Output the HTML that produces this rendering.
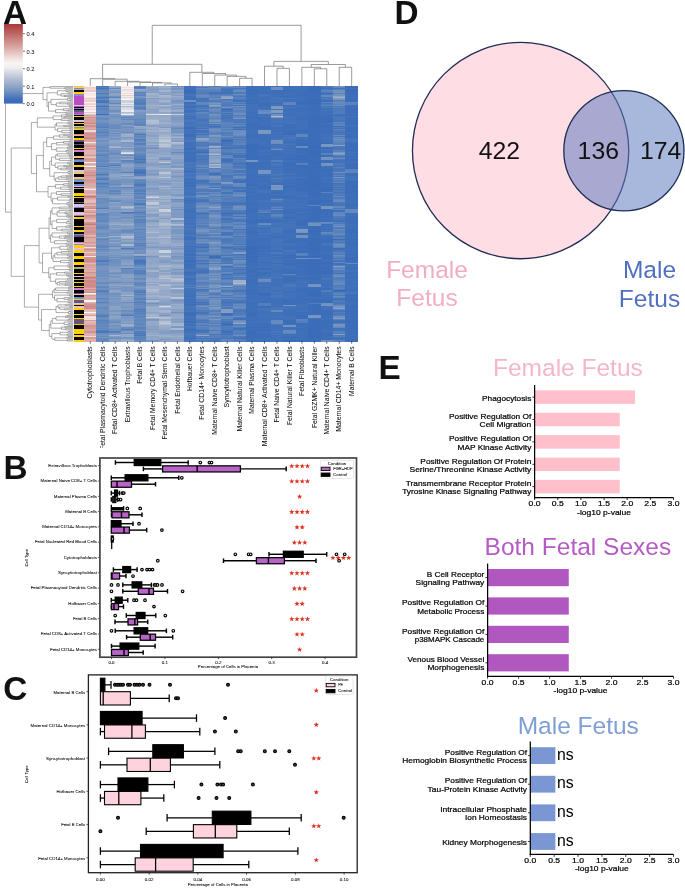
<!DOCTYPE html>
<html><head><meta charset="utf-8"><style>
html,body{margin:0;padding:0;background:#fff;}
body{width:685px;height:891px;overflow:hidden;position:relative;font-family:"Liberation Sans",sans-serif;}
.hc{position:absolute;top:86px;height:255.5px;}
svg{position:absolute;left:0;top:0;will-change:transform;}
svg text{font-family:"Liberation Sans",sans-serif;}
</style></head><body>
<div class="hc" style="left:84.00px;width:12.75px;background:linear-gradient(#faf3f3 0.00px 1.11px,#eacfcd 1.11px 2.22px,#ecd3d2 2.22px 3.33px,#efd8d6 3.33px 4.44px,#e8cac8 4.44px 5.55px,#faf4f3 5.55px 6.67px,#f5e5e4 6.67px 7.78px,#f6e8e7 7.78px 8.89px,#f7ebea 8.89px 10.00px,#faf5f4 10.00px 11.11px,#f5e7e5 11.11px 12.22px,#e9cbc9 12.22px 13.33px,#f0dbda 13.33px 14.44px,#eacfcd 14.44px 15.55px,#faf4f3 15.55px 16.66px,#efd8d6 16.66px 17.77px,#ebd0ce 17.77px 18.88px,#faf2f1 18.88px 20.00px,#e7c8c6 20.00px 21.11px,#f5e7e5 21.11px 22.22px,#f7eae8 22.22px 23.33px,#eed7d5 23.33px 24.44px,#faf2f1 24.44px 25.55px,#e8cac8 25.55px 26.66px,#f5e7e5 26.66px 27.77px,#c8cfdd 27.77px 28.88px,#d7a09d 28.88px 29.99px,#ddafad 29.99px 31.10px,#d08f8d 31.10px 32.22px,#d8a3a0 32.22px 33.33px,#d59d9a 33.33px 34.44px,#d59c99 34.44px 35.55px,#d49a97 35.55px 36.66px,#cc8784 36.66px 37.77px,#dcaeab 37.77px 38.88px,#cf8e8b 38.88px 41.10px,#d7a29f 41.10px 42.21px,#dcacaa 42.21px 43.32px,#d59d9a 43.32px 44.43px,#efd8d6 44.43px 45.55px,#d7a29f 45.55px 46.66px,#d19290 46.66px 47.77px,#d29491 47.77px 48.88px,#d29593 48.88px 49.99px,#d49a97 49.99px 51.10px,#cf8e8b 51.10px 52.21px,#cc8784 52.21px 53.32px,#d69f9c 53.32px 54.43px,#d7a29f 54.43px 55.54px,#f5e5e4 55.54px 56.65px,#e1b9b6 56.65px 57.77px,#dcacaa 57.77px 58.88px,#d49896 58.88px 59.99px,#cf8e8b 59.99px 61.10px,#dfb5b3 61.10px 62.21px,#d49896 62.21px 63.32px,#d9a6a4 63.32px 64.43px,#dfb5b3 64.43px 65.54px,#deb2b0 65.54px 66.65px,#e1b9b6 66.65px 67.76px,#dbaba8 67.76px 68.87px,#d49a97 68.87px 69.98px,#e2bcb9 69.98px 71.10px,#e5c3c1 71.10px 72.21px,#d7a09d 72.21px 73.32px,#d39794 73.32px 74.43px,#d69f9c 74.43px 75.54px,#f9f5f5 75.54px 76.65px,#ddafad 76.65px 77.76px,#daa9a7 77.76px 78.87px,#e1b9b6 78.87px 79.98px,#f9f5f5 79.98px 81.09px,#d7a29f 81.09px 82.20px,#dcacaa 82.20px 83.32px,#e0b7b5 83.32px 84.43px,#d7a29f 84.43px 85.54px,#d19290 85.54px 86.65px,#d59d9a 86.65px 87.76px,#d39794 87.76px 88.87px,#cd8987 88.87px 89.98px,#d69f9c 89.98px 92.20px,#dcacaa 92.20px 93.31px,#d39794 93.31px 94.42px,#d49896 94.42px 95.53px,#d59d9a 95.53px 96.65px,#d9a6a4 96.65px 97.76px,#dcacaa 97.76px 98.87px,#d9a6a4 98.87px 99.98px,#dcacaa 99.98px 101.09px,#deb2b0 101.09px 102.20px,#e4c0be 102.20px 103.31px,#f7eae8 103.31px 104.42px,#dcaeab 104.42px 105.53px,#daa9a7 105.53px 106.64px,#daa8a5 106.64px 107.75px,#e6c5c3 107.75px 108.87px,#d69f9c 108.87px 109.98px,#c87c7a 109.98px 111.09px,#ce8b88 111.09px 112.20px,#d9a6a4 112.20px 113.31px,#deb1ae 113.31px 114.42px,#e3bfbd 114.42px 115.53px,#e2bcb9 115.53px 116.64px,#d49896 116.64px 117.75px,#daa9a7 117.75px 118.86px,#e2bcb9 118.86px 119.97px,#d1918e 119.97px 121.08px,#d49a97 121.08px 122.20px,#cd8987 122.20px 123.31px,#eacdcb 123.31px 124.42px,#daa8a5 124.42px 125.53px,#d29491 125.53px 126.64px,#e1bab8 126.64px 127.75px,#daa8a5 127.75px 128.86px,#cf8e8b 128.86px 129.97px,#d29491 129.97px 131.08px,#d59c99 131.08px 132.19px,#d9a6a4 132.19px 133.30px,#ddafad 133.30px 134.42px,#e3bdbb 134.42px 135.53px,#d29593 135.53px 136.64px,#cf8c8a 136.64px 137.75px,#c87c7a 137.75px 138.86px,#d7a09d 138.86px 139.97px,#d8a3a0 139.97px 141.08px,#d29593 141.08px 143.30px,#d49a97 143.30px 144.41px,#d29491 144.41px 145.52px,#d1918e 145.52px 146.63px,#d59d9a 146.63px 147.75px,#d49a97 147.75px 148.86px,#e1b9b6 148.86px 149.97px,#dbaba8 149.97px 151.08px,#d1918e 151.08px 152.19px,#daa9a7 152.19px 153.30px,#daa8a5 153.30px 154.41px,#dcaeab 154.41px 155.52px,#d39794 155.52px 156.63px,#d9a6a4 156.63px 157.74px,#dfb5b3 157.74px 158.85px,#d59c99 158.85px 159.97px,#d9a5a2 159.97px 161.08px,#f1dddb 161.08px 162.19px,#dcacaa 162.19px 163.30px,#cf8e8b 163.30px 164.41px,#d9a5a2 164.41px 165.52px,#eacdcb 165.52px 166.63px,#daa8a5 166.63px 167.74px,#dcacaa 167.74px 168.85px,#d59d9a 168.85px 169.96px,#f9eeed 169.96px 171.07px,#d08f8d 171.07px 172.18px,#d49a97 172.18px 173.30px,#cf8c8a 173.30px 174.41px,#cf8e8b 174.41px 175.52px,#d59c99 175.52px 176.63px,#e1b9b6 176.63px 177.74px,#daa8a5 177.74px 178.85px,#d49a97 178.85px 179.96px,#daa9a7 179.96px 181.07px,#d69f9c 181.07px 182.18px,#deb1ae 182.18px 183.29px,#d7a29f 183.29px 184.40px,#ddafad 184.40px 185.52px,#d1918e 185.52px 186.63px,#d7a29f 186.63px 187.74px,#d8a3a0 187.74px 188.85px,#dcaeab 188.85px 189.96px,#d39794 189.96px 191.07px,#ca817e 191.07px 192.18px,#cd8987 192.18px 193.29px,#d69f9c 193.29px 194.40px,#cd8987 194.40px 195.51px,#ce8b88 195.51px 196.62px,#d19290 196.62px 197.73px,#ce8b88 197.73px 198.85px,#cd8987 198.85px 199.96px,#cf8c8a 199.96px 201.07px,#d29491 201.07px 202.18px,#dcacaa 202.18px 203.29px,#d1918e 203.29px 204.40px,#d69f9c 204.40px 205.51px,#cd8885 205.51px 206.62px,#faf3f2 206.62px 207.73px,#eacdcb 207.73px 208.84px,#d59d9a 208.84px 209.95px,#dbaba8 209.95px 211.07px,#daa8a5 211.07px 212.18px,#d9a5a2 212.18px 213.29px,#dbaba8 213.29px 214.40px,#faf5f4 214.40px 215.51px,#deb2b0 215.51px 216.62px,#d69f9c 216.62px 217.73px,#d1918e 217.73px 218.84px,#d29593 218.84px 219.95px,#cc8784 219.95px 221.06px,#cf8e8b 221.06px 223.28px,#deb1ae 223.28px 224.40px,#e2bcb9 224.40px 225.51px,#faf3f3 225.51px 226.62px,#e6c5c3 226.62px 227.73px,#e1b9b6 227.73px 228.84px,#d69f9c 228.84px 229.95px,#efd8d6 229.95px 231.06px,#f5e7e5 231.06px 232.17px,#eed7d5 232.17px 233.28px,#f2e0df 233.28px 234.39px,#d59c99 234.39px 235.50px,#e1b9b6 235.50px 236.62px,#dcacaa 236.62px 237.73px,#ddafad 237.73px 238.84px,#d29593 238.84px 239.95px,#d29491 239.95px 241.06px,#d59c99 241.06px 242.17px,#d59d9a 242.17px 243.28px,#daa8a5 243.28px 244.39px,#d8a3a0 244.39px 245.50px,#d29491 245.50px 246.61px,#daa8a5 246.61px 247.72px,#dfb4b2 247.72px 248.83px,#deb2b0 248.83px 249.95px,#f0dbda 249.95px 251.06px,#d49a97 251.06px 252.17px,#d59c99 252.17px 253.28px,#ddafad 253.28px 254.39px,#deb1ae 254.39px 255.50px)"></div>
<div class="hc" style="left:96.45px;width:12.75px;background:linear-gradient(#4a78bb 0.00px 1.11px,#537ebc 1.11px 2.22px,#4574ba 2.22px 3.33px,#5881bc 3.33px 4.44px,#658abe 4.44px 5.55px,#698cbe 5.55px 6.67px,#507cbb 6.67px 7.78px,#6187bd 7.78px 8.89px,#6a8dbf 8.89px 10.00px,#5d85bd 10.00px 11.11px,#4c79bb 11.11px 12.22px,#517cbb 12.22px 13.33px,#6a8dbf 13.33px 14.44px,#4a78bb 14.44px 15.55px,#4272ba 15.55px 16.66px,#698cbe 16.66px 17.77px,#6a8dbf 17.77px 18.88px,#6187bd 18.88px 20.00px,#4373ba 20.00px 21.11px,#678bbe 21.11px 22.22px,#5a83bc 22.22px 23.33px,#5881bc 23.33px 24.44px,#6389be 24.44px 25.55px,#5e85bd 25.55px 26.66px,#698cbe 26.66px 27.77px,#3a6bb9 27.77px 28.88px,#7192c0 28.88px 29.99px,#7695c1 29.99px 31.10px,#6f91bf 31.10px 32.22px,#6187bd 32.22px 33.33px,#698cbe 33.33px 34.44px,#7393c0 34.44px 35.55px,#6c8ebf 35.55px 36.66px,#678bbe 36.66px 37.77px,#5e85bd 37.77px 38.88px,#6389be 38.88px 39.99px,#5b83bd 39.99px 41.10px,#557fbc 41.10px 42.21px,#6e90bf 42.21px 43.32px,#6489be 43.32px 44.43px,#6389be 44.43px 45.55px,#557fbc 45.55px 46.66px,#678bbe 46.66px 47.77px,#698cbe 47.77px 48.88px,#5d85bd 48.88px 49.99px,#6a8dbf 49.99px 52.21px,#809bc3 52.21px 53.32px,#7e9ac2 53.32px 54.43px,#6f91bf 54.43px 55.54px,#7b98c2 55.54px 56.65px,#7695c1 56.65px 57.77px,#7594c0 57.77px 58.88px,#7192c0 58.88px 59.99px,#698cbe 59.99px 61.10px,#6389be 61.10px 62.21px,#6e90bf 62.21px 64.43px,#6389be 64.43px 65.54px,#7896c1 65.54px 66.65px,#698cbe 66.65px 67.76px,#658abe 67.76px 68.87px,#5881bc 68.87px 69.98px,#6a8dbf 69.98px 71.10px,#678bbe 71.10px 72.21px,#698cbe 72.21px 74.43px,#6187bd 74.43px 75.54px,#6c8ebf 75.54px 76.65px,#678bbe 76.65px 77.76px,#658abe 77.76px 78.87px,#698cbe 78.87px 79.98px,#4e7bbb 79.98px 81.09px,#7997c1 81.09px 82.20px,#678bbe 82.20px 83.32px,#6a8dbf 83.32px 84.43px,#7393c0 84.43px 85.54px,#678bbe 85.54px 86.65px,#698cbe 86.65px 87.76px,#4675ba 87.76px 88.87px,#658abe 88.87px 89.98px,#7594c0 89.98px 91.09px,#658abe 91.09px 92.20px,#5b83bd 92.20px 93.31px,#4d79bb 93.31px 94.42px,#6e90bf 94.42px 95.53px,#658abe 95.53px 96.65px,#4f7bbb 96.65px 97.76px,#5b83bd 97.76px 98.87px,#658abe 98.87px 99.98px,#5a83bc 99.98px 101.09px,#698cbe 101.09px 102.20px,#6a8dbf 102.20px 103.31px,#6e90bf 103.31px 104.42px,#6f91bf 104.42px 105.53px,#698cbe 105.53px 106.64px,#6e90bf 106.64px 107.75px,#7896c1 107.75px 108.87px,#859ec4 108.87px 109.98px,#7997c1 109.98px 111.09px,#829cc3 111.09px 112.20px,#6389be 112.20px 113.31px,#698cbe 113.31px 114.42px,#6c8ebf 114.42px 115.53px,#658abe 115.53px 116.64px,#7192c0 116.64px 117.75px,#6f91bf 117.75px 121.08px,#698cbe 121.08px 122.20px,#537ebc 122.20px 123.31px,#829cc3 123.31px 124.42px,#7b98c2 124.42px 125.53px,#859ec4 125.53px 126.64px,#6087bd 126.64px 128.86px,#6187bd 128.86px 129.97px,#678bbe 129.97px 132.19px,#658abe 132.19px 133.30px,#678bbe 133.30px 134.42px,#6087bd 134.42px 135.53px,#6f91bf 135.53px 136.64px,#7695c1 136.64px 137.75px,#6e90bf 137.75px 139.97px,#6489be 139.97px 141.08px,#6087bd 141.08px 142.19px,#658abe 142.19px 143.30px,#6e90bf 143.30px 144.41px,#7997c1 144.41px 145.52px,#7695c1 145.52px 146.63px,#6e90bf 146.63px 147.75px,#6a8dbf 147.75px 148.86px,#7594c0 148.86px 149.97px,#6f91bf 149.97px 151.08px,#8fa5c7 151.08px 152.19px,#6a8dbf 152.19px 153.30px,#6086bd 153.30px 154.41px,#6c8ebf 154.41px 155.52px,#6e90bf 155.52px 156.63px,#7192c0 156.63px 157.74px,#6e90bf 157.74px 158.85px,#6187bd 158.85px 159.97px,#6087bd 159.97px 162.19px,#7192c0 162.19px 163.30px,#5e85bd 163.30px 164.41px,#6f91bf 164.41px 165.52px,#7e9ac2 165.52px 166.63px,#7695c1 166.63px 167.74px,#7997c1 167.74px 169.96px,#658abe 169.96px 172.18px,#6389be 172.18px 173.30px,#678bbe 173.30px 174.41px,#4e7bbb 174.41px 175.52px,#658abe 175.52px 176.63px,#678bbe 176.63px 177.74px,#5b83bd 177.74px 178.85px,#6c8ebf 178.85px 179.96px,#7594c0 179.96px 181.07px,#7695c1 181.07px 182.18px,#7594c0 182.18px 184.40px,#6f91bf 184.40px 185.52px,#7393c0 185.52px 186.63px,#698cbe 186.63px 187.74px,#7695c1 187.74px 188.85px,#6c8ebf 188.85px 189.96px,#6e90bf 189.96px 191.07px,#7b98c2 191.07px 192.18px,#7393c0 192.18px 193.29px,#7896c1 193.29px 194.40px,#7b98c2 194.40px 195.51px,#698cbe 195.51px 196.62px,#678bbe 196.62px 197.73px,#7594c0 197.73px 198.85px,#7997c1 198.85px 199.96px,#678bbe 199.96px 201.07px,#6087bd 201.07px 202.18px,#7192c0 202.18px 203.29px,#6f91bf 203.29px 204.40px,#557fbc 204.40px 205.51px,#6187bd 205.51px 206.62px,#698cbe 206.62px 207.73px,#678bbe 207.73px 208.84px,#6e90bf 208.84px 209.95px,#7192c0 209.95px 212.18px,#6087bd 212.18px 213.29px,#698cbe 213.29px 214.40px,#6f91bf 214.40px 215.51px,#5680bc 215.51px 216.62px,#6c8ebf 216.62px 217.73px,#7393c0 217.73px 219.95px,#7192c0 219.95px 221.06px,#678bbe 221.06px 222.17px,#658abe 222.17px 223.28px,#6f91bf 223.28px 224.40px,#6e90bf 224.40px 225.51px,#7192c0 225.51px 226.62px,#698cbe 226.62px 227.73px,#678bbe 227.73px 228.84px,#517cbb 228.84px 229.95px,#5881bc 229.95px 231.06px,#6489be 231.06px 232.17px,#6f91bf 232.17px 233.28px,#658abe 233.28px 234.39px,#5680bc 234.39px 235.50px,#5e85bd 235.50px 237.73px,#698cbe 237.73px 238.84px,#5e85bd 238.84px 239.95px,#6389be 239.95px 241.06px,#698cbe 241.06px 242.17px,#6087bd 242.17px 243.28px,#6a8dbf 243.28px 244.39px,#537ebc 244.39px 245.50px,#4877ba 245.50px 246.61px,#6a8dbf 246.61px 247.72px,#6f91bf 247.72px 248.83px,#7192c0 248.83px 249.95px,#678bbe 249.95px 251.06px,#7997c1 251.06px 252.17px,#6087bd 252.17px 253.28px,#6187bd 253.28px 254.39px,#698cbe 254.39px 255.50px)"></div>
<div class="hc" style="left:108.90px;width:12.75px;background:linear-gradient(#97abc9 0.00px 1.11px,#8ba3c6 1.11px 2.22px,#658abe 2.22px 3.33px,#97abc9 3.33px 4.44px,#7d99c2 4.44px 5.55px,#7695c1 5.55px 6.67px,#88a1c5 6.67px 7.78px,#8ba3c6 7.78px 8.89px,#87a0c4 8.89px 10.00px,#6e90bf 10.00px 11.11px,#5882bc 11.11px 12.22px,#8da4c6 12.22px 13.33px,#93a8c8 13.33px 14.44px,#7695c1 14.44px 15.55px,#7e9ac2 15.55px 16.66px,#5d85bd 16.66px 17.77px,#859ec4 17.77px 18.88px,#97abc9 18.88px 20.00px,#7393c0 20.00px 21.11px,#88a1c5 21.11px 22.22px,#839dc4 22.22px 23.33px,#809bc3 23.33px 24.44px,#6e90bf 24.44px 25.55px,#7b98c2 25.55px 26.66px,#95a9c8 26.66px 27.77px,#7192c0 27.77px 28.88px,#7896c1 28.88px 29.99px,#6c8ebf 29.99px 31.10px,#7695c1 31.10px 33.33px,#809bc3 33.33px 34.44px,#7e9ac2 34.44px 35.55px,#7695c1 35.55px 36.66px,#7e9ac2 36.66px 37.77px,#6c8ebf 37.77px 38.88px,#678bbe 38.88px 39.99px,#6c8ebf 39.99px 41.10px,#6a8dbf 41.10px 42.21px,#6389be 42.21px 43.32px,#7e9ac2 43.32px 44.43px,#7192c0 44.43px 45.55px,#829cc3 45.55px 46.66px,#6a8dbf 46.66px 47.77px,#7e9ac2 47.77px 48.88px,#7393c0 48.88px 49.99px,#7695c1 49.99px 51.10px,#859ec4 51.10px 52.21px,#7192c0 52.21px 53.32px,#7896c1 53.32px 54.43px,#8ba3c6 54.43px 55.54px,#8aa2c5 55.54px 56.65px,#859ec4 56.65px 57.77px,#829cc3 57.77px 58.88px,#7b98c2 58.88px 59.99px,#a0b1cc 59.99px 61.10px,#a8b7cf 61.10px 62.21px,#7896c1 62.21px 63.32px,#7e9ac2 63.32px 64.43px,#7393c0 64.43px 65.54px,#7192c0 65.54px 66.65px,#658abe 66.65px 67.76px,#6a8dbf 67.76px 68.87px,#7e9ac2 68.87px 69.98px,#829cc3 69.98px 71.10px,#7192c0 71.10px 72.21px,#7b98c2 72.21px 73.32px,#7e9ac2 73.32px 74.43px,#7896c1 74.43px 75.54px,#8da4c6 75.54px 76.65px,#658abe 76.65px 77.76px,#698cbe 77.76px 78.87px,#507cbb 78.87px 79.98px,#7d99c2 79.98px 81.09px,#6a8dbf 81.09px 82.20px,#7d99c2 82.20px 83.32px,#6c8ebf 83.32px 84.43px,#7695c1 84.43px 85.54px,#7997c1 85.54px 86.65px,#7b98c2 86.65px 87.76px,#8fa5c7 87.76px 91.09px,#859ec4 91.09px 93.31px,#7d99c2 93.31px 94.42px,#6e90bf 94.42px 95.53px,#6c8ebf 95.53px 96.65px,#6e90bf 96.65px 97.76px,#678bbe 97.76px 98.87px,#7896c1 98.87px 99.98px,#859ec4 99.98px 101.09px,#658abe 101.09px 102.20px,#6f91bf 102.20px 103.31px,#7594c0 103.31px 104.42px,#5d85bd 104.42px 105.53px,#6f91bf 105.53px 106.64px,#5b83bc 106.64px 107.75px,#7393c0 107.75px 108.87px,#7e9ac2 108.87px 109.98px,#8ba3c6 109.98px 111.09px,#8da4c6 111.09px 112.20px,#7e9ac2 112.20px 113.31px,#7997c1 113.31px 114.42px,#658abe 114.42px 115.53px,#8ba3c6 115.53px 116.64px,#839dc4 116.64px 117.75px,#7997c1 117.75px 118.86px,#809bc3 118.86px 119.97px,#8da4c6 119.97px 121.08px,#7e9ac2 121.08px 123.31px,#7594c0 123.31px 124.42px,#829cc3 124.42px 125.53px,#6f91bf 125.53px 126.64px,#7695c1 126.64px 127.75px,#7393c0 127.75px 129.97px,#809bc3 129.97px 131.08px,#7e9ac2 131.08px 132.19px,#7192c0 132.19px 133.30px,#7896c1 133.30px 134.42px,#7e9ac2 134.42px 135.53px,#8ba3c6 135.53px 136.64px,#92a7c8 136.64px 137.75px,#9aadca 137.75px 138.86px,#7b98c2 138.86px 139.97px,#859ec4 139.97px 141.08px,#7b98c2 141.08px 142.19px,#90a6c7 142.19px 143.30px,#7e9ac2 143.30px 144.41px,#7594c0 144.41px 145.52px,#6e90bf 145.52px 146.63px,#7b98c2 146.63px 147.75px,#809bc3 147.75px 148.86px,#6f91bf 148.86px 149.97px,#a3b4cd 149.97px 151.08px,#7b98c2 151.08px 152.19px,#7695c1 152.19px 153.30px,#8ba3c6 153.30px 154.41px,#7695c1 154.41px 155.52px,#8fa5c7 155.52px 156.63px,#809bc3 156.63px 157.74px,#7997c1 157.74px 158.85px,#7695c1 158.85px 159.97px,#678bbe 159.97px 161.08px,#88a1c5 161.08px 162.19px,#8ba3c6 162.19px 163.30px,#7192c0 163.30px 164.41px,#7b98c2 164.41px 165.52px,#839dc4 165.52px 166.63px,#809bc3 166.63px 168.85px,#7594c0 168.85px 169.96px,#7e9ac2 169.96px 171.07px,#678bbe 171.07px 172.18px,#809bc3 172.18px 173.30px,#698cbe 173.30px 174.41px,#6c8ebf 174.41px 175.52px,#6e90bf 175.52px 176.63px,#7192c0 176.63px 177.74px,#7393c0 177.74px 178.85px,#7594c0 178.85px 179.96px,#7b98c2 179.96px 181.07px,#839dc4 181.07px 182.18px,#829cc3 182.18px 183.29px,#859ec4 183.29px 184.40px,#8ba3c6 184.40px 185.52px,#7896c1 185.52px 186.63px,#6f91bf 186.63px 187.74px,#7b98c2 187.74px 188.85px,#859ec4 188.85px 189.96px,#7594c0 189.96px 191.07px,#7896c1 191.07px 192.18px,#8aa2c5 192.18px 193.29px,#829cc3 193.29px 194.40px,#7d99c2 194.40px 195.51px,#658abe 195.51px 196.62px,#7d99c2 196.62px 197.73px,#88a1c5 197.73px 199.96px,#7d99c2 199.96px 201.07px,#859ec4 201.07px 202.18px,#7695c1 202.18px 203.29px,#7896c1 203.29px 204.40px,#92a7c8 204.40px 205.51px,#859ec4 205.51px 206.62px,#7192c0 206.62px 207.73px,#6e90bf 207.73px 208.84px,#7b98c2 208.84px 209.95px,#7594c0 209.95px 211.07px,#839dc4 211.07px 212.18px,#7695c1 212.18px 213.29px,#7997c1 213.29px 214.40px,#809bc3 214.40px 215.51px,#7d99c2 215.51px 216.62px,#7695c1 216.62px 217.73px,#7b98c2 217.73px 218.84px,#7d99c2 218.84px 219.95px,#8aa2c5 219.95px 222.17px,#88a1c5 222.17px 223.28px,#8ba3c6 223.28px 224.40px,#7997c1 224.40px 225.51px,#87a0c4 225.51px 227.73px,#7997c1 227.73px 228.84px,#7e9ac2 228.84px 229.95px,#8fa5c7 229.95px 231.06px,#88a1c5 231.06px 232.17px,#87a0c4 232.17px 233.28px,#7e9ac2 233.28px 234.39px,#7594c0 234.39px 235.50px,#6a8dbf 235.50px 236.62px,#7e9ac2 236.62px 237.73px,#829cc3 237.73px 238.84px,#6f91bf 238.84px 239.95px,#7695c1 239.95px 241.06px,#7997c1 241.06px 242.17px,#7393c0 242.17px 243.28px,#6a8dbf 243.28px 244.39px,#6f91bf 244.39px 245.50px,#5680bc 245.50px 246.61px,#7594c0 246.61px 247.72px,#7695c1 247.72px 248.83px,#a8b7cf 248.83px 249.95px,#829cc3 249.95px 251.06px,#6f91bf 251.06px 253.28px,#88a1c5 253.28px 254.39px,#87a0c4 254.39px 255.50px)"></div>
<div class="hc" style="left:121.35px;width:12.75px;background:linear-gradient(#faf5f5 0.00px 1.11px,#f3e2e0 1.11px 2.22px,#f3f1f3 2.22px 3.33px,#edd5d3 3.33px 4.44px,#e7e7ec 4.44px 5.55px,#faf5f5 5.55px 6.67px,#eed7d5 6.67px 7.78px,#faf3f3 7.78px 8.89px,#eacdcb 8.89px 10.00px,#eeedf0 10.00px 11.11px,#ecd3d2 11.11px 12.22px,#efeef1 12.22px 13.33px,#faf5f4 13.33px 14.44px,#cad0dd 14.44px 15.55px,#c8cfdd 15.55px 16.66px,#ebeaee 16.66px 17.77px,#c7cedc 17.77px 18.88px,#e6e6ec 18.88px 20.00px,#abb9d0 20.00px 21.11px,#d0d5e0 21.11px 22.22px,#d7dae4 22.22px 23.33px,#dcdee6 23.33px 24.44px,#ebeaee 24.44px 25.55px,#b2bed3 25.55px 26.66px,#c2cada 26.66px 27.77px,#eeedf0 27.77px 28.88px,#9aadca 28.88px 29.99px,#7695c1 29.99px 31.10px,#5d85bd 31.10px 32.22px,#7896c1 32.22px 33.33px,#5e85bd 33.33px 34.44px,#7b98c2 34.44px 36.66px,#678bbe 36.66px 37.77px,#698cbe 37.77px 38.88px,#859ec4 38.88px 39.99px,#7997c1 39.99px 41.10px,#6a8dbf 41.10px 42.21px,#7896c1 42.21px 43.32px,#7695c1 43.32px 44.43px,#7896c1 44.43px 45.55px,#658abe 45.55px 46.66px,#8aa2c5 46.66px 47.77px,#a0b1cc 47.77px 48.88px,#9aadca 48.88px 49.99px,#9baecb 49.99px 51.10px,#7997c1 51.10px 52.21px,#87a0c4 52.21px 53.32px,#8aa2c5 53.32px 54.43px,#a8b7cf 54.43px 55.54px,#7896c1 55.54px 56.65px,#809bc3 56.65px 57.77px,#839dc4 57.77px 59.99px,#7997c1 59.99px 61.10px,#98acc9 61.10px 62.21px,#7695c1 62.21px 63.32px,#829cc3 63.32px 64.43px,#97abc9 64.43px 65.54px,#cfd4e0 65.54px 66.65px,#dde0e7 66.65px 67.76px,#7d99c2 67.76px 68.87px,#658abe 68.87px 69.98px,#92a7c8 69.98px 71.10px,#6f91bf 71.10px 72.21px,#859ec4 72.21px 73.32px,#92a7c8 73.32px 74.43px,#5d85bd 74.43px 75.54px,#7192c0 75.54px 76.65px,#7896c1 76.65px 77.76px,#8ba3c6 77.76px 78.87px,#90a6c7 78.87px 79.98px,#8ba3c6 79.98px 81.09px,#839dc4 81.09px 82.20px,#7e9ac2 82.20px 83.32px,#809bc3 83.32px 84.43px,#7e9ac2 84.43px 85.54px,#557fbc 85.54px 86.65px,#8da4c6 86.65px 87.76px,#8ba3c6 87.76px 88.87px,#9baecb 88.87px 89.98px,#7896c1 89.98px 91.09px,#8aa2c5 91.09px 92.20px,#87a0c4 92.20px 93.31px,#6f91bf 93.31px 94.42px,#7594c0 94.42px 95.53px,#6f91bf 95.53px 96.65px,#809bc3 96.65px 97.76px,#7d99c2 97.76px 98.87px,#92a7c8 98.87px 101.09px,#5d85bd 101.09px 102.20px,#7192c0 102.20px 103.31px,#7695c1 103.31px 104.42px,#809bc3 104.42px 105.53px,#8ba3c6 105.53px 106.64px,#7997c1 106.64px 107.75px,#8ba3c6 107.75px 108.87px,#7e9ac2 108.87px 109.98px,#92a7c8 109.98px 111.09px,#88a1c5 111.09px 112.20px,#859ec4 112.20px 113.31px,#7d99c2 113.31px 114.42px,#7997c1 114.42px 115.53px,#6e90bf 115.53px 116.64px,#7997c1 116.64px 117.75px,#7b98c2 117.75px 118.86px,#7997c1 118.86px 119.97px,#a8b7cf 119.97px 121.08px,#b3bfd3 121.08px 122.20px,#9aadca 122.20px 123.31px,#7b98c2 123.31px 124.42px,#88a1c5 124.42px 125.53px,#4b78bb 125.53px 126.64px,#5b83bd 126.64px 127.75px,#7d99c2 127.75px 128.86px,#7695c1 128.86px 129.97px,#7e9ac2 129.97px 131.08px,#658abe 131.08px 132.19px,#7896c1 132.19px 133.30px,#839dc4 133.30px 134.42px,#7d99c2 134.42px 135.53px,#87a0c4 135.53px 136.64px,#8ba3c6 136.64px 137.75px,#9dafcb 137.75px 138.86px,#8aa2c5 138.86px 139.97px,#829cc3 139.97px 141.08px,#809bc3 141.08px 142.19px,#87a0c4 142.19px 143.30px,#6e90bf 143.30px 144.41px,#678bbe 144.41px 145.52px,#6a8dbf 145.52px 146.63px,#809bc3 146.63px 147.75px,#90a6c7 147.75px 148.86px,#8fa5c7 148.86px 149.97px,#b3bfd3 149.97px 151.08px,#adbbd1 151.08px 152.19px,#9fb0cc 152.19px 153.30px,#7e9ac2 153.30px 154.41px,#90a6c7 154.41px 155.52px,#7997c1 155.52px 156.63px,#7b98c2 156.63px 157.74px,#a5b5ce 157.74px 158.85px,#b0bdd2 158.85px 159.97px,#7192c0 159.97px 161.08px,#7997c1 161.08px 162.19px,#4c79bb 162.19px 163.30px,#6489be 163.30px 164.41px,#809bc3 164.41px 165.52px,#8da4c6 165.52px 166.63px,#7192c0 166.63px 167.74px,#8da4c6 167.74px 168.85px,#7e9ac2 168.85px 169.96px,#7695c1 169.96px 171.07px,#678bbe 171.07px 172.18px,#6f91bf 172.18px 173.30px,#7695c1 173.30px 174.41px,#839dc4 174.41px 175.52px,#859ec4 175.52px 176.63px,#8aa2c5 176.63px 177.74px,#8ba3c6 177.74px 178.85px,#7594c0 178.85px 179.96px,#839dc4 179.96px 181.07px,#90a6c7 181.07px 182.18px,#537ebc 182.18px 183.29px,#6f91bf 183.29px 184.40px,#6a8dbf 184.40px 185.52px,#678bbe 185.52px 186.63px,#6f91bf 186.63px 187.74px,#87a0c4 187.74px 189.96px,#8aa2c5 189.96px 191.07px,#8da4c6 191.07px 192.18px,#7b98c2 192.18px 193.29px,#88a1c5 193.29px 194.40px,#839dc4 194.40px 195.51px,#6f91bf 195.51px 196.62px,#829cc3 196.62px 197.73px,#7695c1 197.73px 198.85px,#9baecb 198.85px 199.96px,#7997c1 199.96px 201.07px,#7695c1 201.07px 202.18px,#7896c1 202.18px 203.29px,#7695c1 203.29px 205.51px,#90a6c7 205.51px 206.62px,#87a0c4 206.62px 207.73px,#8ba3c6 207.73px 208.84px,#a3b4cd 208.84px 209.95px,#7997c1 209.95px 211.07px,#93a8c8 211.07px 212.18px,#92a7c8 212.18px 213.29px,#8ba3c6 213.29px 214.40px,#87a0c4 214.40px 215.51px,#6a8dbf 215.51px 216.62px,#809bc3 216.62px 217.73px,#829cc3 217.73px 218.84px,#7e9ac2 218.84px 219.95px,#809bc3 219.95px 221.06px,#7393c0 221.06px 222.17px,#87a0c4 222.17px 223.28px,#809bc3 223.28px 224.40px,#6c8ebf 224.40px 225.51px,#7997c1 225.51px 226.62px,#6f91bf 226.62px 227.73px,#658abe 227.73px 228.84px,#4d79bb 228.84px 229.95px,#829cc3 229.95px 231.06px,#7997c1 231.06px 232.17px,#7896c1 232.17px 233.28px,#839dc4 233.28px 234.39px,#809bc3 234.39px 235.50px,#87a0c4 235.50px 236.62px,#7997c1 236.62px 237.73px,#9baecb 237.73px 238.84px,#a0b1cc 238.84px 239.95px,#8fa5c7 239.95px 241.06px,#698cbe 241.06px 242.17px,#678bbe 242.17px 243.28px,#4e7bbb 243.28px 244.39px,#678bbe 244.39px 245.50px,#809bc3 245.50px 246.61px,#698cbe 246.61px 247.72px,#98acc9 247.72px 248.83px,#92a7c8 248.83px 249.95px,#95a9c8 249.95px 251.06px,#7393c0 251.06px 252.17px,#7997c1 252.17px 253.28px,#8ba3c6 253.28px 254.39px,#98acc9 254.39px 255.50px)"></div>
<div class="hc" style="left:133.80px;width:12.75px;background:linear-gradient(#5b83bd 0.00px 1.11px,#4e7abb 1.11px 2.22px,#557fbc 2.22px 3.33px,#95a9c8 3.33px 4.44px,#839dc4 4.44px 5.55px,#5881bc 5.55px 6.67px,#678bbe 6.67px 7.78px,#6187bd 7.78px 8.89px,#5b84bd 8.89px 10.00px,#7997c1 10.00px 11.11px,#7393c0 11.11px 12.22px,#6a8dbf 12.22px 13.33px,#5882bc 13.33px 14.44px,#5a83bc 14.44px 15.55px,#537ebc 15.55px 16.66px,#4e7abb 16.66px 17.77px,#557fbc 17.77px 18.88px,#6a8dbf 18.88px 20.00px,#658abe 20.00px 21.11px,#537ebc 21.11px 22.22px,#5881bc 22.22px 23.33px,#6087bd 23.33px 24.44px,#839dc4 24.44px 25.55px,#7896c1 25.55px 26.66px,#7594c0 26.66px 27.77px,#7393c0 27.77px 28.88px,#6f91bf 28.88px 29.99px,#6e90bf 29.99px 31.10px,#7192c0 31.10px 32.22px,#6c8ebf 32.22px 33.33px,#6087bd 33.33px 34.44px,#698cbe 34.44px 35.55px,#5d85bd 35.55px 36.66px,#698cbe 36.66px 37.77px,#5881bc 37.77px 38.88px,#6087bd 38.88px 39.99px,#98acc9 39.99px 41.10px,#8da4c6 41.10px 43.32px,#7695c1 43.32px 44.43px,#87a0c4 44.43px 45.55px,#7b98c2 45.55px 46.66px,#6c8ebf 46.66px 47.77px,#4d7abb 47.77px 48.88px,#678bbe 48.88px 49.99px,#6087bd 49.99px 51.10px,#698cbe 51.10px 52.21px,#6e90bf 52.21px 53.32px,#517cbb 53.32px 54.43px,#5b83bd 54.43px 55.54px,#7192c0 55.54px 56.65px,#557fbc 56.65px 57.77px,#5881bc 57.77px 58.88px,#698cbe 58.88px 59.99px,#7594c0 59.99px 61.10px,#6389be 61.10px 62.21px,#678bbe 62.21px 63.32px,#5e85bd 63.32px 64.43px,#658abe 64.43px 65.54px,#6f91bf 65.54px 66.65px,#698cbe 66.65px 67.76px,#5d85bd 67.76px 68.87px,#5a83bc 68.87px 69.98px,#537ebc 69.98px 71.10px,#5680bc 71.10px 72.21px,#537ebc 72.21px 73.32px,#4574ba 73.32px 74.43px,#5881bc 74.43px 75.54px,#4977bb 75.54px 76.65px,#658abe 76.65px 77.76px,#6f91bf 77.76px 79.98px,#7997c1 79.98px 81.09px,#6389be 81.09px 82.20px,#6c8ebf 82.20px 83.32px,#4f7bbb 83.32px 84.43px,#4b78bb 84.43px 85.54px,#4272ba 85.54px 86.65px,#4977bb 86.65px 87.76px,#5881bc 87.76px 88.87px,#537ebc 88.87px 89.98px,#809bc3 89.98px 91.09px,#8da4c6 91.09px 92.20px,#90a6c7 92.20px 93.31px,#658abe 93.31px 94.42px,#6087bd 94.42px 95.53px,#5b83bd 95.53px 96.65px,#5a83bc 96.65px 97.76px,#4b78bb 97.76px 98.87px,#517cbb 98.87px 99.98px,#5881bc 99.98px 101.09px,#6c8ebf 101.09px 102.20px,#6389be 102.20px 103.31px,#5e85bd 103.31px 104.42px,#557fbc 104.42px 105.53px,#698cbe 105.53px 106.64px,#4e7bbb 106.64px 107.75px,#658abe 107.75px 108.87px,#6489be 108.87px 109.98px,#5e85bd 109.98px 111.09px,#6087bd 111.09px 112.20px,#5e85bd 112.20px 113.31px,#7594c0 113.31px 114.42px,#6389be 114.42px 115.53px,#658abe 115.53px 116.64px,#537ebc 116.64px 117.75px,#4876ba 117.75px 118.86px,#6e90bf 118.86px 119.97px,#7695c1 119.97px 121.08px,#698cbe 121.08px 122.20px,#6c8ebf 122.20px 123.31px,#7997c1 123.31px 124.42px,#6a8dbf 124.42px 125.53px,#4b78bb 125.53px 126.64px,#698cbe 126.64px 127.75px,#6087bd 127.75px 128.86px,#6e90bf 128.86px 129.97px,#5881bc 129.97px 131.08px,#6a8dbf 131.08px 132.19px,#6e90bf 132.19px 133.30px,#557fbc 133.30px 134.42px,#5d85bd 134.42px 135.53px,#5882bc 135.53px 136.64px,#678bbe 136.64px 137.75px,#658abe 137.75px 138.86px,#6a8dbf 138.86px 139.97px,#698cbe 139.97px 141.08px,#7695c1 141.08px 142.19px,#6a8dbf 142.19px 143.30px,#5d85bd 143.30px 144.41px,#6a8dbf 144.41px 145.52px,#6389be 145.52px 146.63px,#698cbe 146.63px 147.75px,#6489be 147.75px 148.86px,#6c8ebf 148.86px 149.97px,#658abe 149.97px 151.08px,#6087bd 151.08px 152.19px,#678bbe 152.19px 153.30px,#6087bd 153.30px 154.41px,#6c8ebf 154.41px 155.52px,#7192c0 155.52px 156.63px,#5881bc 156.63px 157.74px,#6087bd 157.74px 158.85px,#5882bc 158.85px 159.97px,#6389be 159.97px 161.08px,#698cbe 161.08px 162.19px,#658abe 162.19px 163.30px,#6389be 163.30px 164.41px,#7393c0 164.41px 165.52px,#6f91bf 165.52px 167.74px,#9baecb 167.74px 168.85px,#92a7c8 168.85px 169.96px,#5680bc 169.96px 171.07px,#6389be 171.07px 172.18px,#6388be 172.18px 173.30px,#5680bc 173.30px 174.41px,#4574ba 174.41px 175.52px,#4c79bb 175.52px 177.74px,#537ebc 177.74px 178.85px,#6389be 178.85px 179.96px,#698cbe 179.96px 181.07px,#7594c0 181.07px 182.18px,#658abe 182.18px 183.29px,#6a8dbf 183.29px 184.40px,#5680bc 184.40px 185.52px,#5a83bc 185.52px 186.63px,#537ebc 186.63px 187.74px,#6087bd 187.74px 188.85px,#6f91bf 188.85px 189.96px,#7393c0 189.96px 191.07px,#7594c0 191.07px 192.18px,#6389be 192.18px 193.29px,#678bbe 193.29px 194.40px,#7594c0 194.40px 195.51px,#678bbe 195.51px 196.62px,#5b83bd 196.62px 197.73px,#6087bd 197.73px 198.85px,#678bbe 198.85px 199.96px,#7192c0 199.96px 201.07px,#809bc3 201.07px 202.18px,#7594c0 202.18px 203.29px,#6a8dbf 203.29px 204.40px,#5a83bc 204.40px 205.51px,#4d79bb 205.51px 206.62px,#6c8ebf 206.62px 207.73px,#537ebc 207.73px 208.84px,#6a8dbf 208.84px 211.07px,#6c8ebf 211.07px 212.18px,#5881bc 212.18px 213.29px,#5a83bc 213.29px 214.40px,#658abe 214.40px 215.51px,#4f7bbb 215.51px 216.62px,#6389be 216.62px 217.73px,#5e85bd 217.73px 218.84px,#6c8ebf 218.84px 219.95px,#658abe 219.95px 221.06px,#6a8dbf 221.06px 222.17px,#5a83bc 222.17px 223.28px,#557fbc 223.28px 224.40px,#5680bc 224.40px 225.51px,#5e85bd 225.51px 226.62px,#557fbc 226.62px 227.73px,#6187bd 227.73px 228.84px,#698cbe 228.84px 229.95px,#5580bc 229.95px 231.06px,#6389be 231.06px 232.17px,#658abe 232.17px 233.28px,#6389be 233.28px 234.39px,#6087bd 234.39px 235.50px,#658abe 235.50px 236.62px,#6187bd 236.62px 237.73px,#6087bd 237.73px 238.84px,#678bbe 238.84px 241.06px,#5881bc 241.06px 242.17px,#5882bc 242.17px 243.28px,#6187bd 243.28px 244.39px,#6e90bf 244.39px 245.50px,#537ebc 245.50px 246.61px,#517cbb 246.61px 247.72px,#537ebc 247.72px 248.83px,#4b78bb 248.83px 249.95px,#6087bd 249.95px 251.06px,#5b83bd 251.06px 252.17px,#5d85bd 252.17px 253.28px,#5e85bd 253.28px 254.39px,#658abe 254.39px 255.50px)"></div>
<div class="hc" style="left:146.25px;width:12.75px;background:linear-gradient(#9fb0cc 0.00px 1.11px,#87a0c4 1.11px 2.22px,#88a1c5 2.22px 3.33px,#809bc3 3.33px 4.44px,#87a0c4 4.44px 5.55px,#839dc4 5.55px 6.67px,#a3b4cd 6.67px 7.78px,#a2b2cd 7.78px 8.89px,#9aadca 8.89px 10.00px,#95a9c8 10.00px 11.11px,#a3b4cd 11.11px 12.22px,#809bc3 12.22px 13.33px,#92a7c8 13.33px 14.44px,#8fa5c7 14.44px 15.55px,#8aa2c5 15.55px 16.66px,#92a7c8 16.66px 17.77px,#95a9c8 17.77px 18.88px,#9dafcb 18.88px 20.00px,#97abc9 20.00px 21.11px,#98acc9 21.11px 22.22px,#93a8c8 22.22px 23.33px,#8aa2c5 23.33px 24.44px,#8da4c6 24.44px 25.55px,#8ba3c6 25.55px 26.66px,#9baecb 26.66px 27.77px,#d9dce5 27.77px 28.88px,#93a8c8 28.88px 29.99px,#9baecb 29.99px 31.10px,#95a9c8 31.10px 32.22px,#9aadca 32.22px 33.33px,#a0b1cc 33.33px 34.44px,#b3bfd3 34.44px 35.55px,#adbbd1 35.55px 36.66px,#afbcd1 36.66px 37.77px,#9dafcb 37.77px 38.88px,#8aa2c5 38.88px 39.99px,#859ec4 39.99px 41.10px,#9baecb 41.10px 43.32px,#90a6c7 43.32px 44.43px,#9dafcb 44.43px 45.55px,#90a6c7 45.55px 46.66px,#8fa5c7 46.66px 47.77px,#93a8c8 47.77px 48.88px,#859ec4 48.88px 49.99px,#8aa2c5 49.99px 51.10px,#98acc9 51.10px 52.21px,#93a8c8 52.21px 53.32px,#9dafcb 53.32px 54.43px,#9baecb 54.43px 55.54px,#88a1c5 55.54px 56.65px,#92a7c8 56.65px 57.77px,#9dafcb 57.77px 58.88px,#7d99c2 58.88px 59.99px,#92a7c8 59.99px 61.10px,#7b98c2 61.10px 62.21px,#6f91bf 62.21px 63.32px,#8fa5c7 63.32px 64.43px,#8ba3c6 64.43px 65.54px,#859ec4 65.54px 66.65px,#87a0c4 66.65px 67.76px,#9baecb 67.76px 68.87px,#8fa5c7 68.87px 69.98px,#92a7c8 69.98px 71.10px,#9aadca 71.10px 72.21px,#9baecb 72.21px 73.32px,#90a6c7 73.32px 74.43px,#97abc9 74.43px 75.54px,#8da4c6 75.54px 76.65px,#87a0c4 76.65px 77.76px,#829cc3 77.76px 78.87px,#859ec4 78.87px 79.98px,#8ba3c6 79.98px 81.09px,#97abc9 81.09px 82.20px,#9baecb 82.20px 83.32px,#92a7c8 83.32px 84.43px,#859ec4 84.43px 85.54px,#8da4c6 85.54px 86.65px,#839dc4 86.65px 87.76px,#7997c1 87.76px 88.87px,#87a0c4 88.87px 89.98px,#9aadca 89.98px 91.09px,#9fb0cc 91.09px 92.20px,#97abc9 92.20px 93.31px,#90a6c7 93.31px 94.42px,#87a0c4 94.42px 95.53px,#7e9ac2 95.53px 96.65px,#88a1c5 96.65px 97.76px,#87a0c4 97.76px 98.87px,#8ba3c6 98.87px 99.98px,#97abc9 99.98px 101.09px,#8aa2c5 101.09px 102.20px,#7997c1 102.20px 103.31px,#829cc3 103.31px 104.42px,#87a0c4 104.42px 105.53px,#8da4c6 105.53px 107.75px,#839dc4 107.75px 108.87px,#9aadca 108.87px 109.98px,#b3bfd3 109.98px 111.09px,#cdd3df 111.09px 112.20px,#97abc9 112.20px 113.31px,#8fa5c7 113.31px 114.42px,#a2b2cd 114.42px 115.53px,#c2cada 115.53px 116.64px,#bfc8d8 116.64px 117.75px,#b8c3d5 117.75px 118.86px,#92a7c8 118.86px 119.97px,#a0b1cc 119.97px 121.08px,#adbbd1 121.08px 122.20px,#a0b1cc 122.20px 123.31px,#98acc9 123.31px 124.42px,#95a9c8 124.42px 125.53px,#a5b5ce 125.53px 126.64px,#98acc9 126.64px 127.75px,#809bc3 127.75px 128.86px,#859ec4 128.86px 129.97px,#839dc4 129.97px 131.08px,#98acc9 131.08px 132.19px,#95a9c8 132.19px 133.30px,#93a8c8 133.30px 134.42px,#7d99c2 134.42px 135.53px,#90a6c7 135.53px 136.64px,#97abc9 136.64px 137.75px,#9aadca 137.75px 138.86px,#9fb0cc 138.86px 139.97px,#8fa5c7 139.97px 141.08px,#8da4c6 141.08px 142.19px,#9dafcb 142.19px 143.30px,#95a9c8 143.30px 144.41px,#9fb0cc 144.41px 145.52px,#b0bdd2 145.52px 146.63px,#93a8c8 146.63px 147.75px,#97abc9 147.75px 148.86px,#90a6c7 148.86px 149.97px,#97abc9 149.97px 151.08px,#a7b6ce 151.08px 152.19px,#98acc9 152.19px 153.30px,#92a7c8 153.30px 154.41px,#98acc9 154.41px 155.52px,#90a6c7 155.52px 156.63px,#839dc4 156.63px 157.74px,#98acc9 157.74px 158.85px,#92a7c8 158.85px 159.97px,#87a0c4 159.97px 161.08px,#7b98c2 161.08px 162.19px,#8fa5c7 162.19px 163.30px,#95a9c8 163.30px 164.41px,#a0b1cc 164.41px 165.52px,#9baecb 165.52px 166.63px,#9aadca 166.63px 167.74px,#9baecb 167.74px 168.85px,#93a8c8 168.85px 169.96px,#7594c0 169.96px 171.07px,#8ba3c6 171.07px 172.18px,#8aa2c5 172.18px 173.30px,#93a8c8 173.30px 174.41px,#8fa5c7 174.41px 177.74px,#95a9c8 177.74px 178.85px,#92a7c8 178.85px 179.96px,#9fb0cc 179.96px 181.07px,#8da4c6 181.07px 182.18px,#839dc4 182.18px 183.29px,#92a7c8 183.29px 184.40px,#a3b4cd 184.40px 185.52px,#88a1c5 185.52px 186.63px,#8ba3c6 186.63px 188.85px,#87a0c4 188.85px 189.96px,#8da4c6 189.96px 191.07px,#8fa5c7 191.07px 192.18px,#9dafcb 192.18px 193.29px,#9aadca 193.29px 194.40px,#9fb0cc 194.40px 195.51px,#8fa5c7 195.51px 196.62px,#a2b2cd 196.62px 197.73px,#8fa5c7 197.73px 198.85px,#97abc9 198.85px 199.96px,#a2b2cd 199.96px 202.18px,#9fb0cc 202.18px 203.29px,#b5c0d4 203.29px 204.40px,#abb9d0 204.40px 205.51px,#a0b1cc 205.51px 206.62px,#98acc9 206.62px 207.73px,#95a9c8 207.73px 208.84px,#a0b1cc 208.84px 209.95px,#9fb0cc 209.95px 211.07px,#97abc9 211.07px 212.18px,#95a9c8 212.18px 213.29px,#809bc3 213.29px 214.40px,#aab8d0 214.40px 215.51px,#8da4c6 215.51px 216.62px,#7192c0 216.62px 217.73px,#839dc4 217.73px 218.84px,#8aa2c5 218.84px 219.95px,#8fa5c7 219.95px 221.06px,#a3b4cd 221.06px 222.17px,#98acc9 222.17px 223.28px,#9baecb 223.28px 225.51px,#8da4c6 225.51px 226.62px,#92a7c8 226.62px 227.73px,#a0b1cc 227.73px 228.84px,#a5b5ce 228.84px 229.95px,#a2b2cd 229.95px 231.06px,#bfc8d8 231.06px 232.17px,#97abc9 232.17px 233.28px,#7695c1 233.28px 234.39px,#7b98c2 234.39px 235.50px,#95a9c8 235.50px 236.62px,#90a6c7 236.62px 237.73px,#95a9c8 237.73px 238.84px,#8fa5c7 238.84px 239.95px,#8aa2c5 239.95px 241.06px,#88a1c5 241.06px 243.28px,#859ec4 243.28px 244.39px,#88a1c5 244.39px 245.50px,#8aa2c5 245.50px 246.61px,#97abc9 246.61px 247.72px,#92a7c8 247.72px 248.83px,#a0b1cc 248.83px 249.95px,#8ba3c6 249.95px 251.06px,#90a6c7 251.06px 252.17px,#93a8c8 252.17px 253.28px,#8fa5c7 253.28px 254.39px,#7695c1 254.39px 255.50px)"></div>
<div class="hc" style="left:158.70px;width:12.75px;background:linear-gradient(#98acc9 0.00px 1.11px,#9fb0cc 1.11px 2.22px,#92a7c8 2.22px 3.33px,#8fa5c7 3.33px 4.44px,#a3b4cd 4.44px 5.55px,#88a1c5 5.55px 6.67px,#90a6c7 6.67px 7.78px,#829cc3 7.78px 8.89px,#adbbd1 8.89px 10.00px,#a5b5ce 10.00px 11.11px,#a0b1cc 11.11px 12.22px,#8fa5c7 12.22px 14.44px,#a3b4cd 14.44px 15.55px,#97abc9 15.55px 16.66px,#87a0c4 16.66px 17.77px,#839dc4 17.77px 18.88px,#afbcd1 18.88px 20.00px,#95a9c8 20.00px 21.11px,#87a0c4 21.11px 22.22px,#9aadca 22.22px 23.33px,#9baecb 23.33px 24.44px,#a8b7cf 24.44px 25.55px,#93a8c8 25.55px 26.66px,#8aa2c5 26.66px 27.77px,#faf5f4 27.77px 28.88px,#8ba3c6 28.88px 29.99px,#97abc9 29.99px 31.10px,#92a7c8 31.10px 32.22px,#9baecb 32.22px 33.33px,#95a9c8 33.33px 34.44px,#92a7c8 34.44px 35.55px,#9aadca 35.55px 36.66px,#a2b2cd 36.66px 37.77px,#8fa5c7 37.77px 38.88px,#8ba3c6 38.88px 39.99px,#90a6c7 39.99px 41.10px,#7e9ac2 41.10px 42.21px,#a5b5ce 42.21px 43.32px,#9aadca 43.32px 44.43px,#a5b5ce 44.43px 45.55px,#92a7c8 45.55px 46.66px,#97abc9 46.66px 47.77px,#9aadca 47.77px 48.88px,#a3b4cd 48.88px 51.10px,#b7c2d5 51.10px 52.21px,#a3b4cd 52.21px 53.32px,#b5c0d4 53.32px 54.43px,#c0c9d9 54.43px 55.54px,#a5b5ce 55.54px 56.65px,#aab8d0 56.65px 57.77px,#bdc6d7 57.77px 58.88px,#b5c0d4 58.88px 59.99px,#bbc5d7 59.99px 61.10px,#a2b2cd 61.10px 62.21px,#8ba3c6 62.21px 63.32px,#90a6c7 63.32px 64.43px,#87a0c4 64.43px 65.54px,#92a7c8 65.54px 67.76px,#8ba3c6 67.76px 68.87px,#9baecb 68.87px 69.98px,#98acc9 69.98px 71.10px,#839dc4 71.10px 72.21px,#809bc3 72.21px 73.32px,#7192c0 73.32px 74.43px,#98acc9 74.43px 75.54px,#c3cbda 75.54px 76.65px,#809bc3 76.65px 77.76px,#7b98c2 77.76px 78.87px,#8da4c6 78.87px 79.98px,#8aa2c5 79.98px 82.20px,#a2b2cd 82.20px 83.32px,#90a6c7 83.32px 84.43px,#97abc9 84.43px 85.54px,#bdc6d7 85.54px 86.65px,#bbc5d7 86.65px 87.76px,#9aadca 87.76px 88.87px,#9dafcb 88.87px 89.98px,#9aadca 89.98px 91.09px,#bbc5d7 91.09px 92.20px,#90a6c7 92.20px 93.31px,#98acc9 93.31px 94.42px,#859ec4 94.42px 95.53px,#90a6c7 95.53px 96.65px,#7d99c2 96.65px 97.76px,#859ec4 97.76px 98.87px,#8ba3c6 98.87px 99.98px,#aab8d0 99.98px 101.09px,#88a1c5 101.09px 102.20px,#a2b2cd 102.20px 103.31px,#8ba3c6 103.31px 104.42px,#8da4c6 104.42px 105.53px,#87a0c4 105.53px 106.64px,#88a1c5 106.64px 107.75px,#859ec4 107.75px 108.87px,#8fa5c7 108.87px 109.98px,#abb9d0 109.98px 111.09px,#97abc9 111.09px 112.20px,#a7b6ce 112.20px 113.31px,#8da4c6 113.31px 114.42px,#9fb0cc 114.42px 115.53px,#8aa2c5 115.53px 116.64px,#93a8c8 116.64px 118.86px,#a2b2cd 118.86px 119.97px,#9baecb 119.97px 121.08px,#9aadca 121.08px 122.20px,#92a7c8 122.20px 123.31px,#cbd1de 123.31px 124.42px,#c7cedc 124.42px 125.53px,#9aadca 125.53px 126.64px,#97abc9 126.64px 127.75px,#a5b5ce 127.75px 128.86px,#9dafcb 128.86px 129.97px,#95a9c8 129.97px 131.08px,#97abc9 131.08px 132.19px,#829cc3 132.19px 133.30px,#9dafcb 133.30px 136.64px,#b2bed3 136.64px 137.75px,#b5c0d4 137.75px 138.86px,#a5b5ce 138.86px 139.97px,#9aadca 139.97px 141.08px,#a0b1cc 141.08px 143.30px,#8fa5c7 143.30px 144.41px,#98acc9 144.41px 145.52px,#9aadca 145.52px 146.63px,#98acc9 146.63px 147.75px,#92a7c8 147.75px 148.86px,#a5b5ce 148.86px 149.97px,#9dafcb 149.97px 151.08px,#b3bfd3 151.08px 152.19px,#93a8c8 152.19px 153.30px,#9baecb 153.30px 155.52px,#a2b2cd 155.52px 156.63px,#9aadca 156.63px 157.74px,#97abc9 157.74px 158.85px,#90a6c7 158.85px 159.97px,#8fa5c7 159.97px 161.08px,#7d99c2 161.08px 162.19px,#87a0c4 162.19px 163.30px,#88a1c5 163.30px 164.41px,#c8cfdd 164.41px 165.52px,#cdd3df 165.52px 166.63px,#93a8c8 166.63px 167.74px,#97abc9 167.74px 168.85px,#a0b1cc 168.85px 169.96px,#b8c3d5 169.96px 171.07px,#98acc9 171.07px 172.18px,#8da4c6 172.18px 174.41px,#829cc3 174.41px 176.63px,#90a6c7 176.63px 177.74px,#92a7c8 177.74px 178.85px,#a8b7cf 178.85px 181.07px,#9baecb 181.07px 182.18px,#98acc9 182.18px 183.29px,#a0b1cc 183.29px 184.40px,#87a0c4 184.40px 185.52px,#9baecb 185.52px 186.63px,#8da4c6 186.63px 187.74px,#93a8c8 187.74px 188.85px,#a5b5ce 188.85px 189.96px,#adbbd1 189.96px 191.07px,#a7b6ce 191.07px 192.18px,#bbc5d7 192.18px 193.29px,#9baecb 193.29px 194.40px,#9fb0cc 194.40px 195.51px,#90a6c7 195.51px 196.62px,#8aa2c5 196.62px 197.73px,#a8b7cf 197.73px 198.85px,#b7c2d5 198.85px 199.96px,#98acc9 199.96px 201.07px,#9dafcb 201.07px 202.18px,#a0b1cc 202.18px 203.29px,#9baecb 203.29px 204.40px,#93a8c8 204.40px 205.51px,#97abc9 205.51px 206.62px,#95a9c8 206.62px 207.73px,#93a8c8 207.73px 208.84px,#98acc9 208.84px 209.95px,#a7b6ce 209.95px 211.07px,#a2b2cd 211.07px 212.18px,#93a8c8 212.18px 213.29px,#92a7c8 213.29px 214.40px,#8da4c6 214.40px 215.51px,#859ec4 215.51px 217.73px,#829cc3 217.73px 218.84px,#9baecb 218.84px 219.95px,#d0d5e0 219.95px 221.06px,#abb9d0 221.06px 222.17px,#95a9c8 222.17px 223.28px,#92a7c8 223.28px 224.40px,#a5b5ce 224.40px 225.51px,#a0b1cc 225.51px 226.62px,#87a0c4 226.62px 227.73px,#8aa2c5 227.73px 228.84px,#7695c1 228.84px 229.95px,#98acc9 229.95px 231.06px,#b3bfd3 231.06px 232.17px,#adbbd1 232.17px 233.28px,#95a9c8 233.28px 234.39px,#9baecb 234.39px 235.50px,#b5c0d4 235.50px 236.62px,#bfc8d8 236.62px 237.73px,#afbcd1 237.73px 238.84px,#97abc9 238.84px 239.95px,#9dafcb 239.95px 241.06px,#98acc9 241.06px 242.17px,#95a9c8 242.17px 243.28px,#90a6c7 243.28px 244.39px,#8da4c6 244.39px 245.50px,#829cc3 245.50px 246.61px,#859ec4 246.61px 247.72px,#8ba3c6 247.72px 248.83px,#9aadca 248.83px 249.95px,#9dafcb 249.95px 251.06px,#93a8c8 251.06px 252.17px,#8aa2c5 252.17px 253.28px,#7997c1 253.28px 254.39px,#8aa2c5 254.39px 255.50px)"></div>
<div class="hc" style="left:171.15px;width:12.75px;background:linear-gradient(#6c8ebf 0.00px 1.11px,#859ec4 1.11px 2.22px,#7594c0 2.22px 3.33px,#7997c1 3.33px 4.44px,#88a1c5 4.44px 5.55px,#7695c1 5.55px 6.67px,#8da4c6 6.67px 7.78px,#8fa5c7 7.78px 8.89px,#859ec4 8.89px 10.00px,#98acc9 10.00px 11.11px,#92a7c8 11.11px 12.22px,#87a0c4 12.22px 13.33px,#88a1c5 13.33px 14.44px,#7695c1 14.44px 15.55px,#7b98c2 15.55px 16.66px,#859ec4 16.66px 17.77px,#9aadca 17.77px 18.88px,#87a0c4 18.88px 20.00px,#7d99c2 20.00px 21.11px,#8da4c6 21.11px 22.22px,#7b98c2 22.22px 23.33px,#8da4c6 23.33px 24.44px,#98acc9 24.44px 25.55px,#7b98c2 25.55px 26.66px,#829cc3 26.66px 27.77px,#c3cbda 27.77px 28.88px,#859ec4 28.88px 29.99px,#88a1c5 29.99px 31.10px,#7997c1 31.10px 32.22px,#809bc3 32.22px 33.33px,#7b98c2 33.33px 34.44px,#829cc3 34.44px 35.55px,#87a0c4 35.55px 36.66px,#8ba3c6 36.66px 37.77px,#90a6c7 37.77px 38.88px,#859ec4 38.88px 39.99px,#829cc3 39.99px 41.10px,#6f91bf 41.10px 42.21px,#6389be 42.21px 43.32px,#7695c1 43.32px 44.43px,#7594c0 44.43px 46.66px,#829cc3 46.66px 47.77px,#95a9c8 47.77px 48.88px,#7b98c2 48.88px 49.99px,#92a7c8 49.99px 51.10px,#a3b4cd 51.10px 52.21px,#829cc3 52.21px 53.32px,#93a8c8 53.32px 54.43px,#829cc3 54.43px 55.54px,#b3bfd3 55.54px 56.65px,#aab8d0 56.65px 57.77px,#98acc9 57.77px 58.88px,#839dc4 58.88px 59.99px,#8fa5c7 59.99px 61.10px,#8da4c6 61.10px 62.21px,#90a6c7 62.21px 63.32px,#7d99c2 63.32px 64.43px,#829cc3 64.43px 65.54px,#658abe 65.54px 66.65px,#7d99c2 66.65px 67.76px,#829cc3 67.76px 68.87px,#8ba3c6 68.87px 69.98px,#92a7c8 69.98px 71.10px,#90a6c7 71.10px 72.21px,#92a7c8 72.21px 73.32px,#87a0c4 73.32px 74.43px,#859ec4 74.43px 75.54px,#7d99c2 75.54px 76.65px,#809bc3 76.65px 77.76px,#8da4c6 77.76px 78.87px,#88a1c5 78.87px 79.98px,#7695c1 79.98px 81.09px,#7e9ac2 81.09px 82.20px,#a8b7cf 82.20px 83.32px,#9dafcb 83.32px 84.43px,#88a1c5 84.43px 85.54px,#809bc3 85.54px 86.65px,#90a6c7 86.65px 87.76px,#8ba3c6 87.76px 88.87px,#87a0c4 88.87px 89.98px,#7695c1 89.98px 91.09px,#859ec4 91.09px 92.20px,#90a6c7 92.20px 93.31px,#8da4c6 93.31px 94.42px,#859ec4 94.42px 95.53px,#97abc9 95.53px 96.65px,#8ba3c6 96.65px 97.76px,#8fa5c7 97.76px 98.87px,#8ba3c6 98.87px 99.98px,#8fa5c7 99.98px 101.09px,#7e9ac2 101.09px 102.20px,#9baecb 102.20px 103.31px,#7e9ac2 103.31px 104.42px,#8fa5c7 104.42px 105.53px,#8aa2c5 105.53px 106.64px,#95a9c8 106.64px 107.75px,#7896c1 107.75px 108.87px,#829cc3 108.87px 109.98px,#8ba3c6 109.98px 111.09px,#9dafcb 111.09px 112.20px,#9aadca 112.20px 113.31px,#678bbe 113.31px 114.42px,#7695c1 114.42px 115.53px,#829cc3 115.53px 116.64px,#90a6c7 116.64px 117.75px,#8fa5c7 117.75px 118.86px,#88a1c5 118.86px 119.97px,#8ba3c6 119.97px 121.08px,#7896c1 121.08px 122.20px,#8aa2c5 122.20px 123.31px,#6c8ebf 123.31px 124.42px,#839dc4 124.42px 125.53px,#809bc3 125.53px 126.64px,#829cc3 126.64px 127.75px,#7896c1 127.75px 128.86px,#859ec4 128.86px 129.97px,#809bc3 129.97px 132.19px,#b2bed3 132.19px 134.42px,#7896c1 134.42px 135.53px,#90a6c7 135.53px 136.64px,#8ba3c6 136.64px 137.75px,#b0bdd2 137.75px 138.86px,#a5b5ce 138.86px 139.97px,#7997c1 139.97px 141.08px,#829cc3 141.08px 142.19px,#88a1c5 142.19px 143.30px,#7b98c2 143.30px 144.41px,#7997c1 144.41px 145.52px,#7b98c2 145.52px 146.63px,#7997c1 146.63px 147.75px,#87a0c4 147.75px 148.86px,#8aa2c5 148.86px 149.97px,#7e9ac2 149.97px 151.08px,#87a0c4 151.08px 152.19px,#7997c1 152.19px 153.30px,#7b98c2 153.30px 154.41px,#8ba3c6 154.41px 156.63px,#97abc9 156.63px 157.74px,#93a8c8 157.74px 158.85px,#9dafcb 158.85px 159.97px,#829cc3 159.97px 161.08px,#8aa2c5 161.08px 162.19px,#7b98c2 162.19px 163.30px,#859ec4 163.30px 164.41px,#93a8c8 164.41px 165.52px,#90a6c7 165.52px 166.63px,#7b98c2 166.63px 167.74px,#839dc4 167.74px 168.85px,#88a1c5 168.85px 169.96px,#7393c0 169.96px 171.07px,#7d99c2 171.07px 172.18px,#7997c1 172.18px 173.30px,#839dc4 173.30px 174.41px,#90a6c7 174.41px 175.52px,#7d99c2 175.52px 176.63px,#829cc3 176.63px 177.74px,#95a9c8 177.74px 178.85px,#9aadca 178.85px 179.96px,#a2b2cd 179.96px 181.07px,#97abc9 181.07px 183.29px,#7594c0 183.29px 184.40px,#8ba3c6 184.40px 185.52px,#7d99c2 185.52px 186.63px,#7e9ac2 186.63px 187.74px,#839dc4 187.74px 188.85px,#9dafcb 188.85px 189.96px,#a0b1cc 189.96px 191.07px,#92a7c8 191.07px 192.18px,#adbbd1 192.18px 193.29px,#bac4d6 193.29px 194.40px,#abb9d0 194.40px 195.51px,#8ba3c6 195.51px 196.62px,#8da4c6 196.62px 197.73px,#98acc9 197.73px 198.85px,#95a9c8 198.85px 199.96px,#839dc4 199.96px 201.07px,#93a8c8 201.07px 202.18px,#c3cbda 202.18px 203.29px,#8da4c6 203.29px 204.40px,#859ec4 204.40px 205.51px,#87a0c4 205.51px 206.62px,#8fa5c7 206.62px 207.73px,#98acc9 207.73px 208.84px,#8fa5c7 208.84px 209.95px,#90a6c7 209.95px 211.07px,#bdc6d7 211.07px 212.18px,#b5c0d4 212.18px 213.29px,#829cc3 213.29px 214.40px,#7896c1 214.40px 215.51px,#829cc3 215.51px 216.62px,#87a0c4 216.62px 217.73px,#9aadca 217.73px 218.84px,#93a8c8 218.84px 219.95px,#95a9c8 219.95px 221.06px,#98acc9 221.06px 222.17px,#9aadca 222.17px 223.28px,#87a0c4 223.28px 224.40px,#88a1c5 224.40px 225.51px,#7192c0 225.51px 226.62px,#839dc4 226.62px 227.73px,#95a9c8 227.73px 228.84px,#92a7c8 228.84px 229.95px,#93a8c8 229.95px 231.06px,#98acc9 231.06px 232.17px,#93a8c8 232.17px 233.28px,#839dc4 233.28px 234.39px,#8aa2c5 234.39px 235.50px,#859ec4 235.50px 236.62px,#a5b5ce 236.62px 237.73px,#9fb0cc 237.73px 238.84px,#abb9d0 238.84px 239.95px,#7d99c2 239.95px 242.17px,#aab8d0 242.17px 244.39px,#7896c1 244.39px 245.50px,#7e9ac2 245.50px 246.61px,#87a0c4 246.61px 247.72px,#8ba3c6 247.72px 248.83px,#93a8c8 248.83px 249.95px,#9baecb 249.95px 251.06px,#90a6c7 251.06px 252.17px,#93a8c8 252.17px 253.28px,#88a1c5 253.28px 254.39px,#8da4c6 254.39px 255.50px)"></div>
<div class="hc" style="left:183.60px;width:12.75px;background:linear-gradient(#4272ba 0.00px 1.11px,#4071ba 1.11px 2.22px,#3e6fb9 2.22px 4.44px,#3b6cb9 4.44px 5.55px,#3a6bb9 5.55px 6.67px,#3e6fba 6.67px 7.78px,#4272ba 7.78px 8.89px,#4574ba 8.89px 10.00px,#3e6fb9 10.00px 11.11px,#4171ba 11.11px 12.22px,#3f70ba 12.22px 13.33px,#3c6eb9 13.33px 14.44px,#6f91bf 14.44px 15.55px,#3d6eb9 15.55px 16.66px,#3f70ba 16.66px 17.77px,#4775ba 17.77px 18.88px,#4876ba 18.88px 20.00px,#3d6eb9 20.00px 21.11px,#3e6fba 21.11px 22.22px,#4a78bb 22.22px 23.33px,#4574ba 23.33px 24.44px,#3f70ba 24.44px 25.55px,#4171ba 25.55px 26.66px,#517dbb 26.66px 27.77px,#4373ba 27.77px 28.88px,#4977bb 28.88px 29.99px,#3e6fb9 29.99px 31.10px,#4272ba 31.10px 32.22px,#3f70ba 32.22px 33.33px,#4574ba 33.33px 34.44px,#4a78bb 34.44px 35.55px,#4373ba 35.55px 36.66px,#4574ba 36.66px 38.88px,#4977bb 38.88px 39.99px,#4574ba 39.99px 41.10px,#3d6eb9 41.10px 43.32px,#4574ba 43.32px 44.43px,#4071ba 44.43px 45.55px,#4373ba 45.55px 46.66px,#3f70ba 46.66px 47.77px,#3e6fb9 47.77px 48.88px,#3c6db9 48.88px 49.99px,#3d6eb9 49.99px 51.10px,#4373ba 51.10px 54.43px,#4a78bb 54.43px 55.54px,#4171ba 55.54px 56.65px,#4071ba 56.65px 57.77px,#3f70ba 57.77px 58.88px,#4171ba 58.88px 59.99px,#4272ba 59.99px 62.21px,#3c6db9 62.21px 64.43px,#4272ba 64.43px 65.54px,#3d6eb9 65.54px 66.65px,#3f70ba 66.65px 67.76px,#3b6cb9 67.76px 68.87px,#4574ba 68.87px 69.98px,#3e6fb9 69.98px 72.21px,#3f70ba 72.21px 73.32px,#3c6db9 73.32px 74.43px,#3c6eb9 74.43px 75.54px,#4977bb 75.54px 76.65px,#4b78bb 76.65px 77.76px,#4574ba 77.76px 79.98px,#4876ba 79.98px 81.09px,#4775ba 81.09px 82.20px,#4373ba 82.20px 83.32px,#4876ba 83.32px 84.43px,#3e6fb9 84.43px 85.54px,#3d6eb9 85.54px 86.65px,#4e7bbb 86.65px 87.76px,#4473ba 87.76px 88.87px,#4373ba 88.87px 89.98px,#4675ba 89.98px 91.09px,#4f7bbb 91.09px 92.20px,#4373ba 92.20px 93.31px,#3d6eb9 93.31px 94.42px,#4171ba 94.42px 95.53px,#3f70ba 95.53px 96.65px,#3e6fb9 96.65px 97.76px,#4272ba 97.76px 98.87px,#3c6db9 98.87px 99.98px,#4272ba 99.98px 101.09px,#4373ba 101.09px 103.31px,#4171ba 103.31px 104.42px,#4574ba 104.42px 105.53px,#4473ba 105.53px 107.75px,#3e6fba 107.75px 108.87px,#4775ba 108.87px 109.98px,#4e7bbb 109.98px 112.20px,#3f70ba 112.20px 113.31px,#4272ba 113.31px 114.42px,#3e6fb9 114.42px 115.53px,#4272ba 115.53px 116.64px,#4171ba 116.64px 117.75px,#4977bb 117.75px 118.86px,#4675ba 118.86px 119.97px,#4272ba 119.97px 121.08px,#4675ba 121.08px 122.20px,#4272ba 122.20px 123.31px,#4373ba 123.31px 124.42px,#3e6fb9 124.42px 125.53px,#3f70ba 125.53px 126.64px,#4574ba 126.64px 127.75px,#4071ba 127.75px 128.86px,#4272ba 128.86px 131.08px,#3c6db9 131.08px 132.19px,#4272ba 132.19px 133.30px,#4373ba 133.30px 135.53px,#4574ba 135.53px 136.64px,#3f70ba 136.64px 137.75px,#4272ba 137.75px 138.86px,#4775ba 138.86px 139.97px,#4675ba 139.97px 141.08px,#4171ba 141.08px 142.19px,#4675ba 142.19px 143.30px,#4a77bb 143.30px 144.41px,#4272ba 144.41px 145.52px,#4373ba 145.52px 146.63px,#3f70ba 146.63px 147.75px,#4373ba 147.75px 148.86px,#4c79bb 148.86px 149.97px,#4272ba 149.97px 151.08px,#3d6eb9 151.08px 152.19px,#3f70ba 152.19px 153.30px,#3c6db9 153.30px 154.41px,#4675ba 154.41px 155.52px,#4876ba 155.52px 156.63px,#4574ba 156.63px 157.74px,#4977bb 157.74px 158.85px,#4775ba 158.85px 159.97px,#3f70ba 159.97px 161.08px,#4272ba 161.08px 162.19px,#4171ba 162.19px 163.30px,#4473ba 163.30px 164.41px,#4171ba 164.41px 165.52px,#4574ba 165.52px 166.63px,#4373ba 166.63px 167.74px,#3c6db9 167.74px 168.85px,#4071ba 168.85px 169.96px,#4775ba 169.96px 171.07px,#4171ba 171.07px 172.18px,#3f70ba 172.18px 173.30px,#4272ba 173.30px 174.41px,#3c6db9 174.41px 175.52px,#3f70ba 175.52px 176.63px,#4272ba 176.63px 177.74px,#3d6eb9 177.74px 179.96px,#3f70ba 179.96px 181.07px,#4071ba 181.07px 182.18px,#3e6fb9 182.18px 183.29px,#4a78bb 183.29px 184.40px,#4574ba 184.40px 185.52px,#3c6db9 185.52px 186.63px,#4171ba 186.63px 187.74px,#3d6eb9 187.74px 188.85px,#4373ba 188.85px 189.96px,#4876ba 189.96px 191.07px,#4a78bb 191.07px 192.18px,#4171ba 192.18px 193.29px,#3d6eb9 193.29px 194.40px,#4272ba 194.40px 195.51px,#4574ba 195.51px 196.62px,#4171ba 196.62px 197.73px,#4775ba 197.73px 198.85px,#517cbb 198.85px 199.96px,#4373ba 199.96px 201.07px,#5680bc 201.07px 202.18px,#4574ba 202.18px 203.29px,#4272ba 203.29px 205.51px,#3f70ba 205.51px 206.62px,#4574ba 206.62px 207.73px,#3e6fba 207.73px 208.84px,#4272ba 208.84px 209.95px,#3e6fb9 209.95px 211.07px,#4373ba 211.07px 212.18px,#4775ba 212.18px 213.29px,#3e6fb9 213.29px 214.40px,#4272ba 214.40px 215.51px,#3e6fb9 215.51px 216.62px,#4272ba 216.62px 217.73px,#3d6eb9 217.73px 218.84px,#4171ba 218.84px 219.95px,#4876ba 219.95px 221.06px,#4574ba 221.06px 222.17px,#4775ba 222.17px 223.28px,#4373ba 223.28px 224.40px,#4775ba 224.40px 225.51px,#3d6eb9 225.51px 226.62px,#3b6cb9 226.62px 228.84px,#3e6fb9 228.84px 231.06px,#4574ba 231.06px 232.17px,#3f70ba 232.17px 233.28px,#3e6fba 233.28px 234.39px,#4373ba 234.39px 235.50px,#3c6db9 235.50px 236.62px,#4876ba 236.62px 237.73px,#3f70ba 237.73px 239.95px,#4a78bb 239.95px 241.06px,#4876ba 241.06px 242.17px,#4373ba 242.17px 243.28px,#3e6fb9 243.28px 244.39px,#3c6eb9 244.39px 245.50px,#4272ba 245.50px 246.61px,#4876ba 246.61px 247.72px,#4877bb 247.72px 248.83px,#4574ba 248.83px 249.95px,#4373ba 249.95px 251.06px,#4473ba 251.06px 252.17px,#3d6eb9 252.17px 253.28px,#4473ba 253.28px 254.39px,#4977bb 254.39px 255.50px)"></div>
<div class="hc" style="left:196.05px;width:12.75px;background:linear-gradient(#678bbe 0.00px 1.11px,#4d79bb 1.11px 2.22px,#6389be 2.22px 3.33px,#5a83bc 3.33px 4.44px,#5580bc 4.44px 5.55px,#507cbb 5.55px 6.67px,#537ebc 6.67px 7.78px,#5881bc 7.78px 8.89px,#6a8dbf 8.89px 10.00px,#678bbe 10.00px 11.11px,#5a83bc 11.11px 12.22px,#4876ba 12.22px 13.33px,#4373ba 13.33px 14.44px,#4775ba 14.44px 15.55px,#6087bd 15.55px 16.66px,#6489be 16.66px 17.77px,#5e85bd 17.77px 18.88px,#4977bb 18.88px 20.00px,#3f70ba 20.00px 21.11px,#517dbb 21.11px 22.22px,#4c79bb 22.22px 23.33px,#5d85bd 23.33px 24.44px,#4876ba 24.44px 25.55px,#678bbe 25.55px 26.66px,#5680bc 26.66px 27.77px,#5882bc 27.77px 28.88px,#4d7abb 28.88px 29.99px,#537ebc 29.99px 31.10px,#507cbb 31.10px 32.22px,#4c79bb 32.22px 33.33px,#4775ba 33.33px 34.44px,#4675ba 34.44px 35.55px,#517cbb 35.55px 36.66px,#4876ba 36.66px 38.88px,#4775ba 38.88px 39.99px,#4876ba 39.99px 41.10px,#517cbb 41.10px 42.21px,#4171ba 42.21px 43.32px,#5d85bd 43.32px 44.43px,#4071ba 44.43px 45.55px,#4272ba 45.55px 46.66px,#5680bc 46.66px 47.77px,#4171ba 47.77px 48.88px,#5b84bd 48.88px 49.99px,#6087bd 49.99px 51.10px,#5881bc 51.10px 52.21px,#8ba3c6 52.21px 53.32px,#8da4c6 53.32px 54.43px,#7594c0 54.43px 55.54px,#4977bb 55.54px 56.65px,#537dbc 56.65px 57.77px,#507cbb 57.77px 58.88px,#4a78bb 58.88px 59.99px,#5680bc 59.99px 61.10px,#6a8dbf 61.10px 62.21px,#5881bc 62.21px 63.32px,#507cbb 63.32px 64.43px,#4373ba 64.43px 65.54px,#3d6eb9 65.54px 66.65px,#537ebc 66.65px 67.76px,#5d85bd 67.76px 68.87px,#4c79bb 68.87px 69.98px,#4977bb 69.98px 71.10px,#4d7abb 71.10px 72.21px,#4c79bb 72.21px 73.32px,#4775ba 73.32px 74.43px,#4d79bb 74.43px 75.54px,#4f7bbb 75.54px 76.65px,#557fbc 76.65px 77.76px,#4e7bbb 77.76px 78.87px,#678bbe 78.87px 79.98px,#6489be 79.98px 81.09px,#4f7bbb 81.09px 82.20px,#678bbe 82.20px 83.32px,#517cbb 83.32px 84.43px,#507cbb 84.43px 85.54px,#4e7bbb 85.54px 86.65px,#5e85bd 86.65px 87.76px,#517dbb 87.76px 88.87px,#658abe 88.87px 89.98px,#6a8dbf 89.98px 91.09px,#6e90bf 91.09px 92.20px,#6c8ebf 92.20px 93.31px,#5e85bd 93.31px 94.42px,#4574ba 94.42px 95.53px,#4977bb 95.53px 96.65px,#4a78bb 96.65px 97.76px,#5881bc 97.76px 98.87px,#5b83bd 98.87px 99.98px,#6e90bf 99.98px 101.09px,#6c8ebf 101.09px 102.20px,#658abe 102.20px 103.31px,#4c79bb 103.31px 104.42px,#517cbb 104.42px 105.53px,#658abe 105.53px 106.64px,#517cbb 106.64px 107.75px,#557fbc 107.75px 108.87px,#6e90bf 108.87px 109.98px,#7594c0 109.98px 111.09px,#537ebc 111.09px 112.20px,#5e85bd 112.20px 113.31px,#4876ba 113.31px 114.42px,#4574ba 114.42px 115.53px,#5680bc 115.53px 116.64px,#6389be 116.64px 118.86px,#678bbe 118.86px 119.97px,#7997c1 119.97px 121.08px,#678bbe 121.08px 122.20px,#6087bd 122.20px 123.31px,#6c8ebf 123.31px 124.42px,#698cbe 124.42px 125.53px,#557fbc 125.53px 126.64px,#4272ba 126.64px 127.75px,#4e7bbb 127.75px 128.86px,#5680bc 128.86px 131.08px,#4e7abb 131.08px 132.19px,#5680bc 132.19px 133.30px,#5781bc 133.30px 134.42px,#5d85bd 134.42px 135.53px,#6087bd 135.53px 136.64px,#557fbc 136.64px 137.75px,#6489be 137.75px 138.86px,#517cbb 138.86px 139.97px,#507cbb 139.97px 141.08px,#5b83bd 141.08px 142.19px,#5e85bd 142.19px 143.30px,#7393c0 143.30px 144.41px,#7594c0 144.41px 145.52px,#6a8dbf 145.52px 146.63px,#6187bd 146.63px 147.75px,#5882bc 147.75px 148.86px,#4977bb 148.86px 149.97px,#6489be 149.97px 151.08px,#5d85bd 151.08px 152.19px,#4a78bb 152.19px 153.30px,#678bbe 153.30px 155.52px,#6f91bf 155.52px 156.63px,#6187bd 156.63px 157.74px,#4373ba 157.74px 158.85px,#557fbc 158.85px 159.97px,#4574ba 159.97px 161.08px,#3e6fb9 161.08px 162.19px,#537ebc 162.19px 163.30px,#557fbc 163.30px 164.41px,#4f7bbb 164.41px 165.52px,#5d85bd 165.52px 166.63px,#678bbe 166.63px 167.74px,#5781bc 167.74px 168.85px,#4a78bb 168.85px 169.96px,#6087bd 169.96px 171.07px,#537ebc 171.07px 172.18px,#6389be 172.18px 173.30px,#5d85bd 173.30px 174.41px,#4a78bb 174.41px 175.52px,#5d85bd 175.52px 176.63px,#4272ba 176.63px 177.74px,#5680bc 177.74px 178.85px,#5881bc 178.85px 179.96px,#6389be 179.96px 181.07px,#5781bc 181.07px 182.18px,#4f7bbb 182.18px 183.29px,#4877ba 183.29px 184.40px,#4373ba 184.40px 185.52px,#4272ba 185.52px 186.63px,#517cbb 186.63px 187.74px,#6489be 187.74px 188.85px,#6a8dbf 188.85px 189.96px,#698cbe 189.96px 191.07px,#6087bd 191.07px 192.18px,#5b83bd 192.18px 193.29px,#5d85bd 193.29px 194.40px,#6a8dbf 194.40px 195.51px,#537ebc 195.51px 196.62px,#557fbc 196.62px 197.73px,#5e85bd 197.73px 198.85px,#5d85bd 198.85px 199.96px,#7192c0 199.96px 201.07px,#5881bc 201.07px 202.18px,#6f91bf 202.18px 203.29px,#4373ba 203.29px 204.40px,#507cbb 204.40px 205.51px,#6489be 205.51px 206.62px,#6389be 206.62px 207.73px,#6f91bf 207.73px 208.84px,#5881bc 208.84px 209.95px,#7594c0 209.95px 211.07px,#678bbe 211.07px 212.18px,#698cbe 212.18px 213.29px,#5881bc 213.29px 214.40px,#557fbc 214.40px 215.51px,#4272ba 215.51px 216.62px,#4a78bb 216.62px 217.73px,#4574ba 217.73px 218.84px,#6087bd 218.84px 219.95px,#7393c0 219.95px 221.06px,#5a83bc 221.06px 222.17px,#6087bd 222.17px 223.28px,#5b83bd 223.28px 224.40px,#517dbb 224.40px 225.51px,#4574ba 225.51px 226.62px,#4876ba 226.62px 227.73px,#557fbc 227.73px 228.84px,#6187bd 228.84px 229.95px,#6e90bf 229.95px 231.06px,#658abe 231.06px 232.17px,#6a8dbf 232.17px 233.28px,#5881bc 233.28px 234.39px,#4977bb 234.39px 235.50px,#4c79bb 235.50px 236.62px,#5e85bd 236.62px 237.73px,#6388be 237.73px 238.84px,#4977bb 238.84px 239.95px,#6389be 239.95px 241.06px,#557fbc 241.06px 242.17px,#5881bc 242.17px 243.28px,#4c79bb 243.28px 244.39px,#4272ba 244.39px 245.50px,#4574ba 245.50px 246.61px,#5d85bd 246.61px 247.72px,#5e85bd 247.72px 248.83px,#90a6c7 248.83px 249.95px,#4e7bbb 249.95px 251.06px,#6087bd 251.06px 252.17px,#3f70ba 252.17px 253.28px,#5d85bd 253.28px 254.39px,#4c79bb 254.39px 255.50px)"></div>
<div class="hc" style="left:208.50px;width:12.75px;background:linear-gradient(#5881bc 0.00px 1.11px,#678bbe 1.11px 2.22px,#698cbe 2.22px 3.33px,#5d85bd 3.33px 4.44px,#5680bc 4.44px 5.55px,#4675ba 5.55px 6.67px,#3e6fb9 6.67px 7.78px,#537ebc 7.78px 8.89px,#5882bc 8.89px 10.00px,#5e85bd 10.00px 11.11px,#537ebc 11.11px 12.22px,#698cbe 12.22px 14.44px,#507cbb 14.44px 15.55px,#6489be 15.55px 16.66px,#7997c1 16.66px 17.77px,#698cbe 17.77px 18.88px,#90a6c7 18.88px 20.00px,#7695c1 20.00px 21.11px,#557fbc 21.11px 22.22px,#6087bd 22.22px 23.33px,#6c8ebf 23.33px 24.44px,#6389be 24.44px 25.55px,#537ebc 25.55px 26.66px,#6087bd 26.66px 27.77px,#6e90bf 27.77px 28.88px,#7192c0 28.88px 29.99px,#6087bd 29.99px 31.10px,#678bbe 31.10px 32.22px,#557fbc 32.22px 33.33px,#698cbe 33.33px 34.44px,#7594c0 34.44px 35.55px,#5881bc 35.55px 36.66px,#7d99c2 36.66px 37.77px,#4272ba 37.77px 38.88px,#537ebc 38.88px 39.99px,#3f70ba 39.99px 41.10px,#4977bb 41.10px 42.21px,#6389be 42.21px 43.32px,#6e90bf 43.32px 44.43px,#6c8ebf 44.43px 45.55px,#5d85bd 45.55px 46.66px,#5680bc 46.66px 47.77px,#5b84bd 47.77px 48.88px,#829cc3 48.88px 49.99px,#7896c1 49.99px 51.10px,#658abe 51.10px 52.21px,#6e90bf 52.21px 53.32px,#698cbe 53.32px 54.43px,#6c8ebf 54.43px 55.54px,#678bbe 55.54px 56.65px,#517dbb 56.65px 57.77px,#517cbb 57.77px 58.88px,#6086bd 58.88px 59.99px,#9dafcb 59.99px 61.10px,#90a6c7 61.10px 62.21px,#6187bd 62.21px 63.32px,#8fa5c7 63.32px 64.43px,#87a0c4 64.43px 65.54px,#7997c1 65.54px 66.65px,#90a6c7 66.65px 67.76px,#abb9d0 67.76px 68.87px,#7594c0 68.87px 69.98px,#8ba3c6 69.98px 71.10px,#859ec4 71.10px 73.32px,#90a6c7 73.32px 74.43px,#93a8c8 74.43px 75.54px,#8fa5c7 75.54px 76.65px,#6f91bf 76.65px 77.76px,#adbbd1 77.76px 78.87px,#8da4c6 78.87px 81.09px,#a7b6ce 81.09px 82.20px,#557fbc 82.20px 83.32px,#658abe 83.32px 84.43px,#6389be 84.43px 85.54px,#557fbc 85.54px 86.65px,#3c6eb9 86.65px 87.76px,#4574ba 87.76px 88.87px,#537ebc 88.87px 89.98px,#7997c1 89.98px 91.09px,#7d99c2 91.09px 92.20px,#7192c0 92.20px 93.31px,#6c8ebf 93.31px 94.42px,#6087bd 94.42px 95.53px,#678bbe 95.53px 96.65px,#4775ba 96.65px 97.76px,#4c79bb 97.76px 98.87px,#537ebc 98.87px 99.98px,#698cbe 99.98px 101.09px,#4373ba 101.09px 102.20px,#7e9ac2 102.20px 103.31px,#537ebc 103.31px 104.42px,#4c79bb 104.42px 105.53px,#678bbe 105.53px 106.64px,#5a83bc 106.64px 107.75px,#6a8dbf 107.75px 108.87px,#6e90bf 108.87px 109.98px,#537ebc 109.98px 111.09px,#658abe 111.09px 112.20px,#5b83bd 112.20px 113.31px,#698cbe 113.31px 114.42px,#5e85bd 114.42px 115.53px,#4e7bbb 115.53px 116.64px,#4f7bbb 116.64px 117.75px,#658abe 117.75px 118.86px,#678bbe 118.86px 119.97px,#7896c1 119.97px 121.08px,#8ba3c6 121.08px 122.20px,#6c8ebf 122.20px 123.31px,#7896c1 123.31px 124.42px,#537ebc 124.42px 125.53px,#6187bd 125.53px 126.64px,#5e85bd 126.64px 127.75px,#6389be 127.75px 128.86px,#7997c1 128.86px 129.97px,#7896c1 129.97px 131.08px,#6f91bf 131.08px 132.19px,#698cbe 132.19px 133.30px,#658abe 133.30px 134.42px,#6389be 134.42px 135.53px,#6e90bf 135.53px 136.64px,#6389be 136.64px 137.75px,#7d99c2 137.75px 139.97px,#6a8dbf 139.97px 141.08px,#5d85bd 141.08px 142.19px,#557fbc 142.19px 143.30px,#6f91bf 143.30px 144.41px,#6187bd 144.41px 145.52px,#5b83bd 145.52px 146.63px,#7d99c2 146.63px 147.75px,#5881bc 147.75px 148.86px,#557fbc 148.86px 149.97px,#7896c1 149.97px 151.08px,#557fbc 151.08px 152.19px,#5680bc 152.19px 153.30px,#5881bc 153.30px 154.41px,#658abe 154.41px 155.52px,#87a0c4 155.52px 156.63px,#7997c1 156.63px 157.74px,#6e90bf 157.74px 158.85px,#6a8dbf 158.85px 159.97px,#6087bd 159.97px 161.08px,#678bbe 161.08px 162.19px,#7695c1 162.19px 163.30px,#6087bd 163.30px 164.41px,#6e90bf 164.41px 165.52px,#6f91bf 165.52px 166.63px,#6389be 166.63px 167.74px,#6489be 167.74px 168.85px,#4877ba 168.85px 169.96px,#3d6eb9 169.96px 171.07px,#3b6cb9 171.07px 172.18px,#4c79bb 172.18px 173.30px,#6389be 173.30px 174.41px,#6086bd 174.41px 175.52px,#7594c0 175.52px 176.63px,#4f7bbb 176.63px 177.74px,#7393c0 177.74px 178.85px,#6c8ebf 178.85px 179.96px,#6f91bf 179.96px 181.07px,#7e9ac2 181.07px 182.18px,#8ba3c6 182.18px 183.29px,#8aa2c5 183.29px 184.40px,#5d85bd 184.40px 185.52px,#6187bd 185.52px 186.63px,#6c8ebf 186.63px 187.74px,#7997c1 187.74px 188.85px,#6087bd 188.85px 189.96px,#7695c1 189.96px 191.07px,#658abe 191.07px 192.18px,#7393c0 192.18px 193.29px,#7d99c2 193.29px 194.40px,#6c8ebf 194.40px 195.51px,#678bbe 195.51px 196.62px,#5881bc 196.62px 197.73px,#6f91bf 197.73px 198.85px,#7b98c2 198.85px 202.18px,#6187bd 202.18px 203.29px,#678bbe 203.29px 204.40px,#7d99c2 204.40px 205.51px,#6489be 205.51px 206.62px,#517dbb 206.62px 207.73px,#4e7abb 207.73px 208.84px,#6389be 208.84px 209.95px,#6e90bf 209.95px 211.07px,#517cbb 211.07px 212.18px,#6c8ebf 212.18px 213.29px,#6a8dbf 213.29px 214.40px,#7393c0 214.40px 215.51px,#6f91bf 215.51px 216.62px,#6c8ebf 216.62px 217.73px,#678bbe 217.73px 218.84px,#7594c0 218.84px 219.95px,#6187bd 219.95px 221.06px,#809bc3 221.06px 222.17px,#7b98c2 222.17px 223.28px,#6e90bf 223.28px 224.40px,#557fbc 224.40px 225.51px,#658abe 225.51px 226.62px,#6389be 226.62px 227.73px,#5881bc 227.73px 228.84px,#678bbe 228.84px 229.95px,#7896c1 229.95px 231.06px,#5d85bd 231.06px 232.17px,#6087bd 232.17px 233.28px,#7e9ac2 233.28px 234.39px,#6087bd 234.39px 235.50px,#5e85bd 235.50px 236.62px,#517cbb 236.62px 237.73px,#6e90bf 237.73px 238.84px,#5680bc 238.84px 239.95px,#5881bc 239.95px 241.06px,#678bbe 241.06px 242.17px,#6c8ebf 242.17px 243.28px,#6389be 243.28px 244.39px,#507cbb 244.39px 245.50px,#678bbe 245.50px 246.61px,#658abe 246.61px 247.72px,#4675ba 247.72px 248.83px,#5b84bd 248.83px 249.95px,#557fbc 249.95px 251.06px,#5881bc 251.06px 252.17px,#4775ba 252.17px 253.28px,#4c79bb 253.28px 254.39px,#4574ba 254.39px 255.50px)"></div>
<div class="hc" style="left:220.95px;width:12.75px;background:linear-gradient(#7d99c2 0.00px 1.11px,#5881bc 1.11px 2.22px,#4c79bb 2.22px 3.33px,#3f70ba 3.33px 4.44px,#4373ba 4.44px 5.55px,#4473ba 5.55px 6.67px,#3f70ba 6.67px 7.78px,#517dbb 7.78px 8.89px,#5882bc 8.89px 10.00px,#839dc4 10.00px 11.11px,#8aa2c5 11.11px 12.22px,#97abc9 12.22px 13.33px,#4373ba 13.33px 14.44px,#5b83bd 14.44px 15.55px,#537ebc 15.55px 17.77px,#507cbb 17.77px 18.88px,#4c79bb 18.88px 20.00px,#5882bc 20.00px 21.11px,#7393c0 21.11px 22.22px,#4c79bb 22.22px 23.33px,#3a6bb9 23.33px 24.44px,#4775ba 24.44px 25.55px,#5580bc 25.55px 26.66px,#4272ba 26.66px 27.77px,#507cbb 27.77px 28.88px,#4775ba 28.88px 29.99px,#4876ba 29.99px 31.10px,#4171ba 31.10px 32.22px,#4675ba 32.22px 33.33px,#4977bb 33.33px 34.44px,#4e7abb 34.44px 35.55px,#5882bc 35.55px 36.66px,#5e85bd 36.66px 37.77px,#5882bc 37.77px 38.88px,#5d85bd 38.88px 39.99px,#5680bc 39.99px 42.21px,#6389be 42.21px 43.32px,#4e7bbb 43.32px 44.43px,#6389be 44.43px 45.55px,#537ebc 45.55px 46.66px,#4c79bb 46.66px 47.77px,#5a83bc 47.77px 48.88px,#537ebc 48.88px 49.99px,#6c8ebf 49.99px 51.10px,#537ebc 51.10px 52.21px,#557fbc 52.21px 53.32px,#4272ba 53.32px 54.43px,#3b6cb9 54.43px 55.54px,#4a78bb 55.54px 56.65px,#4775ba 56.65px 57.77px,#4977bb 57.77px 58.88px,#4574ba 58.88px 59.99px,#537ebc 59.99px 61.10px,#4574ba 61.10px 62.21px,#4272ba 62.21px 63.32px,#5881bc 63.32px 65.54px,#517cbb 65.54px 66.65px,#4876ba 66.65px 67.76px,#4675ba 67.76px 68.87px,#5e85bd 68.87px 71.10px,#678bbe 71.10px 72.21px,#4c79bb 72.21px 73.32px,#4071ba 73.32px 74.43px,#4171ba 74.43px 75.54px,#4a78bb 75.54px 76.65px,#5882bc 76.65px 77.76px,#6187bd 77.76px 78.87px,#6a8dbf 78.87px 79.98px,#5b83bd 79.98px 81.09px,#5d85bd 81.09px 82.20px,#658abe 82.20px 83.32px,#537ebc 83.32px 84.43px,#5881bc 84.43px 85.54px,#507cbb 85.54px 86.65px,#6087bd 86.65px 87.76px,#5a83bc 87.76px 88.87px,#4876ba 88.87px 91.09px,#4a78bb 91.09px 92.20px,#537ebc 92.20px 93.31px,#517dbb 93.31px 94.42px,#537ebc 94.42px 95.53px,#859ec4 95.53px 96.65px,#7896c1 96.65px 97.76px,#5881bc 97.76px 98.87px,#557fbc 98.87px 99.98px,#4876ba 99.98px 101.09px,#4775ba 101.09px 102.20px,#4977bb 102.20px 103.31px,#537dbc 103.31px 104.42px,#5d85bd 104.42px 105.53px,#4775ba 105.53px 106.64px,#4473ba 106.64px 107.75px,#5d85bd 107.75px 109.98px,#4e7abb 109.98px 111.09px,#5e85bd 111.09px 112.20px,#4d79bb 112.20px 113.31px,#537ebc 113.31px 114.42px,#5680bc 114.42px 115.53px,#4473ba 115.53px 116.64px,#4574ba 116.64px 117.75px,#4876ba 117.75px 118.86px,#4775ba 118.86px 119.97px,#557fbc 119.97px 121.08px,#4877ba 121.08px 122.20px,#537ebc 122.20px 123.31px,#557fbc 123.31px 124.42px,#4a78bb 124.42px 125.53px,#4876ba 125.53px 126.64px,#3a6bb9 126.64px 127.75px,#4574ba 127.75px 128.86px,#4775ba 128.86px 129.97px,#537ebc 129.97px 131.08px,#5881bc 131.08px 132.19px,#4574ba 132.19px 133.30px,#3e6fb9 133.30px 134.42px,#4f7bbb 134.42px 135.53px,#4877ba 135.53px 136.64px,#6489be 136.64px 137.75px,#6187bd 137.75px 138.86px,#678bbe 138.86px 139.97px,#517dbb 139.97px 141.08px,#4574ba 141.08px 142.19px,#507cbb 142.19px 143.30px,#5881bc 143.30px 144.41px,#658abe 144.41px 145.52px,#4373ba 145.52px 146.63px,#4a78bb 146.63px 147.75px,#3d6eb9 147.75px 148.86px,#537ebc 148.86px 149.97px,#678bbe 149.97px 151.08px,#658abe 151.08px 152.19px,#517cbb 152.19px 153.30px,#4675ba 153.30px 154.41px,#4a78bb 154.41px 155.52px,#537ebc 155.52px 156.63px,#507cbb 156.63px 157.74px,#6389be 157.74px 158.85px,#658abe 158.85px 159.97px,#5881bc 159.97px 161.08px,#3c6eb9 161.08px 162.19px,#4b78bb 162.19px 163.30px,#5881bc 163.30px 164.41px,#5a83bc 164.41px 165.52px,#5882bc 165.52px 166.63px,#6389be 166.63px 167.74px,#5680bc 167.74px 168.85px,#4a78bb 168.85px 169.96px,#698cbe 169.96px 171.07px,#4e7bbb 171.07px 172.18px,#4a78bb 172.18px 173.30px,#4373ba 173.30px 174.41px,#4e7abb 174.41px 175.52px,#537ebc 175.52px 176.63px,#4876ba 176.63px 177.74px,#7d99c2 177.74px 178.85px,#658abe 178.85px 179.96px,#4272ba 179.96px 181.07px,#4d79bb 181.07px 182.18px,#5881bc 182.18px 183.29px,#517cbb 183.29px 185.52px,#678bbe 185.52px 186.63px,#5b84bd 186.63px 187.74px,#4574ba 187.74px 188.85px,#4a78bb 188.85px 189.96px,#4e7bbb 189.96px 191.07px,#537ebc 191.07px 192.18px,#4171ba 192.18px 193.29px,#557fbc 193.29px 194.40px,#6389be 194.40px 195.51px,#5d85bd 195.51px 196.62px,#537ebc 196.62px 197.73px,#5680bc 197.73px 198.85px,#698cbe 198.85px 199.96px,#92a7c8 199.96px 201.07px,#4977bb 201.07px 202.18px,#678bbe 202.18px 203.29px,#6187bd 203.29px 204.40px,#4c79bb 204.40px 205.51px,#5e85bd 205.51px 206.62px,#6a8dbf 206.62px 207.73px,#7192c0 207.73px 208.84px,#4a78bb 208.84px 209.95px,#6187bd 209.95px 211.07px,#507cbb 211.07px 212.18px,#698cbe 212.18px 213.29px,#4977bb 213.29px 214.40px,#4a78bb 214.40px 215.51px,#4272ba 215.51px 216.62px,#4977bb 216.62px 217.73px,#4f7bbb 217.73px 218.84px,#4977bb 218.84px 219.95px,#5b83bd 219.95px 221.06px,#4f7bbb 221.06px 222.17px,#4a78bb 222.17px 223.28px,#839dc4 223.28px 224.40px,#829cc3 224.40px 225.51px,#859ec4 225.51px 226.62px,#4171ba 226.62px 227.73px,#3e6fb9 227.73px 228.84px,#4272ba 228.84px 229.95px,#698cbe 229.95px 231.06px,#5881bc 231.06px 232.17px,#6f91bf 232.17px 233.28px,#4c79bb 233.28px 234.39px,#557fbc 234.39px 235.50px,#4775ba 235.50px 236.62px,#3e6fb9 236.62px 237.73px,#3b6cb9 237.73px 238.84px,#3d6eb9 238.84px 239.95px,#5882bc 239.95px 241.06px,#4c79bb 241.06px 242.17px,#517cbb 242.17px 243.28px,#4c79bb 243.28px 244.39px,#4775ba 244.39px 245.50px,#3d6eb9 245.50px 246.61px,#4a78bb 246.61px 247.72px,#4272ba 247.72px 248.83px,#537ebc 248.83px 249.95px,#517dbb 249.95px 251.06px,#4a78bb 251.06px 252.17px,#4e7abb 252.17px 253.28px,#5e85bd 253.28px 255.50px)"></div>
<div class="hc" style="left:233.40px;width:12.75px;background:linear-gradient(#5d85bd 0.00px 1.11px,#6489be 1.11px 2.22px,#4775ba 2.22px 3.33px,#5b83bd 3.33px 4.44px,#698cbe 4.44px 5.55px,#4c79bb 5.55px 6.67px,#517cbb 6.67px 7.78px,#6a8dbf 7.78px 8.89px,#5680bc 8.89px 10.00px,#4977bb 10.00px 11.11px,#5d85bd 11.11px 12.22px,#4e7bbb 12.22px 13.33px,#517cbb 13.33px 14.44px,#3e6fb9 14.44px 15.55px,#6087bd 15.55px 16.66px,#4977bb 16.66px 17.77px,#658abe 17.77px 18.88px,#4272ba 18.88px 20.00px,#6f91bf 20.00px 21.11px,#5882bc 21.11px 22.22px,#6187bd 22.22px 23.33px,#658abe 23.33px 24.44px,#5580bc 24.44px 25.55px,#6087bd 25.55px 26.66px,#6f91bf 26.66px 27.77px,#678bbe 27.77px 28.88px,#537ebc 28.88px 29.99px,#6087bd 29.99px 31.10px,#6187bd 31.10px 32.22px,#7896c1 32.22px 33.33px,#4a78bb 33.33px 34.44px,#4e7abb 34.44px 35.55px,#4a78bb 35.55px 36.66px,#5d85bd 36.66px 37.77px,#517cbb 37.77px 38.88px,#6388be 38.88px 39.99px,#5680bc 39.99px 41.10px,#3f70ba 41.10px 42.21px,#537ebc 42.21px 43.32px,#3c6db9 43.32px 44.43px,#6c8ebf 44.43px 46.66px,#6f91bf 46.66px 48.88px,#698cbe 48.88px 49.99px,#5881bc 49.99px 51.10px,#4e7bbb 51.10px 52.21px,#5b83bd 52.21px 53.32px,#4a78bb 53.32px 54.43px,#5881bc 54.43px 56.65px,#5b84bd 56.65px 57.77px,#5e85bd 57.77px 58.88px,#4675ba 58.88px 59.99px,#4d79bb 59.99px 61.10px,#4373ba 61.10px 62.21px,#4876ba 62.21px 63.32px,#5a83bc 63.32px 64.43px,#5680bc 64.43px 65.54px,#6087bd 65.54px 66.65px,#4775ba 66.65px 67.76px,#537ebc 67.76px 68.87px,#3c6db9 68.87px 69.98px,#4473ba 69.98px 71.10px,#4775ba 71.10px 72.21px,#5d85bd 72.21px 73.32px,#4e7abb 73.32px 74.43px,#557fbc 74.43px 75.54px,#4d7abb 75.54px 76.65px,#4574ba 76.65px 78.87px,#557fbc 78.87px 79.98px,#4876ba 79.98px 81.09px,#4c79bb 81.09px 82.20px,#537ebc 82.20px 83.32px,#698cbe 83.32px 84.43px,#4775ba 84.43px 85.54px,#4a78bb 85.54px 86.65px,#5d85bd 86.65px 87.76px,#4e7bbb 87.76px 88.87px,#507cbb 88.87px 89.98px,#6a8dbf 89.98px 91.09px,#6c8ebf 91.09px 92.20px,#5e85bd 92.20px 93.31px,#4876ba 93.31px 94.42px,#4171ba 94.42px 95.53px,#3e6fb9 95.53px 96.65px,#6a8dbf 96.65px 97.76px,#6389be 97.76px 98.87px,#6a8dbf 98.87px 99.98px,#5b83bd 99.98px 101.09px,#4775ba 101.09px 102.20px,#4171ba 102.20px 103.31px,#5580bc 103.31px 104.42px,#3f70ba 104.42px 105.53px,#6087bd 105.53px 107.75px,#658abe 107.75px 108.87px,#6c8ebf 108.87px 109.98px,#658abe 109.98px 111.09px,#4877ba 111.09px 112.20px,#5680bc 112.20px 113.31px,#537ebc 113.31px 114.42px,#517cbb 114.42px 115.53px,#4b78bb 115.53px 116.64px,#4272ba 116.64px 117.75px,#4373ba 117.75px 118.86px,#5a83bc 118.86px 119.97px,#6f91bf 119.97px 121.08px,#7192c0 121.08px 122.20px,#698cbe 122.20px 123.31px,#6e90bf 123.31px 124.42px,#4e7bbb 124.42px 125.53px,#4775ba 125.53px 126.64px,#4171ba 126.64px 127.75px,#5881bc 127.75px 128.86px,#6187bd 128.86px 129.97px,#4574ba 129.97px 131.08px,#678bbe 131.08px 132.19px,#5d85bd 132.19px 133.30px,#4a78bb 133.30px 134.42px,#4876ba 134.42px 135.53px,#6489be 135.53px 136.64px,#6087bd 136.64px 137.75px,#537ebc 137.75px 138.86px,#658abe 138.86px 139.97px,#698cbe 139.97px 141.08px,#6086bd 141.08px 142.19px,#678bbe 142.19px 143.30px,#4574ba 143.30px 144.41px,#557fbc 144.41px 145.52px,#4c79bb 145.52px 146.63px,#5e85bd 146.63px 147.75px,#537ebc 147.75px 148.86px,#698cbe 148.86px 149.97px,#4675ba 149.97px 151.08px,#5a83bc 151.08px 152.19px,#537dbc 152.19px 153.30px,#537ebc 153.30px 155.52px,#557fbc 155.52px 156.63px,#537ebc 156.63px 157.74px,#4b78bb 157.74px 158.85px,#6489be 158.85px 159.97px,#4977bb 159.97px 161.08px,#517cbb 161.08px 162.19px,#4373ba 162.19px 163.30px,#4574ba 163.30px 164.41px,#5881bc 164.41px 165.52px,#809bc3 165.52px 166.63px,#87a0c4 166.63px 167.74px,#4272ba 167.74px 168.85px,#557fbc 168.85px 169.96px,#5680bc 169.96px 171.07px,#517cbb 171.07px 172.18px,#5d85bd 172.18px 173.30px,#4a78bb 173.30px 174.41px,#6e90bf 174.41px 175.52px,#6389be 175.52px 176.63px,#658abe 176.63px 177.74px,#537ebc 177.74px 178.85px,#5e85bd 178.85px 179.96px,#6c8ebf 179.96px 181.07px,#4f7bbb 181.07px 182.18px,#557fbc 182.18px 183.29px,#4775ba 183.29px 184.40px,#517cbb 184.40px 185.52px,#4f7bbb 185.52px 186.63px,#3e6fb9 186.63px 187.74px,#5680bc 187.74px 188.85px,#517cbb 188.85px 189.96px,#698cbe 189.96px 191.07px,#4c79bb 191.07px 192.18px,#557fbc 192.18px 193.29px,#5680bc 193.29px 194.40px,#9fb0cc 194.40px 195.51px,#97abc9 195.51px 196.62px,#b3bfd3 196.62px 197.73px,#7e9ac2 197.73px 198.85px,#7695c1 198.85px 199.96px,#4e7abb 199.96px 201.07px,#6087bd 201.07px 202.18px,#5982bc 202.18px 203.29px,#557fbc 203.29px 204.40px,#4775ba 204.40px 205.51px,#5b83bd 205.51px 206.62px,#537ebc 206.62px 207.73px,#5982bc 207.73px 208.84px,#658abe 208.84px 209.95px,#678bbe 209.95px 211.07px,#4c79bb 211.07px 212.18px,#5b83bd 212.18px 213.29px,#5a83bc 213.29px 214.40px,#4776ba 214.40px 215.51px,#4071ba 215.51px 216.62px,#5881bc 216.62px 217.73px,#698cbe 217.73px 218.84px,#5d85bd 218.84px 219.95px,#6a8dbf 219.95px 221.06px,#658abe 221.06px 222.17px,#6389be 222.17px 223.28px,#4c79bb 223.28px 224.40px,#4876ba 224.40px 225.51px,#517cbb 225.51px 226.62px,#4a78bb 226.62px 227.73px,#517cbb 227.73px 228.84px,#5580bc 228.84px 229.95px,#6a8dbf 229.95px 231.06px,#4c79bb 231.06px 232.17px,#4272ba 232.17px 233.28px,#3e6fb9 233.28px 234.39px,#658abe 234.39px 235.50px,#7393c0 235.50px 236.62px,#97abc9 236.62px 237.73px,#4a78bb 237.73px 238.84px,#5d85bd 238.84px 239.95px,#6187bd 239.95px 241.06px,#4e7bbb 241.06px 242.17px,#4171ba 242.17px 244.39px,#507cbb 244.39px 245.50px,#5882bc 245.50px 246.61px,#4c79bb 246.61px 247.72px,#5e85bd 247.72px 248.83px,#6c8ebf 248.83px 249.95px,#4a78bb 249.95px 252.17px,#3c6db9 252.17px 253.28px,#537ebc 253.28px 254.39px,#517dbb 254.39px 255.50px)"></div>
<div class="hc" style="left:245.85px;width:12.75px;background:linear-gradient(#3c6db9 0.00px 1.11px,#3d6eb9 1.11px 2.22px,#3f70ba 2.22px 3.33px,#3c6db9 3.33px 5.55px,#3c6eb9 5.55px 6.67px,#3d6eb9 6.67px 7.78px,#3c6db9 7.78px 8.89px,#3e6fb9 8.89px 10.00px,#3d6eb9 10.00px 11.11px,#3f70ba 11.11px 13.33px,#3b6cb9 13.33px 14.44px,#3c6db9 14.44px 15.55px,#3b6cb9 15.55px 16.66px,#3c6db9 16.66px 17.77px,#4171ba 17.77px 18.88px,#4071ba 18.88px 20.00px,#4272ba 20.00px 21.11px,#3e6fb9 21.11px 22.22px,#4272ba 22.22px 23.33px,#3f70ba 23.33px 24.44px,#4071ba 24.44px 25.55px,#3d6eb9 25.55px 26.66px,#3f70ba 26.66px 28.88px,#3e6fb9 28.88px 29.99px,#3f70ba 29.99px 31.10px,#3c6db9 31.10px 32.22px,#3e6fb9 32.22px 33.33px,#3e6fba 33.33px 34.44px,#3f70ba 34.44px 35.55px,#3c6db9 35.55px 36.66px,#3e6fb9 36.66px 37.77px,#3b6cb9 37.77px 38.88px,#3c6db9 38.88px 39.99px,#3c6eb9 39.99px 41.10px,#3c6db9 41.10px 42.21px,#3d6eb9 42.21px 43.32px,#3e6fb9 43.32px 45.55px,#3f70ba 45.55px 47.77px,#3e6fb9 47.77px 48.88px,#3c6db9 48.88px 52.21px,#3e6fb9 52.21px 53.32px,#4272ba 53.32px 54.43px,#4171ba 54.43px 55.54px,#4071ba 55.54px 56.65px,#3e6fb9 56.65px 57.77px,#3c6db9 57.77px 58.88px,#3b6cb9 58.88px 62.21px,#3c6db9 62.21px 64.43px,#3b6cb9 64.43px 65.54px,#3c6db9 65.54px 66.65px,#3b6cb9 66.65px 67.76px,#3c6db9 67.76px 68.87px,#3b6cb9 68.87px 69.98px,#3d6eb9 69.98px 71.10px,#3b6cb9 71.10px 72.21px,#3c6db9 72.21px 74.43px,#7695c1 74.43px 75.54px,#3c6db9 75.54px 78.87px,#3d6eb9 78.87px 79.98px,#3c6db9 79.98px 81.09px,#3c6eb9 81.09px 83.32px,#3d6eb9 83.32px 84.43px,#3f70ba 84.43px 85.54px,#3e6fb9 85.54px 87.76px,#3f70ba 87.76px 88.87px,#3c6db9 88.87px 89.98px,#3c6eb9 89.98px 91.09px,#4171ba 91.09px 92.20px,#3b6cb9 92.20px 93.31px,#3f70ba 93.31px 94.42px,#3d6eb9 94.42px 95.53px,#4171ba 95.53px 96.65px,#3c6db9 96.65px 99.98px,#3e6fb9 99.98px 101.09px,#4272ba 101.09px 102.20px,#3d6eb9 102.20px 104.42px,#3f70ba 104.42px 105.53px,#3d6eb9 105.53px 106.64px,#3f70ba 106.64px 108.87px,#3e6fb9 108.87px 109.98px,#3b6cb9 109.98px 111.09px,#3c6eb9 111.09px 112.20px,#3f70ba 112.20px 113.31px,#3d6eb9 113.31px 114.42px,#3f70ba 114.42px 115.53px,#3c6eb9 115.53px 116.64px,#3c6db9 116.64px 117.75px,#3f70ba 117.75px 118.86px,#3c6eb9 118.86px 119.97px,#3f70ba 119.97px 122.20px,#3d6eb9 122.20px 124.42px,#3c6db9 124.42px 125.53px,#3e6fba 125.53px 126.64px,#3c6db9 126.64px 127.75px,#4171ba 127.75px 128.86px,#3e6fba 128.86px 129.97px,#3c6eb9 129.97px 131.08px,#3f70ba 131.08px 133.30px,#3e6fb9 133.30px 134.42px,#3b6cb9 134.42px 135.53px,#3c6db9 135.53px 136.64px,#3c6eb9 136.64px 137.75px,#4171ba 137.75px 138.86px,#4373ba 138.86px 141.08px,#3e6fb9 141.08px 142.19px,#3f70ba 142.19px 144.41px,#3e6fb9 144.41px 145.52px,#3c6db9 145.52px 146.63px,#3d6eb9 146.63px 147.75px,#3e6fb9 147.75px 148.86px,#3f70ba 148.86px 149.97px,#3d6eb9 149.97px 151.08px,#4071ba 151.08px 152.19px,#3f70ba 152.19px 153.30px,#3e6fb9 153.30px 154.41px,#3d6eb9 154.41px 157.74px,#3e6fb9 157.74px 158.85px,#3c6eb9 158.85px 159.97px,#3b6cb9 159.97px 161.08px,#3a6bb9 161.08px 163.30px,#3b6cb9 163.30px 167.74px,#3a6bb9 167.74px 168.85px,#3d6eb9 168.85px 169.96px,#3a6bb9 169.96px 171.07px,#3b6cb9 171.07px 172.18px,#3c6db9 172.18px 174.41px,#3b6cb9 174.41px 175.52px,#3d6eb9 175.52px 177.74px,#3c6db9 177.74px 178.85px,#3f70ba 178.85px 179.96px,#3e6fb9 179.96px 181.07px,#3f70ba 181.07px 182.18px,#3d6eb9 182.18px 183.29px,#3e6fb9 183.29px 184.40px,#3c6db9 184.40px 185.52px,#3d6eb9 185.52px 186.63px,#3e6fb9 186.63px 188.85px,#3d6eb9 188.85px 192.18px,#4171ba 192.18px 193.29px,#3d6eb9 193.29px 194.40px,#3c6db9 194.40px 195.51px,#3c6eb9 195.51px 196.62px,#3e6fb9 196.62px 197.73px,#3d6eb9 197.73px 198.85px,#3f70ba 198.85px 199.96px,#3e6fb9 199.96px 201.07px,#3f70ba 201.07px 202.18px,#4171ba 202.18px 203.29px,#3d6eb9 203.29px 206.62px,#3c6db9 206.62px 207.73px,#3e6fb9 207.73px 208.84px,#4071ba 208.84px 209.95px,#3f70ba 209.95px 211.07px,#3c6eb9 211.07px 212.18px,#3e6fb9 212.18px 214.40px,#3f70ba 214.40px 215.51px,#3c6db9 215.51px 216.62px,#3d6eb9 216.62px 217.73px,#3e6fb9 217.73px 219.95px,#3d6eb9 219.95px 221.06px,#3e6fb9 221.06px 224.40px,#3d6eb9 224.40px 226.62px,#3c6db9 226.62px 231.06px,#4272ba 231.06px 232.17px,#3e6fb9 232.17px 233.28px,#3f70ba 233.28px 234.39px,#3d6eb9 234.39px 235.50px,#3f70ba 235.50px 236.62px,#3e6fba 236.62px 237.73px,#3e6fb9 237.73px 238.84px,#3f70ba 238.84px 239.95px,#3d6eb9 239.95px 241.06px,#3b6cb9 241.06px 242.17px,#3e6fb9 242.17px 243.28px,#3d6eb9 243.28px 245.50px,#3c6db9 245.50px 246.61px,#3b6cb9 246.61px 247.72px,#3d6eb9 247.72px 248.83px,#3c6db9 248.83px 249.95px,#3d6eb9 249.95px 251.06px,#3c6db9 251.06px 252.17px,#3c6eb9 252.17px 253.28px,#3c6db9 253.28px 254.39px,#3d6eb9 254.39px 255.50px)"></div>
<div class="hc" style="left:258.30px;width:12.75px;background:linear-gradient(#4272ba 0.00px 1.11px,#3f70ba 1.11px 2.22px,#3e6fb9 2.22px 5.55px,#3c6db9 5.55px 6.67px,#3e6fb9 6.67px 7.78px,#4171ba 7.78px 8.89px,#4877ba 8.89px 10.00px,#4272ba 10.00px 11.11px,#3f70ba 11.11px 12.22px,#3d6eb9 12.22px 13.33px,#3e6fb9 13.33px 14.44px,#4171ba 14.44px 15.55px,#3c6db9 15.55px 16.66px,#3b6cb9 16.66px 17.77px,#3c6db9 17.77px 18.88px,#3b6cb9 18.88px 20.00px,#3e6fb9 20.00px 21.11px,#3f70ba 21.11px 23.33px,#4574ba 23.33px 24.44px,#6389be 24.44px 25.55px,#6c8ebf 25.55px 26.66px,#6a8dbf 26.66px 27.77px,#4171ba 27.77px 28.88px,#3f70ba 28.88px 29.99px,#4574ba 29.99px 31.10px,#3f70ba 31.10px 32.22px,#3a6bb9 32.22px 33.33px,#3f70ba 33.33px 34.44px,#3e6fb9 34.44px 36.66px,#4171ba 36.66px 37.77px,#3d6eb9 37.77px 38.88px,#3e6fb9 38.88px 39.99px,#3c6db9 39.99px 41.10px,#3b6cb9 41.10px 42.21px,#3c6db9 42.21px 43.32px,#4171ba 43.32px 44.43px,#7d99c2 44.43px 45.55px,#7997c1 45.55px 46.66px,#7b98c2 46.66px 47.77px,#3e6fb9 47.77px 48.88px,#4272ba 48.88px 49.99px,#3d6eb9 49.99px 51.10px,#3f70ba 51.10px 52.21px,#3d6eb9 52.21px 53.32px,#3e6fb9 53.32px 54.43px,#3f70ba 54.43px 55.54px,#4171ba 55.54px 56.65px,#4071ba 56.65px 57.77px,#3f70ba 57.77px 58.88px,#3d6eb9 58.88px 59.99px,#3e6fb9 59.99px 61.10px,#3b6cb9 61.10px 63.32px,#3d6eb9 63.32px 64.43px,#4272ba 64.43px 65.54px,#3c6db9 65.54px 66.65px,#4272ba 66.65px 67.76px,#3e6fb9 67.76px 69.98px,#3c6db9 69.98px 72.21px,#3d6eb9 72.21px 73.32px,#3c6eb9 73.32px 74.43px,#3f70ba 74.43px 75.54px,#3c6eb9 75.54px 76.65px,#3d6eb9 76.65px 78.87px,#4071ba 78.87px 79.98px,#3c6eb9 79.98px 81.09px,#3d6eb9 81.09px 82.20px,#3e6fb9 82.20px 83.32px,#4272ba 83.32px 84.43px,#7695c1 84.43px 85.54px,#7393c0 85.54px 86.65px,#7896c1 86.65px 87.76px,#4071ba 87.76px 88.87px,#4574ba 88.87px 89.98px,#3e6fb9 89.98px 91.09px,#3c6db9 91.09px 92.20px,#3f70ba 92.20px 93.31px,#4171ba 93.31px 94.42px,#3c6eb9 94.42px 95.53px,#3e6fb9 95.53px 96.65px,#4272ba 96.65px 97.76px,#3f70ba 97.76px 98.87px,#4071ba 98.87px 99.98px,#3c6db9 99.98px 102.20px,#3c6eb9 102.20px 103.31px,#3d6eb9 103.31px 104.42px,#4574ba 104.42px 105.53px,#4675ba 105.53px 106.64px,#3d6eb9 106.64px 107.75px,#3f70ba 107.75px 108.87px,#3c6db9 108.87px 109.98px,#4171ba 109.98px 111.09px,#3b6cb9 111.09px 112.20px,#4171ba 112.20px 113.31px,#3d6eb9 113.31px 114.42px,#4574ba 114.42px 115.53px,#4473ba 115.53px 116.64px,#3f70ba 116.64px 117.75px,#4272ba 117.75px 118.86px,#4171ba 118.86px 121.08px,#4373ba 121.08px 122.20px,#4171ba 122.20px 123.31px,#4574ba 123.31px 124.42px,#537dbc 124.42px 125.53px,#5b83bc 125.53px 126.64px,#3c6db9 126.64px 127.75px,#3f70ba 127.75px 128.86px,#4373ba 128.86px 131.08px,#3f70ba 131.08px 132.19px,#4272ba 132.19px 133.30px,#3b6cb9 133.30px 134.42px,#3c6db9 134.42px 135.53px,#3c6eb9 135.53px 136.64px,#658abe 136.64px 137.75px,#6a8dbf 137.75px 138.86px,#4373ba 138.86px 139.97px,#4a78bb 139.97px 141.08px,#4272ba 141.08px 142.19px,#3e6fb9 142.19px 143.30px,#4171ba 143.30px 144.41px,#4272ba 144.41px 145.52px,#4071ba 145.52px 146.63px,#4373ba 146.63px 147.75px,#4574ba 147.75px 148.86px,#3c6db9 148.86px 149.97px,#4373ba 149.97px 151.08px,#4171ba 151.08px 152.19px,#3d6eb9 152.19px 153.30px,#3c6db9 153.30px 154.41px,#3d6eb9 154.41px 155.52px,#3e6fba 155.52px 156.63px,#4272ba 156.63px 157.74px,#3c6db9 157.74px 158.85px,#3e6fb9 158.85px 159.97px,#3c6db9 159.97px 161.08px,#3b6cb9 161.08px 162.19px,#3c6db9 162.19px 163.30px,#3f70ba 163.30px 164.41px,#3d6eb9 164.41px 165.52px,#4272ba 165.52px 166.63px,#3f70ba 166.63px 167.74px,#3c6db9 167.74px 168.85px,#4071ba 168.85px 169.96px,#3d6eb9 169.96px 171.07px,#4876ba 171.07px 172.18px,#3f70ba 172.18px 173.30px,#4373ba 173.30px 174.41px,#4272ba 174.41px 175.52px,#3d6eb9 175.52px 176.63px,#4171ba 176.63px 177.74px,#3f70ba 177.74px 178.85px,#4071ba 178.85px 179.96px,#4272ba 179.96px 181.07px,#4373ba 181.07px 182.18px,#3c6db9 182.18px 183.29px,#3d6eb9 183.29px 184.40px,#4574ba 184.40px 185.52px,#3d6eb9 185.52px 186.63px,#3b6cb9 186.63px 187.74px,#3e6fb9 187.74px 189.96px,#4272ba 189.96px 191.07px,#4675ba 191.07px 192.18px,#4c79bb 192.18px 193.29px,#6c8ebf 193.29px 194.40px,#6a8dbf 194.40px 195.51px,#4574ba 195.51px 196.62px,#4171ba 196.62px 198.85px,#4574ba 198.85px 199.96px,#4171ba 199.96px 201.07px,#3f70ba 201.07px 202.18px,#4171ba 202.18px 203.29px,#4272ba 203.29px 204.40px,#4373ba 204.40px 205.51px,#3f70ba 205.51px 206.62px,#3a6bb9 206.62px 207.73px,#3b6cb9 207.73px 208.84px,#3c6db9 208.84px 209.95px,#4171ba 209.95px 211.07px,#3f70ba 211.07px 212.18px,#3d6eb9 212.18px 213.29px,#3f70ba 213.29px 214.40px,#3e6fb9 214.40px 215.51px,#3c6db9 215.51px 216.62px,#557fbc 216.62px 218.84px,#537ebc 218.84px 219.95px,#3c6db9 219.95px 221.06px,#3c6eb9 221.06px 222.17px,#4574ba 222.17px 223.28px,#4373ba 223.28px 224.40px,#4272ba 224.40px 225.51px,#3e6fb9 225.51px 226.62px,#4171ba 226.62px 227.73px,#4574ba 227.73px 228.84px,#3e6fb9 228.84px 229.95px,#4675ba 229.95px 231.06px,#3e6fb9 231.06px 232.17px,#4272ba 232.17px 233.28px,#3f70ba 233.28px 235.50px,#4272ba 235.50px 236.62px,#3b6cb9 236.62px 237.73px,#3e6fb9 237.73px 238.84px,#3c6db9 238.84px 239.95px,#3f70ba 239.95px 241.06px,#3b6cb9 241.06px 242.17px,#3e6fba 242.17px 243.28px,#3c6db9 243.28px 244.39px,#3a6bb9 244.39px 245.50px,#4171ba 245.50px 246.61px,#3c6eb9 246.61px 247.72px,#3d6eb9 247.72px 248.83px,#3c6db9 248.83px 251.06px,#3d6eb9 251.06px 252.17px,#3e6fb9 252.17px 253.28px,#4071ba 253.28px 254.39px,#3d6eb9 254.39px 255.50px)"></div>
<div class="hc" style="left:270.75px;width:12.75px;background:linear-gradient(#3d6eb9 0.00px 1.11px,#6e90bf 1.11px 2.22px,#6a8dbf 2.22px 3.33px,#7192c0 3.33px 4.44px,#3c6db9 4.44px 5.55px,#3d6eb9 5.55px 6.67px,#3e6fb9 6.67px 7.78px,#3d6eb9 7.78px 8.89px,#3f70ba 8.89px 11.11px,#4071ba 11.11px 12.22px,#4c79bb 12.22px 13.33px,#3e6fb9 13.33px 14.44px,#4574ba 14.44px 15.55px,#4071ba 15.55px 16.66px,#3d6eb9 16.66px 17.77px,#4373ba 17.77px 20.00px,#7695c1 20.00px 21.11px,#829cc3 21.11px 22.22px,#7d99c2 22.22px 23.33px,#4373ba 23.33px 24.44px,#839dc4 24.44px 25.55px,#7e9ac2 25.55px 26.66px,#4876ba 26.66px 27.77px,#7192c0 27.77px 29.99px,#aab8d0 29.99px 31.10px,#7e9ac2 31.10px 32.22px,#4473ba 32.22px 33.33px,#4574ba 33.33px 35.55px,#4775ba 35.55px 36.66px,#3f70ba 36.66px 37.77px,#4171ba 37.77px 38.88px,#4775ba 38.88px 41.10px,#3d6eb9 41.10px 42.21px,#3e6fb9 42.21px 43.32px,#4272ba 43.32px 44.43px,#3d6eb9 44.43px 45.55px,#4373ba 45.55px 46.66px,#4071ba 46.66px 47.77px,#3e6fb9 47.77px 48.88px,#4373ba 48.88px 49.99px,#4171ba 49.99px 51.10px,#3f70ba 51.10px 52.21px,#4473ba 52.21px 53.32px,#4775ba 53.32px 54.43px,#7192c0 54.43px 55.54px,#6e90bf 55.54px 57.77px,#4171ba 57.77px 58.88px,#4675ba 58.88px 59.99px,#4272ba 59.99px 61.10px,#4574ba 61.10px 62.21px,#4a78bb 62.21px 63.32px,#7192c0 63.32px 64.43px,#3f70ba 64.43px 65.54px,#3d6eb9 65.54px 66.65px,#3f70ba 66.65px 67.76px,#3c6db9 67.76px 69.98px,#4171ba 69.98px 73.32px,#3e6fb9 73.32px 74.43px,#5680bc 74.43px 75.54px,#3e6fb9 75.54px 76.65px,#4171ba 76.65px 77.76px,#4c79bb 77.76px 78.87px,#4272ba 78.87px 81.09px,#3f70ba 81.09px 82.20px,#4574ba 82.20px 83.32px,#4171ba 83.32px 84.43px,#4574ba 84.43px 85.54px,#4373ba 85.54px 86.65px,#4574ba 86.65px 87.76px,#4f7bbb 87.76px 88.87px,#4775ba 88.87px 89.98px,#4071ba 89.98px 91.09px,#4675ba 91.09px 92.20px,#537ebc 92.20px 93.31px,#4373ba 93.31px 94.42px,#4876ba 94.42px 95.53px,#4171ba 95.53px 96.65px,#3e6fb9 96.65px 98.87px,#7997c1 98.87px 99.98px,#7594c0 99.98px 101.09px,#7695c1 101.09px 102.20px,#7393c0 102.20px 103.31px,#7b98c2 103.31px 104.42px,#3f70ba 104.42px 105.53px,#3c6db9 105.53px 106.64px,#3c6eb9 106.64px 107.75px,#4272ba 107.75px 108.87px,#3f70ba 108.87px 109.98px,#3c6db9 109.98px 111.09px,#3f70ba 111.09px 112.20px,#4675ba 112.20px 113.31px,#658abe 113.31px 114.42px,#4f7bbb 114.42px 115.53px,#4574ba 115.53px 116.64px,#4272ba 116.64px 117.75px,#3c6db9 117.75px 118.86px,#4675ba 118.86px 119.97px,#4574ba 119.97px 121.08px,#6187bd 121.08px 122.20px,#4a78bb 122.20px 123.31px,#6e90bf 123.31px 124.42px,#4272ba 124.42px 125.53px,#4a78bb 125.53px 126.64px,#3c6eb9 126.64px 127.75px,#6087bd 127.75px 128.86px,#6187bd 128.86px 129.97px,#5680bc 129.97px 131.08px,#517cbb 131.08px 132.19px,#4071ba 132.19px 133.30px,#4574ba 133.30px 134.42px,#3c6eb9 134.42px 135.53px,#4171ba 135.53px 136.64px,#4775ba 136.64px 137.75px,#4675ba 137.75px 138.86px,#4272ba 138.86px 141.08px,#4574ba 141.08px 142.19px,#4c79bb 142.19px 143.30px,#4775ba 143.30px 144.41px,#4876ba 144.41px 145.52px,#4775ba 145.52px 146.63px,#4373ba 146.63px 147.75px,#4071ba 147.75px 148.86px,#4272ba 148.86px 149.97px,#3c6db9 149.97px 152.19px,#4272ba 152.19px 153.30px,#4574ba 153.30px 155.52px,#4473ba 155.52px 156.63px,#4272ba 156.63px 158.85px,#4373ba 158.85px 159.97px,#4171ba 159.97px 161.08px,#4272ba 161.08px 162.19px,#4574ba 162.19px 163.30px,#4272ba 163.30px 164.41px,#3e6fb9 164.41px 165.52px,#4c79bb 165.52px 166.63px,#4e7bbb 166.63px 167.74px,#3e6fba 167.74px 169.96px,#4574ba 169.96px 171.07px,#3e6fb9 171.07px 172.18px,#3c6eb9 172.18px 173.30px,#4373ba 173.30px 174.41px,#4775ba 174.41px 175.52px,#4373ba 175.52px 176.63px,#3c6db9 176.63px 177.74px,#4775ba 177.74px 178.85px,#4272ba 178.85px 179.96px,#4574ba 179.96px 181.07px,#3f70ba 181.07px 182.18px,#4171ba 182.18px 183.29px,#4574ba 183.29px 184.40px,#3f70ba 184.40px 186.63px,#4373ba 186.63px 187.74px,#4574ba 187.74px 188.85px,#4071ba 188.85px 189.96px,#4675ba 189.96px 191.07px,#4a78bb 191.07px 192.18px,#4373ba 192.18px 193.29px,#3e6fb9 193.29px 194.40px,#4171ba 194.40px 196.62px,#4071ba 196.62px 197.73px,#3d6eb9 197.73px 198.85px,#3f70ba 198.85px 199.96px,#4071ba 199.96px 201.07px,#4775ba 201.07px 203.29px,#4574ba 203.29px 204.40px,#4171ba 204.40px 205.51px,#4b78bb 205.51px 206.62px,#4373ba 206.62px 207.73px,#4574ba 207.73px 208.84px,#4a78bb 208.84px 209.95px,#4c79bb 209.95px 211.07px,#4272ba 211.07px 212.18px,#4071ba 212.18px 213.29px,#3d6eb9 213.29px 214.40px,#3e6fba 214.40px 215.51px,#3f70ba 215.51px 216.62px,#3c6eb9 216.62px 217.73px,#3f70ba 217.73px 218.84px,#4272ba 218.84px 219.95px,#4171ba 219.95px 221.06px,#4574ba 221.06px 222.17px,#4b78bb 222.17px 223.28px,#4373ba 223.28px 224.40px,#678bbe 224.40px 225.51px,#3f70ba 225.51px 226.62px,#4171ba 226.62px 227.73px,#4574ba 227.73px 228.84px,#3f70ba 228.84px 229.95px,#4775ba 229.95px 231.06px,#4373ba 231.06px 232.17px,#3f70ba 232.17px 234.39px,#658abe 234.39px 236.62px,#678bbe 236.62px 237.73px,#4a78bb 237.73px 238.84px,#3f70ba 238.84px 239.95px,#3e6fb9 239.95px 241.06px,#4071ba 241.06px 243.28px,#4272ba 243.28px 245.50px,#4876ba 245.50px 246.61px,#3f70ba 246.61px 247.72px,#4876ba 247.72px 248.83px,#3e6fb9 248.83px 249.95px,#4071ba 249.95px 251.06px,#3f70ba 251.06px 252.17px,#4473ba 252.17px 253.28px,#3d6eb9 253.28px 254.39px,#4272ba 254.39px 255.50px)"></div>
<div class="hc" style="left:283.20px;width:12.75px;background:linear-gradient(#3f70ba 0.00px 1.11px,#3e6fb9 1.11px 2.22px,#3f70ba 2.22px 3.33px,#4071ba 3.33px 4.44px,#3c6db9 4.44px 5.55px,#3e6fb9 5.55px 6.67px,#3f70ba 6.67px 10.00px,#3b6cb9 10.00px 11.11px,#3e6fb9 11.11px 12.22px,#4675ba 12.22px 13.33px,#3d6eb9 13.33px 14.44px,#3f70ba 14.44px 15.55px,#5b83bd 15.55px 16.66px,#5d85bd 16.66px 17.77px,#5e85bd 17.77px 18.88px,#4171ba 18.88px 21.11px,#4775ba 21.11px 22.22px,#4171ba 22.22px 23.33px,#3e6fb9 23.33px 25.55px,#4171ba 25.55px 26.66px,#3f70ba 26.66px 27.77px,#3d6eb9 27.77px 28.88px,#3f70ba 28.88px 29.99px,#4171ba 29.99px 31.10px,#4272ba 31.10px 32.22px,#4071ba 32.22px 33.33px,#3f70ba 33.33px 34.44px,#4171ba 34.44px 35.55px,#4574ba 35.55px 36.66px,#4373ba 36.66px 37.77px,#3c6eb9 37.77px 38.88px,#3d6eb9 38.88px 41.10px,#3c6db9 41.10px 42.21px,#3d6eb9 42.21px 43.32px,#3f70ba 43.32px 44.43px,#3d6eb9 44.43px 45.55px,#3b6cb9 45.55px 46.66px,#3a6bb9 46.66px 47.77px,#3b6cb9 47.77px 48.88px,#4775ba 48.88px 49.99px,#4272ba 49.99px 51.10px,#4a78bb 51.10px 52.21px,#4775ba 52.21px 53.32px,#4574ba 53.32px 54.43px,#4171ba 54.43px 55.54px,#3c6eb9 55.54px 56.65px,#4272ba 56.65px 57.77px,#4876ba 57.77px 58.88px,#4071ba 58.88px 59.99px,#4171ba 59.99px 61.10px,#4272ba 61.10px 62.21px,#3e6fb9 62.21px 63.32px,#4473ba 63.32px 64.43px,#3f70ba 64.43px 65.54px,#4171ba 65.54px 66.65px,#3f70ba 66.65px 67.76px,#3e6fba 67.76px 68.87px,#3d6eb9 68.87px 69.98px,#3f70ba 69.98px 71.10px,#3d6eb9 71.10px 72.21px,#3b6cb9 72.21px 74.43px,#3f70ba 74.43px 75.54px,#3c6db9 75.54px 76.65px,#3a6bb9 76.65px 77.76px,#3c6db9 77.76px 78.87px,#3a6bb9 78.87px 79.98px,#3f70ba 79.98px 81.09px,#3c6eb9 81.09px 83.32px,#3b6cb9 83.32px 84.43px,#3d6eb9 84.43px 85.54px,#3c6eb9 85.54px 86.65px,#4272ba 86.65px 88.87px,#3e6fb9 88.87px 89.98px,#4071ba 89.98px 91.09px,#4373ba 91.09px 92.20px,#4272ba 92.20px 93.31px,#4171ba 93.31px 94.42px,#3e6fb9 94.42px 95.53px,#3f70ba 95.53px 96.65px,#3d6eb9 96.65px 97.76px,#4171ba 97.76px 98.87px,#3b6cb9 98.87px 99.98px,#3c6eb9 99.98px 101.09px,#3d6eb9 101.09px 102.20px,#3e6fba 102.20px 103.31px,#3e6fb9 103.31px 104.42px,#3f70ba 104.42px 105.53px,#4071ba 105.53px 106.64px,#4272ba 106.64px 107.75px,#3e6fb9 107.75px 108.87px,#4171ba 108.87px 109.98px,#3c6db9 109.98px 111.09px,#3c6eb9 111.09px 112.20px,#3e6fba 112.20px 113.31px,#4272ba 113.31px 114.42px,#4373ba 114.42px 115.53px,#3f70ba 115.53px 116.64px,#4272ba 116.64px 117.75px,#4071ba 117.75px 119.97px,#4373ba 119.97px 121.08px,#4574ba 121.08px 122.20px,#4272ba 122.20px 123.31px,#3f70ba 123.31px 124.42px,#3d6eb9 124.42px 126.64px,#3c6db9 126.64px 127.75px,#4373ba 127.75px 128.86px,#3f70ba 128.86px 129.97px,#3e6fb9 129.97px 131.08px,#3b6cb9 131.08px 132.19px,#3d6eb9 132.19px 133.30px,#3f70ba 133.30px 135.53px,#4574ba 135.53px 136.64px,#3f70ba 136.64px 137.75px,#4272ba 137.75px 138.86px,#4574ba 138.86px 139.97px,#4373ba 139.97px 142.19px,#4272ba 142.19px 144.41px,#3c6db9 144.41px 145.52px,#3c6eb9 145.52px 146.63px,#3d6eb9 146.63px 147.75px,#3f70ba 147.75px 149.97px,#3e6fb9 149.97px 151.08px,#3f70ba 151.08px 152.19px,#3e6fb9 152.19px 154.41px,#3c6eb9 154.41px 155.52px,#3c6db9 155.52px 156.63px,#4171ba 156.63px 157.74px,#4775ba 157.74px 158.85px,#3d6eb9 158.85px 159.97px,#4171ba 159.97px 161.08px,#3c6eb9 161.08px 162.19px,#3c6db9 162.19px 163.30px,#3f70ba 163.30px 164.41px,#4775ba 164.41px 165.52px,#4071ba 165.52px 166.63px,#4272ba 166.63px 167.74px,#4171ba 167.74px 168.85px,#3b6cb9 168.85px 169.96px,#3c6db9 169.96px 172.18px,#3b6cb9 172.18px 173.30px,#4171ba 173.30px 174.41px,#3d6eb9 174.41px 175.52px,#3f70ba 175.52px 176.63px,#3b6cb9 176.63px 178.85px,#3d6eb9 178.85px 179.96px,#4574ba 179.96px 181.07px,#4071ba 181.07px 183.29px,#3e6fba 183.29px 184.40px,#3d6eb9 184.40px 185.52px,#3c6db9 185.52px 186.63px,#3c6eb9 186.63px 187.74px,#5d85bd 187.74px 188.85px,#4775ba 188.85px 189.96px,#3d6eb9 189.96px 191.07px,#3c6db9 191.07px 192.18px,#3d6eb9 192.18px 194.40px,#3c6eb9 194.40px 196.62px,#4574ba 196.62px 197.73px,#4272ba 197.73px 198.85px,#537dbc 198.85px 199.96px,#4775ba 199.96px 201.07px,#4373ba 201.07px 202.18px,#4171ba 202.18px 203.29px,#4574ba 203.29px 204.40px,#3e6fb9 204.40px 205.51px,#3f70ba 205.51px 206.62px,#3e6fb9 206.62px 207.73px,#4373ba 207.73px 208.84px,#3f70ba 208.84px 209.95px,#4574ba 209.95px 211.07px,#3d6eb9 211.07px 212.18px,#4373ba 212.18px 213.29px,#3b6cb9 213.29px 214.40px,#3c6db9 214.40px 216.62px,#3d6eb9 216.62px 217.73px,#3b6cb9 217.73px 218.84px,#7896c1 218.84px 219.95px,#3f70ba 219.95px 221.06px,#4373ba 221.06px 222.17px,#4473ba 222.17px 223.28px,#4171ba 223.28px 224.40px,#3d6eb9 224.40px 225.51px,#3e6fb9 225.51px 226.62px,#3c6db9 226.62px 227.73px,#3e6fb9 227.73px 229.95px,#3f70ba 229.95px 231.06px,#4775ba 231.06px 232.17px,#3f70ba 232.17px 233.28px,#4373ba 233.28px 234.39px,#3c6db9 234.39px 236.62px,#3d6eb9 236.62px 237.73px,#3f70ba 237.73px 238.84px,#7594c0 238.84px 241.06px,#3f70ba 241.06px 242.17px,#3e6fb9 242.17px 243.28px,#4373ba 243.28px 244.39px,#6389be 244.39px 245.50px,#678bbe 245.50px 246.61px,#5e85bd 246.61px 247.72px,#3b6cb9 247.72px 248.83px,#4272ba 248.83px 249.95px,#3d6eb9 249.95px 251.06px,#3c6db9 251.06px 252.17px,#3f70ba 252.17px 253.28px,#3c6db9 253.28px 254.39px,#3b6cb9 254.39px 255.50px)"></div>
<div class="hc" style="left:295.65px;width:12.75px;background:linear-gradient(#3b6cb9 0.00px 1.11px,#4272ba 1.11px 2.22px,#3d6eb9 2.22px 3.33px,#3f70ba 3.33px 4.44px,#3d6eb9 4.44px 7.78px,#3c6db9 7.78px 8.89px,#3d6eb9 8.89px 10.00px,#3f70ba 10.00px 11.11px,#3e6fb9 11.11px 12.22px,#3f70ba 12.22px 14.44px,#3d6eb9 14.44px 15.55px,#3c6db9 15.55px 16.66px,#3b6cb9 16.66px 17.77px,#3d6eb9 17.77px 18.88px,#3e6fb9 18.88px 20.00px,#4272ba 20.00px 21.11px,#3d6eb9 21.11px 22.22px,#3c6eb9 22.22px 23.33px,#3d6eb9 23.33px 24.44px,#3c6eb9 24.44px 25.55px,#4171ba 25.55px 26.66px,#4071ba 26.66px 27.77px,#3e6fb9 27.77px 29.99px,#3e6fba 29.99px 31.10px,#3c6db9 31.10px 32.22px,#3f70ba 32.22px 33.33px,#3b6cb9 33.33px 34.44px,#3f70ba 34.44px 35.55px,#3e6fb9 35.55px 36.66px,#4272ba 36.66px 37.77px,#3c6db9 37.77px 38.88px,#4373ba 38.88px 39.99px,#3f70ba 39.99px 42.21px,#3e6fb9 42.21px 43.32px,#3c6db9 43.32px 45.55px,#3d6eb9 45.55px 46.66px,#3e6fb9 46.66px 47.77px,#5d85bd 47.77px 48.88px,#5e85bd 48.88px 51.10px,#3e6fb9 51.10px 52.21px,#4171ba 52.21px 53.32px,#3f70ba 53.32px 54.43px,#3c6db9 54.43px 57.77px,#3b6cb9 57.77px 59.99px,#698cbe 59.99px 61.10px,#678bbe 61.10px 62.21px,#3c6db9 62.21px 63.32px,#3b6cb9 63.32px 64.43px,#3c6db9 64.43px 67.76px,#3f70ba 67.76px 68.87px,#3c6db9 68.87px 69.98px,#3b6cb9 69.98px 72.21px,#3d6eb9 72.21px 73.32px,#3b6cb9 73.32px 74.43px,#3c6eb9 74.43px 75.54px,#3e6fba 75.54px 76.65px,#5881bc 76.65px 77.76px,#537ebc 77.76px 78.87px,#3b6cb9 78.87px 81.09px,#3c6db9 81.09px 82.20px,#3e6fb9 82.20px 83.32px,#3c6db9 83.32px 84.43px,#3d6eb9 84.43px 87.76px,#3c6eb9 87.76px 88.87px,#3d6eb9 88.87px 89.98px,#3e6fb9 89.98px 91.09px,#4272ba 91.09px 92.20px,#3e6fb9 92.20px 93.31px,#3b6cb9 93.31px 94.42px,#3c6eb9 94.42px 95.53px,#3c6db9 95.53px 97.76px,#3b6cb9 97.76px 98.87px,#3e6fb9 98.87px 99.98px,#3d6eb9 99.98px 101.09px,#3c6db9 101.09px 104.42px,#3c6eb9 104.42px 105.53px,#4171ba 105.53px 106.64px,#3e6fba 106.64px 107.75px,#4272ba 107.75px 108.87px,#4373ba 108.87px 109.98px,#4473ba 109.98px 111.09px,#3f70ba 111.09px 112.20px,#3b6cb9 112.20px 113.31px,#3f70ba 113.31px 117.75px,#4373ba 117.75px 118.86px,#3f70ba 118.86px 121.08px,#4272ba 121.08px 122.20px,#3e6fb9 122.20px 124.42px,#3c6eb9 124.42px 125.53px,#4272ba 125.53px 126.64px,#3c6eb9 126.64px 127.75px,#3c6db9 127.75px 128.86px,#3d6eb9 128.86px 129.97px,#3e6fb9 129.97px 131.08px,#3d6eb9 131.08px 132.19px,#4171ba 132.19px 133.30px,#3d6eb9 133.30px 134.42px,#3c6db9 134.42px 135.53px,#3b6cb9 135.53px 137.75px,#3c6db9 137.75px 138.86px,#3d6eb9 138.86px 139.97px,#4272ba 139.97px 141.08px,#3d6eb9 141.08px 142.19px,#4675ba 142.19px 143.30px,#7b98c2 143.30px 145.52px,#7695c1 145.52px 146.63px,#3b6cb9 146.63px 147.75px,#3c6db9 147.75px 148.86px,#7192c0 148.86px 149.97px,#6f91bf 149.97px 151.08px,#6e90bf 151.08px 152.19px,#3f70ba 152.19px 153.30px,#3d6eb9 153.30px 155.52px,#3f70ba 155.52px 156.63px,#3d6eb9 156.63px 157.74px,#3f70ba 157.74px 158.85px,#3d6eb9 158.85px 159.97px,#3e6fb9 159.97px 161.08px,#3b6cb9 161.08px 162.19px,#3c6eb9 162.19px 164.41px,#3c6db9 164.41px 166.63px,#5882bc 166.63px 167.74px,#5a83bc 167.74px 168.85px,#537ebc 168.85px 169.96px,#3a6bb9 169.96px 171.07px,#3b6cb9 171.07px 172.18px,#7594c0 172.18px 173.30px,#3b6cb9 173.30px 174.41px,#3d6eb9 174.41px 175.52px,#3b6cb9 175.52px 177.74px,#3d6eb9 177.74px 183.29px,#3f70ba 183.29px 184.40px,#3c6db9 184.40px 185.52px,#3c6eb9 185.52px 186.63px,#3f70ba 186.63px 187.74px,#3c6db9 187.74px 188.85px,#3f70ba 188.85px 189.96px,#4574ba 189.96px 191.07px,#3c6db9 191.07px 193.29px,#3e6fb9 193.29px 194.40px,#4071ba 194.40px 195.51px,#4775ba 195.51px 196.62px,#3e6fb9 196.62px 197.73px,#3d6eb9 197.73px 198.85px,#4574ba 198.85px 199.96px,#4171ba 199.96px 201.07px,#3f70ba 201.07px 202.18px,#3d6eb9 202.18px 203.29px,#3b6cb9 203.29px 204.40px,#3c6db9 204.40px 205.51px,#3e6fb9 205.51px 206.62px,#3f70ba 206.62px 207.73px,#3d6eb9 207.73px 208.84px,#3f70ba 208.84px 209.95px,#3c6eb9 209.95px 211.07px,#3f70ba 211.07px 212.18px,#3c6db9 212.18px 213.29px,#3c6eb9 213.29px 214.40px,#3c6db9 214.40px 215.51px,#3f70ba 215.51px 216.62px,#3c6db9 216.62px 217.73px,#4272ba 217.73px 218.84px,#3e6fb9 218.84px 219.95px,#4272ba 219.95px 221.06px,#3f70ba 221.06px 223.28px,#3d6eb9 223.28px 224.40px,#4272ba 224.40px 225.51px,#3c6db9 225.51px 226.62px,#3c6eb9 226.62px 227.73px,#3c6db9 227.73px 231.06px,#3d6eb9 231.06px 232.17px,#3b6cb9 232.17px 233.28px,#5b83bd 233.28px 234.39px,#5a83bc 234.39px 235.50px,#537ebc 235.50px 236.62px,#3d6eb9 236.62px 237.73px,#3b6cb9 237.73px 238.84px,#3e6fb9 238.84px 241.06px,#4071ba 241.06px 242.17px,#3c6db9 242.17px 243.28px,#3f70ba 243.28px 244.39px,#3d6eb9 244.39px 245.50px,#3f70ba 245.50px 248.83px,#3d6eb9 248.83px 249.95px,#4171ba 249.95px 251.06px,#3c6db9 251.06px 252.17px,#3f70ba 252.17px 253.28px,#3c6db9 253.28px 255.50px)"></div>
<div class="hc" style="left:308.10px;width:12.75px;background:linear-gradient(#3c6db9 0.00px 1.11px,#3a6bb9 1.11px 4.44px,#3b6cb9 4.44px 5.55px,#3c6db9 5.55px 6.67px,#3b6cb9 6.67px 7.78px,#3c6db9 7.78px 8.89px,#3b6cb9 8.89px 10.00px,#3c6db9 10.00px 11.11px,#3c6eb9 11.11px 13.33px,#3a6bb9 13.33px 14.44px,#3b6cb9 14.44px 15.55px,#3c6db9 15.55px 16.66px,#3a6bb9 16.66px 17.77px,#3c6db9 17.77px 18.88px,#3b6cb9 18.88px 20.00px,#3d6eb9 20.00px 21.11px,#3b6cb9 21.11px 22.22px,#3a6bb9 22.22px 23.33px,#3c6db9 23.33px 26.66px,#3d6eb9 26.66px 27.77px,#3c6eb9 27.77px 28.88px,#3c6db9 28.88px 29.99px,#3e6fb9 29.99px 31.10px,#3b6cb9 31.10px 32.22px,#3c6db9 32.22px 33.33px,#3b6cb9 33.33px 36.66px,#3c6db9 36.66px 37.77px,#3b6cb9 37.77px 38.88px,#3c6db9 38.88px 39.99px,#3b6cb9 39.99px 43.32px,#3c6db9 43.32px 47.77px,#3b6cb9 47.77px 48.88px,#3d6eb9 48.88px 49.99px,#3c6db9 49.99px 53.32px,#3b6cb9 53.32px 54.43px,#3c6db9 54.43px 55.54px,#3b6cb9 55.54px 56.65px,#3c6db9 56.65px 57.77px,#3b6cb9 57.77px 59.99px,#3a6bb9 59.99px 62.21px,#3b6cb9 62.21px 63.32px,#3c6db9 63.32px 64.43px,#3a6bb9 64.43px 66.65px,#3b6cb9 66.65px 67.76px,#3a6bb9 67.76px 68.87px,#3b6cb9 68.87px 69.98px,#3c6db9 69.98px 71.10px,#3d6eb9 71.10px 72.21px,#3c6eb9 72.21px 73.32px,#3c6db9 73.32px 74.43px,#3b6cb9 74.43px 76.65px,#3a6bb9 76.65px 77.76px,#3d6eb9 77.76px 78.87px,#3c6db9 78.87px 79.98px,#3b6cb9 79.98px 82.20px,#3c6db9 82.20px 85.54px,#3b6cb9 85.54px 86.65px,#3d6eb9 86.65px 87.76px,#3b6cb9 87.76px 88.87px,#3d6eb9 88.87px 89.98px,#3b6cb9 89.98px 91.09px,#3d6eb9 91.09px 92.20px,#3b6cb9 92.20px 97.76px,#3a6bb9 97.76px 98.87px,#3b6cb9 98.87px 102.20px,#3c6db9 102.20px 103.31px,#3b6cb9 103.31px 104.42px,#3c6db9 104.42px 105.53px,#3b6cb9 105.53px 107.75px,#3c6db9 107.75px 111.09px,#3b6cb9 111.09px 112.20px,#3c6eb9 112.20px 113.31px,#3c6db9 113.31px 114.42px,#3b6cb9 114.42px 115.53px,#3a6bb9 115.53px 117.75px,#3c6db9 117.75px 118.86px,#5d85bd 118.86px 119.97px,#3d6eb9 119.97px 121.08px,#3c6db9 121.08px 122.20px,#3c6eb9 122.20px 123.31px,#3b6cb9 123.31px 125.53px,#3c6db9 125.53px 126.64px,#3b6cb9 126.64px 128.86px,#3c6db9 128.86px 132.19px,#3b6cb9 132.19px 135.53px,#5b83bd 135.53px 136.64px,#7192c0 136.64px 137.75px,#6f91bf 137.75px 138.86px,#7393c0 138.86px 139.97px,#3d6eb9 139.97px 141.08px,#3c6db9 141.08px 142.19px,#3b6cb9 142.19px 143.30px,#3c6db9 143.30px 144.41px,#3a6bb9 144.41px 145.52px,#3c6db9 145.52px 146.63px,#3b6cb9 146.63px 147.75px,#3c6eb9 147.75px 148.86px,#3c6db9 148.86px 149.97px,#3e6fba 149.97px 151.08px,#3e6fb9 151.08px 152.19px,#3b6cb9 152.19px 154.41px,#3c6db9 154.41px 155.52px,#3b6cb9 155.52px 156.63px,#3a6bb9 156.63px 157.74px,#3c6db9 157.74px 158.85px,#3b6cb9 158.85px 162.19px,#3a6bb9 162.19px 163.30px,#3c6db9 163.30px 164.41px,#3b6cb9 164.41px 166.63px,#3d6eb9 166.63px 167.74px,#3c6db9 167.74px 169.96px,#3a6bb9 169.96px 171.07px,#3c6eb9 171.07px 172.18px,#678bbe 172.18px 173.30px,#3c6db9 173.30px 174.41px,#3b6cb9 174.41px 175.52px,#3c6db9 175.52px 176.63px,#3a6bb9 176.63px 177.74px,#3b6cb9 177.74px 178.85px,#3c6db9 178.85px 179.96px,#3b6cb9 179.96px 182.18px,#3c6db9 182.18px 184.40px,#3b6cb9 184.40px 187.74px,#3c6db9 187.74px 188.85px,#3c6eb9 188.85px 191.07px,#3c6db9 191.07px 192.18px,#3b6cb9 192.18px 193.29px,#3c6db9 193.29px 194.40px,#3d6eb9 194.40px 195.51px,#3f70ba 195.51px 196.62px,#3b6cb9 196.62px 197.73px,#7393c0 197.73px 198.85px,#7695c1 198.85px 199.96px,#7896c1 199.96px 201.07px,#3c6eb9 201.07px 202.18px,#3d6eb9 202.18px 203.29px,#3b6cb9 203.29px 204.40px,#3c6db9 204.40px 205.51px,#3a6bb9 205.51px 206.62px,#3b6cb9 206.62px 208.84px,#3a6bb9 208.84px 209.95px,#3c6db9 209.95px 211.07px,#3f70ba 211.07px 212.18px,#3d6eb9 212.18px 213.29px,#3c6db9 213.29px 215.51px,#3c6eb9 215.51px 216.62px,#517cbb 216.62px 217.73px,#3c6db9 217.73px 218.84px,#3b6cb9 218.84px 219.95px,#3c6db9 219.95px 221.06px,#3b6cb9 221.06px 224.40px,#3c6db9 224.40px 226.62px,#3b6cb9 226.62px 228.84px,#7393c0 228.84px 229.95px,#7997c1 229.95px 232.17px,#3f70ba 232.17px 233.28px,#3c6eb9 233.28px 234.39px,#3c6db9 234.39px 235.50px,#3b6cb9 235.50px 237.73px,#3c6db9 237.73px 238.84px,#3b6cb9 238.84px 242.17px,#3a6bb9 242.17px 244.39px,#3b6cb9 244.39px 246.61px,#3a6bb9 246.61px 247.72px,#3b6cb9 247.72px 249.95px,#3a6bb9 249.95px 251.06px,#3b6cb9 251.06px 254.39px,#3c6db9 254.39px 255.50px)"></div>
<div class="hc" style="left:320.55px;width:12.75px;background:linear-gradient(#557fbc 0.00px 1.11px,#4272ba 1.11px 2.22px,#3e6fb9 2.22px 3.33px,#4c79bb 3.33px 4.44px,#5b83bc 4.44px 5.55px,#507cbb 5.55px 6.67px,#3c6eb9 6.67px 7.78px,#4977bb 7.78px 8.89px,#6389be 8.89px 11.11px,#4473ba 11.11px 12.22px,#4f7bbb 12.22px 13.33px,#4a78bb 13.33px 14.44px,#3c6db9 14.44px 15.55px,#5b83bc 15.55px 16.66px,#4574ba 16.66px 17.77px,#517cbb 17.77px 18.88px,#5a83bc 18.88px 20.00px,#4675ba 20.00px 21.11px,#4a78bb 21.11px 22.22px,#3e6fb9 22.22px 23.33px,#4071ba 23.33px 24.44px,#4171ba 24.44px 25.55px,#3c6eb9 25.55px 26.66px,#4373ba 26.66px 27.77px,#3e6fb9 27.77px 28.88px,#3c6eb9 28.88px 29.99px,#3d6eb9 29.99px 31.10px,#3b6cb9 31.10px 32.22px,#3c6db9 32.22px 33.33px,#3b6cb9 33.33px 34.44px,#3c6db9 34.44px 36.66px,#4272ba 36.66px 37.77px,#3e6fb9 37.77px 38.88px,#3c6db9 38.88px 39.99px,#3d6eb9 39.99px 42.21px,#3c6eb9 42.21px 43.32px,#3e6fba 43.32px 44.43px,#3d6eb9 44.43px 46.66px,#3e6fb9 46.66px 48.88px,#4071ba 48.88px 49.99px,#3e6fb9 49.99px 51.10px,#4171ba 51.10px 52.21px,#4373ba 52.21px 53.32px,#3f70ba 53.32px 55.54px,#3c6db9 55.54px 56.65px,#3b6cb9 56.65px 57.77px,#7b98c2 57.77px 58.88px,#7997c1 58.88px 59.99px,#7695c1 59.99px 61.10px,#3c6db9 61.10px 62.21px,#3a6bb9 62.21px 63.32px,#4272ba 63.32px 64.43px,#4171ba 64.43px 65.54px,#3d6eb9 65.54px 66.65px,#5b83bd 66.65px 67.76px,#5680bc 67.76px 68.87px,#3b6cb9 68.87px 69.98px,#3d6eb9 69.98px 71.10px,#7695c1 71.10px 72.21px,#7192c0 72.21px 73.32px,#7393c0 73.32px 74.43px,#3c6eb9 74.43px 75.54px,#3d6eb9 75.54px 76.65px,#7695c1 76.65px 77.76px,#7594c0 77.76px 78.87px,#7192c0 78.87px 79.98px,#4373ba 79.98px 81.09px,#3e6fb9 81.09px 82.20px,#3f70ba 82.20px 83.32px,#3c6db9 83.32px 85.54px,#3d6eb9 85.54px 88.87px,#3c6db9 88.87px 89.98px,#3d6eb9 89.98px 91.09px,#4071ba 91.09px 93.31px,#3d6eb9 93.31px 94.42px,#3f70ba 94.42px 95.53px,#3e6fb9 95.53px 96.65px,#3c6db9 96.65px 97.76px,#3e6fb9 97.76px 98.87px,#3c6db9 98.87px 99.98px,#3f70ba 99.98px 101.09px,#3c6db9 101.09px 102.20px,#3b6cb9 102.20px 104.42px,#3c6db9 104.42px 105.53px,#5b83bd 105.53px 106.64px,#3c6db9 106.64px 107.75px,#3f70ba 107.75px 108.87px,#3d6eb9 108.87px 111.09px,#3e6fb9 111.09px 112.20px,#3d6eb9 112.20px 113.31px,#3e6fb9 113.31px 114.42px,#3b6cb9 114.42px 115.53px,#3e6fb9 115.53px 116.64px,#3f70ba 116.64px 117.75px,#3e6fb9 117.75px 118.86px,#3d6eb9 118.86px 119.97px,#7896c1 119.97px 121.08px,#7594c0 121.08px 123.31px,#3e6fb9 123.31px 124.42px,#3b6cb9 124.42px 125.53px,#3c6db9 125.53px 127.75px,#3c6eb9 127.75px 128.86px,#3e6fb9 128.86px 129.97px,#3c6db9 129.97px 131.08px,#3a6bb9 131.08px 132.19px,#4272ba 132.19px 133.30px,#3b6cb9 133.30px 134.42px,#3d6eb9 134.42px 135.53px,#678bbe 135.53px 136.64px,#6087bd 136.64px 137.75px,#3c6db9 137.75px 138.86px,#4272ba 138.86px 139.97px,#3d6eb9 139.97px 141.08px,#4272ba 141.08px 142.19px,#3f70ba 142.19px 143.30px,#3d6eb9 143.30px 144.41px,#4373ba 144.41px 145.52px,#6389be 145.52px 146.63px,#5d85bd 146.63px 147.75px,#537ebc 147.75px 148.86px,#4171ba 148.86px 149.97px,#4071ba 149.97px 151.08px,#3c6db9 151.08px 152.19px,#3e6fb9 152.19px 153.30px,#3a6bb9 153.30px 155.52px,#3d6eb9 155.52px 156.63px,#4473ba 156.63px 157.74px,#4574ba 157.74px 158.85px,#4272ba 158.85px 159.97px,#3d6eb9 159.97px 161.08px,#3c6db9 161.08px 162.19px,#3d6eb9 162.19px 163.30px,#3c6db9 163.30px 164.41px,#3d6eb9 164.41px 165.52px,#3e6fb9 165.52px 166.63px,#3f70ba 166.63px 167.74px,#3d6eb9 167.74px 168.85px,#3c6db9 168.85px 173.30px,#3e6fb9 173.30px 174.41px,#3f70ba 174.41px 175.52px,#3a6bb9 175.52px 176.63px,#3c6db9 176.63px 177.74px,#3c6eb9 177.74px 178.85px,#3c6db9 178.85px 179.96px,#4071ba 179.96px 181.07px,#3a6bb9 181.07px 182.18px,#3c6db9 182.18px 184.40px,#3b6cb9 184.40px 186.63px,#3a6bb9 186.63px 187.74px,#3e6fb9 187.74px 188.85px,#4272ba 188.85px 189.96px,#3e6fba 189.96px 191.07px,#4373ba 191.07px 192.18px,#4574ba 192.18px 193.29px,#4675ba 193.29px 194.40px,#3f70ba 194.40px 195.51px,#4373ba 195.51px 196.62px,#3c6db9 196.62px 197.73px,#4171ba 197.73px 198.85px,#3c6eb9 198.85px 199.96px,#4171ba 199.96px 202.18px,#3d6eb9 202.18px 203.29px,#3c6db9 203.29px 204.40px,#537ebc 204.40px 205.51px,#3f70ba 205.51px 206.62px,#4272ba 206.62px 208.84px,#3d6eb9 208.84px 209.95px,#4071ba 209.95px 211.07px,#3e6fb9 211.07px 212.18px,#3c6db9 212.18px 213.29px,#3e6fb9 213.29px 214.40px,#3b6cb9 214.40px 216.62px,#6f91bf 216.62px 217.73px,#7192c0 217.73px 218.84px,#7695c1 218.84px 219.95px,#4272ba 219.95px 221.06px,#4574ba 221.06px 222.17px,#4171ba 222.17px 223.28px,#4373ba 223.28px 224.40px,#3c6db9 224.40px 226.62px,#3d6eb9 226.62px 227.73px,#3a6bb9 227.73px 228.84px,#3f70ba 228.84px 229.95px,#3e6fb9 229.95px 231.06px,#3c6db9 231.06px 232.17px,#4272ba 232.17px 233.28px,#3f70ba 233.28px 234.39px,#3c6db9 234.39px 238.84px,#3d6eb9 238.84px 239.95px,#3a6bb9 239.95px 241.06px,#3d6eb9 241.06px 242.17px,#3b6cb9 242.17px 243.28px,#3e6fb9 243.28px 244.39px,#4272ba 244.39px 245.50px,#3f70ba 245.50px 246.61px,#3c6db9 246.61px 247.72px,#3d6eb9 247.72px 248.83px,#3b6cb9 248.83px 249.95px,#3d6eb9 249.95px 251.06px,#3e6fba 251.06px 252.17px,#3b6cb9 252.17px 254.39px,#7192c0 254.39px 255.50px)"></div>
<div class="hc" style="left:333.00px;width:12.75px;background:linear-gradient(#6f91bf 0.00px 1.11px,#6087bd 1.11px 2.22px,#4473ba 2.22px 3.33px,#5881bc 3.33px 4.44px,#6e90bf 4.44px 5.55px,#7997c1 5.55px 6.67px,#5881bc 6.67px 7.78px,#7896c1 7.78px 8.89px,#6f91bf 8.89px 10.00px,#8aa2c5 10.00px 11.11px,#a0b1cc 11.11px 12.22px,#7d99c2 12.22px 13.33px,#7393c0 13.33px 14.44px,#5881bc 14.44px 15.55px,#6a8dbf 15.55px 16.66px,#6489be 16.66px 17.77px,#5b83bd 17.77px 18.88px,#6e90bf 18.88px 20.00px,#4977bb 20.00px 21.11px,#5d85bd 21.11px 22.22px,#4876ba 22.22px 23.33px,#4f7bbb 23.33px 24.44px,#4d7abb 24.44px 25.55px,#507cbb 25.55px 26.66px,#4e7bbb 26.66px 27.77px,#4373ba 27.77px 28.88px,#3e6fba 28.88px 29.99px,#4272ba 29.99px 31.10px,#4f7bbb 31.10px 32.22px,#4775ba 32.22px 33.33px,#4977bb 33.33px 34.44px,#4574ba 34.44px 35.55px,#5e85bd 35.55px 36.66px,#537ebc 36.66px 37.77px,#5b83bc 37.77px 38.88px,#5e85bd 38.88px 39.99px,#3f70ba 39.99px 41.10px,#4f7bbb 41.10px 42.21px,#4272ba 42.21px 43.32px,#5a83bc 43.32px 44.43px,#4e7abb 44.43px 45.55px,#4574ba 45.55px 46.66px,#4c79bb 46.66px 47.77px,#4775ba 47.77px 48.88px,#6a8dbf 48.88px 49.99px,#4775ba 49.99px 51.10px,#678bbe 51.10px 52.21px,#5e85bd 52.21px 53.32px,#6e90bf 53.32px 54.43px,#6187bd 54.43px 55.54px,#5d85bd 55.54px 56.65px,#5680bc 56.65px 57.77px,#5a83bc 57.77px 58.88px,#90a6c7 58.88px 59.99px,#4a78bb 59.99px 62.21px,#4977bb 62.21px 63.32px,#4574ba 63.32px 64.43px,#5882bc 64.43px 65.54px,#7393c0 65.54px 66.65px,#8aa2c5 66.65px 67.76px,#7896c1 67.76px 68.87px,#5881bc 68.87px 69.98px,#4574ba 69.98px 71.10px,#537ebc 71.10px 72.21px,#658abe 72.21px 73.32px,#4b78bb 73.32px 74.43px,#4272ba 74.43px 75.54px,#4574ba 75.54px 76.65px,#4a78bb 76.65px 77.76px,#4f7bbb 77.76px 78.87px,#4775ba 78.87px 81.09px,#5882bc 81.09px 82.20px,#4877ba 82.20px 83.32px,#4171ba 83.32px 84.43px,#4876ba 84.43px 85.54px,#7192c0 85.54px 86.65px,#4c79bb 86.65px 87.76px,#4f7bbb 87.76px 88.87px,#5a83bc 88.87px 89.98px,#4574ba 89.98px 91.09px,#7997c1 91.09px 92.20px,#4e7abb 92.20px 93.31px,#6087bd 93.31px 94.42px,#4f7bbb 94.42px 95.53px,#6187bd 95.53px 96.65px,#4171ba 96.65px 97.76px,#4876ba 97.76px 98.87px,#4977bb 98.87px 99.98px,#537ebc 99.98px 101.09px,#3e6fb9 101.09px 102.20px,#5881bc 102.20px 103.31px,#3c6eb9 103.31px 104.42px,#507cbb 104.42px 105.53px,#4171ba 105.53px 106.64px,#517cbb 106.64px 107.75px,#4f7bbb 107.75px 108.87px,#4e7abb 108.87px 109.98px,#678bbe 109.98px 111.09px,#4c79bb 111.09px 112.20px,#4f7bbb 112.20px 113.31px,#6087bd 113.31px 114.42px,#678bbe 114.42px 115.53px,#4a78bb 115.53px 116.64px,#4775ba 116.64px 117.75px,#4574ba 117.75px 118.86px,#4876ba 118.86px 119.97px,#6087bd 119.97px 121.08px,#658abe 121.08px 122.20px,#4a78bb 122.20px 123.31px,#5d85bd 123.31px 124.42px,#3f70ba 124.42px 125.53px,#5e85bd 125.53px 126.64px,#6087bd 126.64px 127.75px,#6388be 127.75px 128.86px,#678bbe 128.86px 129.97px,#4f7bbb 129.97px 132.19px,#4876ba 132.19px 133.30px,#4b78bb 133.30px 134.42px,#4071ba 134.42px 135.53px,#4e7bbb 135.53px 137.75px,#6389be 137.75px 138.86px,#5d85bd 138.86px 139.97px,#7192c0 139.97px 141.08px,#5680bc 141.08px 142.19px,#4a78bb 142.19px 143.30px,#6389be 143.30px 144.41px,#5882bc 144.41px 145.52px,#5881bc 145.52px 146.63px,#6187bd 146.63px 147.75px,#678bbe 147.75px 148.86px,#5882bc 148.86px 149.97px,#4876ba 149.97px 151.08px,#5881bc 151.08px 152.19px,#5982bc 152.19px 153.30px,#3a6ab8 153.30px 154.41px,#507cbb 154.41px 155.52px,#4f7bbb 155.52px 156.63px,#5881bc 156.63px 157.74px,#7192c0 157.74px 158.85px,#698cbe 158.85px 159.97px,#6a8dbf 159.97px 161.08px,#5b83bd 161.08px 162.19px,#3b6cb9 162.19px 163.30px,#3c6eb9 163.30px 164.41px,#4a78bb 164.41px 165.52px,#5b83bd 165.52px 166.63px,#537ebc 166.63px 167.74px,#517cbb 167.74px 168.85px,#698cbe 168.85px 169.96px,#5b83bd 169.96px 171.07px,#5a83bc 171.07px 172.18px,#4574ba 172.18px 173.30px,#5b83bd 173.30px 174.41px,#4373ba 174.41px 175.52px,#6187bd 175.52px 176.63px,#4171ba 176.63px 177.74px,#3f70ba 177.74px 178.85px,#537ebc 178.85px 179.96px,#839dc4 179.96px 181.07px,#6087bd 181.07px 182.18px,#5d85bd 182.18px 183.29px,#698cbe 183.29px 184.40px,#517cbb 184.40px 185.52px,#557fbc 185.52px 186.63px,#3f70ba 186.63px 187.74px,#658abe 187.74px 188.85px,#6187bd 188.85px 189.96px,#7192c0 189.96px 191.07px,#537ebc 191.07px 193.29px,#537dbc 193.29px 194.40px,#5d85bd 194.40px 195.51px,#6087bd 195.51px 196.62px,#658abe 196.62px 197.73px,#678bbe 197.73px 198.85px,#4d7abb 198.85px 199.96px,#5881bc 199.96px 201.07px,#557fbc 201.07px 202.18px,#5b83bd 202.18px 203.29px,#4c79bb 203.29px 204.40px,#3b6cb9 204.40px 205.51px,#557fbc 205.51px 206.62px,#5881bc 206.62px 207.73px,#6087bd 207.73px 208.84px,#4e7abb 208.84px 209.95px,#678bbe 209.95px 211.07px,#5881bc 211.07px 212.18px,#4977bb 212.18px 213.29px,#3c6db9 213.29px 214.40px,#517cbb 214.40px 215.51px,#4a78bb 215.51px 216.62px,#4675ba 216.62px 217.73px,#537ebc 217.73px 218.84px,#658abe 218.84px 219.95px,#7695c1 219.95px 221.06px,#7594c0 221.06px 222.17px,#88a1c5 222.17px 223.28px,#5b83bd 223.28px 224.40px,#4574ba 224.40px 225.51px,#537ebc 225.51px 226.62px,#4675ba 226.62px 227.73px,#517dbb 227.73px 228.84px,#517cbb 228.84px 229.95px,#7192c0 229.95px 231.06px,#6e90bf 231.06px 232.17px,#839dc4 232.17px 233.28px,#5881bc 233.28px 234.39px,#4373ba 234.39px 235.50px,#3e6fb9 235.50px 236.62px,#507cbb 236.62px 237.73px,#7896c1 237.73px 238.84px,#7393c0 238.84px 239.95px,#6e90bf 239.95px 241.06px,#6187bd 241.06px 242.17px,#3f70ba 242.17px 243.28px,#4272ba 243.28px 244.39px,#3f70ba 244.39px 245.50px,#5882bc 245.50px 246.61px,#517dbb 246.61px 247.72px,#8aa2c5 247.72px 248.83px,#4977bb 248.83px 249.95px,#537ebc 249.95px 251.06px,#4272ba 251.06px 252.17px,#3c6db9 252.17px 253.28px,#4675ba 253.28px 254.39px,#5b83bc 254.39px 255.50px)"></div>
<div class="hc" style="left:345.45px;width:12.75px;background:linear-gradient(#3d6eb9 0.00px 1.11px,#3b6cb9 1.11px 2.22px,#4272ba 2.22px 3.33px,#3b6cb9 3.33px 5.55px,#3c6db9 5.55px 6.67px,#3a6bb9 6.67px 7.78px,#3e6fb9 7.78px 8.89px,#3d6eb9 8.89px 11.11px,#3c6db9 11.11px 12.22px,#3d6eb9 12.22px 13.33px,#3b6cb9 13.33px 14.44px,#3c6db9 14.44px 15.55px,#6087bd 15.55px 16.66px,#5882bc 16.66px 17.77px,#5b84bd 17.77px 18.88px,#3e6fba 18.88px 21.11px,#3f70ba 21.11px 22.22px,#3d6eb9 22.22px 25.55px,#3b6cb9 25.55px 26.66px,#4171ba 26.66px 27.77px,#3b6cb9 27.77px 28.88px,#3e6fb9 28.88px 29.99px,#4071ba 29.99px 31.10px,#3c6eb9 31.10px 32.22px,#3c6db9 32.22px 35.55px,#3c6eb9 35.55px 36.66px,#3a6bb9 36.66px 37.77px,#3e6fb9 37.77px 38.88px,#4071ba 38.88px 39.99px,#3f70ba 39.99px 41.10px,#3d6eb9 41.10px 42.21px,#3b6cb9 42.21px 43.32px,#3d6eb9 43.32px 44.43px,#3c6db9 44.43px 45.55px,#3e6fb9 45.55px 48.88px,#3c6db9 48.88px 49.99px,#3d6eb9 49.99px 52.21px,#3e6fba 52.21px 53.32px,#4877bb 53.32px 54.43px,#4574ba 54.43px 55.54px,#3f70ba 55.54px 56.65px,#3c6db9 56.65px 58.88px,#3b6cb9 58.88px 61.10px,#3c6db9 61.10px 62.21px,#3c6eb9 62.21px 63.32px,#3d6eb9 63.32px 64.43px,#3c6db9 64.43px 65.54px,#4272ba 65.54px 66.65px,#3c6db9 66.65px 67.76px,#3f70ba 67.76px 68.87px,#3d6eb9 68.87px 71.10px,#3c6db9 71.10px 72.21px,#3e6fb9 72.21px 73.32px,#3a6ab9 73.32px 74.43px,#3d6eb9 74.43px 75.54px,#4272ba 75.54px 76.65px,#3c6db9 76.65px 78.87px,#3b6cb9 78.87px 79.98px,#3e6fb9 79.98px 81.09px,#3b6cb9 81.09px 82.20px,#3c6db9 82.20px 83.32px,#5a83bc 83.32px 84.43px,#5d85bd 84.43px 85.54px,#6087bd 85.54px 86.65px,#3e6fb9 86.65px 87.76px,#3c6db9 87.76px 88.87px,#3d6eb9 88.87px 89.98px,#4373ba 89.98px 91.09px,#3f70ba 91.09px 92.20px,#4373ba 92.20px 93.31px,#4675ba 93.31px 94.42px,#3e6fb9 94.42px 95.53px,#3c6db9 95.53px 96.65px,#3e6fb9 96.65px 97.76px,#3e6fba 97.76px 98.87px,#3b6cb9 98.87px 99.98px,#3c6db9 99.98px 102.20px,#3e6fb9 102.20px 103.31px,#3d6eb9 103.31px 104.42px,#3c6db9 104.42px 106.64px,#3d6eb9 106.64px 107.75px,#3c6eb9 107.75px 108.87px,#3f70ba 108.87px 109.98px,#3d6eb9 109.98px 111.09px,#3c6db9 111.09px 112.20px,#3f70ba 112.20px 113.31px,#3d6eb9 113.31px 114.42px,#3f70ba 114.42px 116.64px,#3d6eb9 116.64px 117.75px,#3c6db9 117.75px 119.97px,#3e6fb9 119.97px 121.08px,#3f70ba 121.08px 122.20px,#3d6eb9 122.20px 123.31px,#658abe 123.31px 124.42px,#6389be 124.42px 125.53px,#658abe 125.53px 126.64px,#3e6fb9 126.64px 127.75px,#3d6eb9 127.75px 128.86px,#4071ba 128.86px 129.97px,#3d6eb9 129.97px 133.30px,#3c6db9 133.30px 134.42px,#3d6eb9 134.42px 135.53px,#3c6db9 135.53px 136.64px,#3f70ba 136.64px 137.75px,#3e6fb9 137.75px 138.86px,#4272ba 138.86px 139.97px,#3d6eb9 139.97px 141.08px,#4272ba 141.08px 142.19px,#3c6eb9 142.19px 143.30px,#3d6eb9 143.30px 144.41px,#3c6db9 144.41px 147.75px,#3f70ba 147.75px 148.86px,#3d6eb9 148.86px 151.08px,#3f70ba 151.08px 152.19px,#3e6fba 152.19px 153.30px,#3c6db9 153.30px 154.41px,#3e6fb9 154.41px 155.52px,#3d6eb9 155.52px 156.63px,#3c6db9 156.63px 157.74px,#3d6eb9 157.74px 158.85px,#3e6fb9 158.85px 159.97px,#3f70ba 159.97px 161.08px,#3e6fba 161.08px 162.19px,#3e6fb9 162.19px 163.30px,#4171ba 163.30px 164.41px,#3d6eb9 164.41px 167.74px,#3c6db9 167.74px 168.85px,#3d6eb9 168.85px 169.96px,#3f70ba 169.96px 171.07px,#3a6bb9 171.07px 172.18px,#3b6cb9 172.18px 174.41px,#3d6eb9 174.41px 175.52px,#3e6fb9 175.52px 176.63px,#678bbe 176.63px 177.74px,#3d6eb9 177.74px 178.85px,#4373ba 178.85px 179.96px,#3f70ba 179.96px 181.07px,#3c6eb9 181.07px 182.18px,#3e6fb9 182.18px 184.40px,#4373ba 184.40px 185.52px,#3d6eb9 185.52px 186.63px,#3e6fb9 186.63px 187.74px,#3d6eb9 187.74px 188.85px,#4171ba 188.85px 189.96px,#3e6fb9 189.96px 191.07px,#3c6db9 191.07px 192.18px,#3f70ba 192.18px 194.40px,#4171ba 194.40px 196.62px,#3f70ba 196.62px 197.73px,#3e6fb9 197.73px 198.85px,#4272ba 198.85px 199.96px,#4373ba 199.96px 201.07px,#4071ba 201.07px 202.18px,#3f70ba 202.18px 203.29px,#3c6eb9 203.29px 204.40px,#4272ba 204.40px 205.51px,#4877ba 205.51px 206.62px,#4876ba 206.62px 207.73px,#3e6fb9 207.73px 208.84px,#3b6cb9 208.84px 209.95px,#3e6fb9 209.95px 211.07px,#3d6eb9 211.07px 213.29px,#3b6cb9 213.29px 214.40px,#3c6db9 214.40px 215.51px,#3f70ba 215.51px 216.62px,#3e6fb9 216.62px 218.84px,#3c6db9 218.84px 221.06px,#3d6eb9 221.06px 223.28px,#3e6fb9 223.28px 224.40px,#3b6cb9 224.40px 225.51px,#3d6eb9 225.51px 226.62px,#3b6cb9 226.62px 227.73px,#3e6fb9 227.73px 228.84px,#3d6eb9 228.84px 229.95px,#3b6cb9 229.95px 231.06px,#3c6db9 231.06px 232.17px,#3e6fb9 232.17px 233.28px,#3c6eb9 233.28px 234.39px,#3c6db9 234.39px 235.50px,#3b6cb9 235.50px 236.62px,#3f70ba 236.62px 237.73px,#3c6db9 237.73px 238.84px,#3e6fb9 238.84px 239.95px,#3b6cb9 239.95px 241.06px,#3c6eb9 241.06px 242.17px,#3b6cb9 242.17px 243.28px,#3e6fba 243.28px 244.39px,#3d6eb9 244.39px 246.61px,#3c6eb9 246.61px 248.83px,#3f70ba 248.83px 249.95px,#3c6db9 249.95px 251.06px,#3f70ba 251.06px 252.17px,#3e6fb9 252.17px 253.28px,#3c6db9 253.28px 255.50px)"></div>
<div class="hc" style="left:73.5px;width:10.6px;background:linear-gradient(#ffd000 0.00px 1.11px,#f4bad2 1.11px 2.22px,#6d8fd6 2.22px 3.33px,#b8b468 3.33px 4.44px,#000000 4.44px 5.55px,#ffd000 5.55px 7.78px,#9b7fd2 7.78px 10.00px,#b84fc7 10.00px 18.88px,#f4bad2 18.88px 20.00px,#b84fc7 20.00px 21.11px,#000000 21.11px 22.22px,#6d8fd6 22.22px 23.33px,#000000 23.33px 24.44px,#6a5475 24.44px 25.55px,#b84fc7 25.55px 27.77px,#9b7fd2 27.77px 28.88px,#000000 28.88px 29.99px,#ffd000 29.99px 31.10px,#000000 31.10px 34.44px,#d8c4e4 34.44px 35.55px,#000000 35.55px 36.66px,#ffd000 36.66px 37.77px,#000000 37.77px 39.99px,#ffd000 39.99px 41.10px,#6d8fd6 41.10px 42.21px,#b8b468 42.21px 43.32px,#ffd000 43.32px 44.43px,#000000 44.43px 47.77px,#d47ad8 47.77px 48.88px,#ffd000 48.88px 49.99px,#000000 49.99px 52.21px,#ffd000 52.21px 54.43px,#6a5475 54.43px 55.54px,#000000 55.54px 57.77px,#6a5475 57.77px 58.88px,#000000 58.88px 62.21px,#ffd000 62.21px 63.32px,#000000 63.32px 64.43px,#d47ad8 64.43px 65.54px,#000000 65.54px 69.98px,#ffd000 69.98px 71.10px,#f4bad2 71.10px 72.21px,#000000 72.21px 73.32px,#6a5475 73.32px 74.43px,#6d8fd6 74.43px 75.54px,#000000 75.54px 78.87px,#ffd000 78.87px 81.09px,#000000 81.09px 84.43px,#d8c4e4 84.43px 85.54px,#ffd000 85.54px 86.65px,#f4bad2 86.65px 87.76px,#000000 87.76px 91.09px,#f4bad2 91.09px 92.20px,#ffd000 92.20px 93.31px,#6d8fd6 93.31px 95.53px,#000000 95.53px 97.76px,#6d8fd6 97.76px 99.98px,#f4bad2 99.98px 101.09px,#000000 101.09px 102.20px,#b8b468 102.20px 103.31px,#000000 103.31px 106.64px,#ffd000 106.64px 109.98px,#000000 109.98px 111.09px,#ffd000 111.09px 112.20px,#000000 112.20px 115.53px,#6a5475 115.53px 116.64px,#000000 116.64px 117.75px,#d8c4e4 117.75px 119.97px,#f4bad2 119.97px 121.08px,#6d8fd6 121.08px 122.20px,#000000 122.20px 125.53px,#f4bad2 125.53px 128.86px,#6d8fd6 128.86px 129.97px,#000000 129.97px 131.08px,#ffd000 131.08px 133.30px,#000000 133.30px 139.97px,#ffd000 139.97px 141.08px,#000000 141.08px 144.41px,#ffd000 144.41px 145.52px,#000000 145.52px 147.75px,#6d8fd6 147.75px 148.86px,#6a5475 148.86px 151.08px,#000000 151.08px 155.52px,#d47ad8 155.52px 156.63px,#f4bad2 156.63px 157.74px,#6d8fd6 157.74px 158.85px,#ffd000 158.85px 162.19px,#f4bad2 162.19px 164.41px,#ffd000 164.41px 166.63px,#000000 166.63px 169.96px,#ffd000 169.96px 173.30px,#000000 173.30px 175.52px,#ffd000 175.52px 178.85px,#000000 178.85px 181.07px,#b8b468 181.07px 183.29px,#000000 183.29px 186.63px,#ffd000 186.63px 187.74px,#000000 187.74px 189.96px,#f4bad2 189.96px 191.07px,#000000 191.07px 193.29px,#b8b468 193.29px 194.40px,#000000 194.40px 195.51px,#ffd000 195.51px 196.62px,#000000 196.62px 199.96px,#ffd000 199.96px 201.07px,#000000 201.07px 202.18px,#d47ad8 202.18px 204.40px,#000000 204.40px 206.62px,#6a5475 206.62px 207.73px,#f4bad2 207.73px 208.84px,#000000 208.84px 211.07px,#6d8fd6 211.07px 213.29px,#ffd000 213.29px 214.40px,#6a5475 214.40px 216.62px,#d8c4e4 216.62px 217.73px,#ffd000 217.73px 218.84px,#000000 218.84px 219.95px,#f4bad2 219.95px 222.17px,#ffd000 222.17px 224.40px,#000000 224.40px 227.73px,#ffd000 227.73px 228.84px,#000000 228.84px 232.17px,#ffd000 232.17px 233.28px,#6a5475 233.28px 237.73px,#ffd000 237.73px 238.84px,#000000 238.84px 243.28px,#ffd000 243.28px 247.72px,#000000 247.72px 248.83px,#ffd000 248.83px 251.06px,#000000 251.06px 254.39px,#ffd000 254.39px 255.50px)"></div>

<svg width="685" height="891" viewBox="0 0 685 891">
<text x="3.00" y="23.60" font-size="33.30" fill="#111" font-weight="bold">A</text>
<line x1="22.80" y1="103.70" x2="24.80" y2="103.70" stroke="#000" stroke-width="0.6"/>
<text x="26.60" y="106.00" font-size="5.30" textLength="7.95" lengthAdjust="spacingAndGlyphs">0.0</text>
<line x1="22.80" y1="86.20" x2="24.80" y2="86.20" stroke="#000" stroke-width="0.6"/>
<text x="26.60" y="88.50" font-size="5.30" textLength="7.95" lengthAdjust="spacingAndGlyphs">0.1</text>
<line x1="22.80" y1="68.70" x2="24.80" y2="68.70" stroke="#000" stroke-width="0.6"/>
<text x="26.60" y="71.00" font-size="5.30" textLength="7.95" lengthAdjust="spacingAndGlyphs">0.2</text>
<line x1="22.80" y1="51.20" x2="24.80" y2="51.20" stroke="#000" stroke-width="0.6"/>
<text x="26.60" y="53.50" font-size="5.30" textLength="7.95" lengthAdjust="spacingAndGlyphs">0.3</text>
<line x1="22.80" y1="33.70" x2="24.80" y2="33.70" stroke="#000" stroke-width="0.6"/>
<text x="26.60" y="36.00" font-size="5.30" textLength="7.95" lengthAdjust="spacingAndGlyphs">0.4</text>
<path d="M164.93 86.00V84.00H177.38V86.00M152.47 86.00V82.90H171.15V84.00M140.03 86.00V82.40H161.81V82.90M127.57 86.00V82.00H150.92V82.40M115.12 86.00V81.30H139.25V82.00M102.67 86.00V79.20H127.19V81.30M90.22 86.00V78.70H114.93V79.20M239.62 86.00V78.30H252.07V86.00M227.17 86.00V76.40H245.85V78.30M214.72 86.00V75.10H236.51V76.40M202.27 86.00V73.50H225.62V75.10M189.82 86.00V72.30H213.95V73.50M102.58 78.70V64.30H201.89V72.30M276.98 86.00V68.30H289.42V86.00M264.52 86.00V66.20H283.20V68.30M314.32 86.00V68.80H326.77V86.00M301.88 86.00V67.30H320.55V68.80M339.23 86.00V67.30H351.68V86.00M311.21 67.30V64.50H345.45V67.30M273.86 66.20V61.40H328.33V64.50M152.23 64.30V25.30H301.10V61.40" fill="none" stroke="#666" stroke-width="0.65"/>
<path d="M73.30 87.67H64.87V88.78H73.30M73.30 86.56H50.00V88.22H64.87M73.30 91.00H67.25V92.11H73.30M73.30 89.89H65.75V91.55H67.25M73.30 93.22H68.88V94.33H73.30M73.30 95.44H64.02V96.55H73.30M68.88 93.78H60.95V96.00H64.02M65.75 90.72H57.40V94.89H60.95M73.30 97.66H69.05V98.78H73.30M73.30 99.89H70.10V101.00H73.30M69.05 98.22H67.55V100.44H70.10M73.30 103.22H67.45V104.33H73.30M73.30 102.11H59.84V103.77H67.45M73.30 106.55H70.59V107.66H73.30M73.30 105.44H69.44V107.11H70.59M59.84 102.94H56.28V106.27H69.44M67.55 99.33H51.00V104.61H56.28M73.30 109.88H68.27V110.99H73.30M73.30 108.77H63.39V110.44H68.27M73.30 112.11H65.69V113.22H73.30M63.39 109.61H55.54V112.66H65.69M51.00 101.97H48.50V111.13H55.54M57.40 92.80H47.00V106.55H48.50M50.00 87.39H43.00V99.68H47.00M73.30 114.33H65.97V115.44H73.30M73.30 116.55H63.89V117.66H73.30M65.97 114.88H61.50V117.10H63.89M73.30 119.88H68.85V120.99H73.30M73.30 118.77H61.42V120.44H68.85M61.50 115.99H53.11V119.60H61.42M73.30 123.21H69.32V124.32H73.30M73.30 122.10H67.82V123.77H69.32M73.30 125.44H63.64V126.55H73.30M67.82 122.94H56.52V125.99H63.64M73.30 127.66H69.53V128.77H73.30M73.30 129.88H70.18V130.99H73.30M73.30 132.10H69.77V133.21H73.30M70.18 130.43H61.79V132.66H69.77M69.53 128.21H57.58V131.55H61.79M56.52 124.46H55.02V129.88H57.58M53.11 117.80H37.30V127.17H55.02M73.30 134.32H63.64V135.43H73.30M73.30 136.54H68.05V137.66H73.30M63.64 134.88H59.38V137.10H68.05M73.30 138.77H70.49V139.88H73.30M59.38 135.99H53.47V139.32H70.49M73.30 140.99H69.05V142.10H73.30M69.05 141.54H63.54V143.21H73.30M73.30 144.32H67.95V145.43H73.30M63.54 142.38H56.64V144.88H67.95M73.30 146.54H69.08V147.65H73.30M69.08 147.10H67.58V148.76H73.30M73.30 149.88H67.63V150.99H73.30M67.63 150.43H66.13V152.10H73.30M67.58 147.93H56.33V151.26H66.13M56.64 143.63H51.49V149.60H56.33M53.47 137.66H46.69V146.61H51.49M73.30 153.21H68.07V154.32H73.30M73.30 155.43H69.37V156.54H73.30M68.07 153.76H57.19V155.98H69.37M73.30 157.65H70.11V158.76H73.30M73.30 159.87H70.60V160.98H73.30M70.11 158.21H59.39V160.43H70.60M57.19 154.87H55.69V159.32H59.39M73.30 163.21H69.23V164.32H73.30M73.30 162.09H67.73V163.76H69.23M73.30 165.43H63.85V166.54H73.30M73.30 167.65H66.31V168.76H73.30M66.31 168.20H60.84V169.87H73.30M63.85 165.98H57.85V169.04H60.84M67.73 162.93H55.19V167.51H57.85M55.69 157.10H51.49V165.22H55.19M73.30 170.98H69.63V172.09H73.30M73.30 173.20H69.63V174.31H73.30M69.63 171.54H68.13V173.76H69.63M73.30 175.43H66.28V176.54H73.30M66.28 175.98H61.17V177.65H73.30M73.30 178.76H66.32V179.87H73.30M61.17 176.81H58.29V179.31H66.32M73.30 180.98H68.55V182.09H73.30M58.29 178.06H55.68V181.53H68.55M68.13 172.65H54.18V179.80H55.68M51.49 161.16H49.71V176.22H54.18M46.69 142.13H43.36V168.69H49.71M73.30 183.20H68.14V184.31H73.30M68.14 183.76H63.63V185.42H73.30M73.30 186.53H68.25V187.64H73.30M73.30 188.76H69.07V189.87H73.30M68.25 187.09H60.60V189.31H69.07M63.63 184.59H55.38V188.20H60.60M73.30 190.98H70.03V192.09H73.30M73.30 193.20H70.56V194.31H73.30M70.56 193.75H61.14V195.42H73.30M70.03 191.53H56.48V194.59H61.14M73.30 196.53H68.09V197.64H73.30M73.30 198.75H70.62V199.86H73.30M70.62 199.31H69.47V200.97H73.30M68.09 197.09H57.50V200.14H69.47M73.30 202.09H68.65V203.20H73.30M73.30 204.31H68.65V205.42H73.30M68.65 202.64H67.15V204.86H68.65M57.50 198.61H52.60V203.75H67.15M56.48 193.06H51.10V201.18H52.60M55.38 186.39H48.05V197.12H51.10M43.36 155.41H36.50V191.76H48.05M37.30 122.49H31.40V173.59H36.50M73.30 206.53H69.03V207.64H73.30M69.03 207.08H59.65V208.75H73.30M73.30 209.86H69.56V210.97H73.30M73.30 213.19H66.51V214.31H73.30M73.30 212.08H65.01V213.75H66.51M69.56 210.42H58.84V212.92H65.01M73.30 216.53H68.31V217.64H73.30M73.30 215.42H66.81V217.08H68.31M58.84 211.67H57.13V216.25H66.81M59.65 207.92H52.05V213.96H57.13M73.30 218.75H70.16V219.86H73.30M73.30 220.97H68.11V222.08H73.30M73.30 223.19H70.20V224.30H73.30M68.11 221.53H66.61V223.75H70.20M70.16 219.30H56.66V222.64H66.61M73.30 225.41H68.82V226.52H73.30M68.82 225.97H66.08V227.64H73.30M73.30 228.75H70.69V229.86H73.30M70.69 229.30H61.77V230.97H73.30M66.08 226.80H56.62V230.14H61.77M56.66 220.97H52.05V228.47H56.62M52.05 210.94H50.55V224.72H52.05M73.30 233.19H69.07V234.30H73.30M73.30 232.08H67.57V233.75H69.07M73.30 235.41H64.90V236.52H73.30M73.30 237.63H64.61V238.74H73.30M64.90 235.97H59.35V238.19H64.61M67.57 232.91H52.05V237.08H59.35M73.30 240.97H68.78V242.08H73.30M73.30 239.86H67.28V241.52H68.78M73.30 243.19H66.01V244.30H73.30M67.28 240.69H54.47V243.74H66.01M52.05 235.00H50.55V242.22H54.47M50.55 217.83H49.05V238.61H50.55M73.30 246.52H69.73V247.63H73.30M73.30 245.41H67.08V247.08H69.73M73.30 248.74H67.27V249.85H73.30M67.08 246.24H59.79V249.30H67.27M73.30 250.96H68.61V252.07H73.30M68.61 251.52H61.33V253.19H73.30M73.30 254.30H67.30V255.41H73.30M61.33 252.35H56.95V254.85H67.30M73.30 256.52H69.22V257.63H73.30M69.22 257.07H67.72V258.74H73.30M56.95 253.60H54.76V257.91H67.72M73.30 259.85H69.82V260.96H73.30M73.30 262.07H68.28V263.18H73.30M69.82 260.41H60.54V262.63H68.28M54.76 255.75H52.99V261.52H60.54M59.79 247.77H51.49V258.64H52.99M73.30 264.29H69.38V265.41H73.30M73.30 266.52H69.38V267.63H73.30M69.38 264.85H67.88V267.07H69.38M73.30 269.85H70.60V270.96H73.30M73.30 268.74H69.44V270.40H70.60M67.88 265.96H54.06V269.57H69.44M73.30 272.07H64.56V273.18H73.30M73.30 275.40H68.11V276.51H73.30M73.30 274.29H66.61V275.96H68.11M64.56 272.63H56.51V275.13H66.61M73.30 277.62H69.79V278.74H73.30M69.79 278.18H67.78V279.85H73.30M73.30 280.96H65.67V282.07H73.30M65.67 281.51H59.28V283.18H73.30M73.30 284.29H65.07V285.40H73.30M59.28 282.35H57.20V284.85H65.07M67.78 279.01H55.70V283.60H57.20M56.51 273.88H50.25V281.30H55.70M54.06 267.77H48.75V277.59H50.25M51.49 253.20H42.51V272.68H48.75M49.05 228.22H39.10V262.94H42.51M73.30 286.51H69.90V287.62H73.30M69.90 287.07H68.44V288.73H73.30M73.30 289.84H68.32V290.96H73.30M68.44 287.90H55.65V290.40H68.32M73.30 292.07H66.83V293.18H73.30M55.65 289.15H54.15V292.62H66.83M73.30 295.40H70.46V296.51H73.30M73.30 294.29H69.25V295.95H70.46M73.30 298.73H67.92V299.84H73.30M73.30 297.62H64.12V299.29H67.92M73.30 302.06H69.69V303.17H73.30M73.30 300.95H68.19V302.62H69.69M64.12 298.45H57.00V301.79H68.19M69.25 295.12H54.49V300.12H57.00M54.15 290.89H52.47V297.62H54.49M73.30 304.29H65.58V305.40H73.30M73.30 306.51H69.95V307.62H73.30M73.30 308.73H64.61V309.84H73.30M69.95 307.06H59.69V309.28H64.61M65.58 304.84H58.19V308.17H59.69M73.30 310.95H69.96V312.06H73.30M73.30 313.17H69.96V314.28H73.30M69.96 311.51H68.53V313.73H69.96M58.19 306.51H56.02V312.62H68.53M73.30 315.39H67.14V316.51H73.30M67.14 315.95H65.64V317.62H73.30M73.30 318.73H69.69V319.84H73.30M69.69 319.28H68.11V320.95H73.30M65.64 316.78H56.04V320.12H68.11M73.30 323.17H69.50V324.28H73.30M69.50 323.73H68.00V325.39H73.30M73.30 322.06H64.18V324.56H68.00M56.04 318.45H52.30V323.31H64.18M73.30 326.50H64.86V327.61H73.30M73.30 328.73H65.33V329.84H73.30M64.86 327.06H61.49V329.28H65.33M52.30 320.88H50.80V328.17H61.49M73.30 330.95H69.51V332.06H73.30M69.51 331.50H68.01V333.17H73.30M73.30 334.28H67.05V335.39H73.30M68.01 332.34H60.00V334.83H67.05M73.30 336.50H68.39V337.61H73.30M68.39 337.06H66.89V338.72H73.30M73.30 339.83H67.32V340.94H73.30M66.89 337.89H54.68V340.39H67.32M60.00 333.59H51.84V339.14H54.68M50.80 324.52H49.30V336.36H51.84M56.02 309.56H41.47V330.44H49.30M52.47 294.25H38.60V320.00H41.47M39.10 245.58H24.40V307.13H38.60M31.40 148.04H11.20V276.35H24.40M43.00 93.53H5.50V212.19H11.20" fill="none" stroke="#5a5a5a" stroke-width="0.5"/>
<linearGradient id="cbg" x1="0" y1="0" x2="0" y2="1"><stop offset="0.00" stop-color="#a9373b"/><stop offset="0.05" stop-color="#b24a4b"/><stop offset="0.10" stop-color="#bb5e5d"/><stop offset="0.15" stop-color="#c3726f"/><stop offset="0.20" stop-color="#cc8582"/><stop offset="0.25" stop-color="#d39794"/><stop offset="0.30" stop-color="#dbaba8"/><stop offset="0.35" stop-color="#e3bfbd"/><stop offset="0.40" stop-color="#ecd3d2"/><stop offset="0.45" stop-color="#f6e8e7"/><stop offset="0.50" stop-color="#faf5f4"/><stop offset="0.55" stop-color="#eeedf0"/><stop offset="0.60" stop-color="#d9dce5"/><stop offset="0.65" stop-color="#c3cbda"/><stop offset="0.70" stop-color="#afbcd1"/><stop offset="0.75" stop-color="#9baecb"/><stop offset="0.80" stop-color="#87a0c4"/><stop offset="0.85" stop-color="#7192c0"/><stop offset="0.90" stop-color="#5680bc"/><stop offset="0.95" stop-color="#3e6fb9"/><stop offset="1.00" stop-color="#3c6ab8"/></linearGradient><rect x="4.0" y="24.0" width="18.8" height="79.6" fill="url(#cbg)"/>
<line x1="90.22" y1="341.50" x2="90.22" y2="343.70" stroke="#000" stroke-width="0.6"/>
<line x1="102.67" y1="341.50" x2="102.67" y2="343.70" stroke="#000" stroke-width="0.6"/>
<line x1="115.12" y1="341.50" x2="115.12" y2="343.70" stroke="#000" stroke-width="0.6"/>
<line x1="127.57" y1="341.50" x2="127.57" y2="343.70" stroke="#000" stroke-width="0.6"/>
<line x1="140.03" y1="341.50" x2="140.03" y2="343.70" stroke="#000" stroke-width="0.6"/>
<line x1="152.47" y1="341.50" x2="152.47" y2="343.70" stroke="#000" stroke-width="0.6"/>
<line x1="164.93" y1="341.50" x2="164.93" y2="343.70" stroke="#000" stroke-width="0.6"/>
<line x1="177.38" y1="341.50" x2="177.38" y2="343.70" stroke="#000" stroke-width="0.6"/>
<line x1="189.82" y1="341.50" x2="189.82" y2="343.70" stroke="#000" stroke-width="0.6"/>
<line x1="202.27" y1="341.50" x2="202.27" y2="343.70" stroke="#000" stroke-width="0.6"/>
<line x1="214.72" y1="341.50" x2="214.72" y2="343.70" stroke="#000" stroke-width="0.6"/>
<line x1="227.17" y1="341.50" x2="227.17" y2="343.70" stroke="#000" stroke-width="0.6"/>
<line x1="239.62" y1="341.50" x2="239.62" y2="343.70" stroke="#000" stroke-width="0.6"/>
<line x1="252.07" y1="341.50" x2="252.07" y2="343.70" stroke="#000" stroke-width="0.6"/>
<line x1="264.52" y1="341.50" x2="264.52" y2="343.70" stroke="#000" stroke-width="0.6"/>
<line x1="276.98" y1="341.50" x2="276.98" y2="343.70" stroke="#000" stroke-width="0.6"/>
<line x1="289.42" y1="341.50" x2="289.42" y2="343.70" stroke="#000" stroke-width="0.6"/>
<line x1="301.88" y1="341.50" x2="301.88" y2="343.70" stroke="#000" stroke-width="0.6"/>
<line x1="314.32" y1="341.50" x2="314.32" y2="343.70" stroke="#000" stroke-width="0.6"/>
<line x1="326.77" y1="341.50" x2="326.77" y2="343.70" stroke="#000" stroke-width="0.6"/>
<line x1="339.23" y1="341.50" x2="339.23" y2="343.70" stroke="#000" stroke-width="0.6"/>
<line x1="351.68" y1="341.50" x2="351.68" y2="343.70" stroke="#000" stroke-width="0.6"/>
<g clip-path="url(#cpA)"><text x="92.42" y="346.40" font-size="6.47" text-anchor="end" textLength="52.01" lengthAdjust="spacingAndGlyphs" transform="rotate(-90 92.42 346.40)">Cytotrophoblasts</text>
<text x="104.88" y="346.40" font-size="6.47" text-anchor="end" textLength="103.60" lengthAdjust="spacingAndGlyphs" transform="rotate(-90 104.88 346.40)">Fetal Plasmacytoid Dendritic Cells</text>
<text x="117.33" y="346.40" font-size="6.47" text-anchor="end" textLength="87.63" lengthAdjust="spacingAndGlyphs" transform="rotate(-90 117.33 346.40)">Fetal CD8+ Activated T Cells</text>
<text x="129.77" y="346.40" font-size="6.47" text-anchor="end" textLength="75.97" lengthAdjust="spacingAndGlyphs" transform="rotate(-90 129.77 346.40)">Extravillous Trophoblasts</text>
<text x="142.22" y="346.40" font-size="6.47" text-anchor="end" textLength="37.39" lengthAdjust="spacingAndGlyphs" transform="rotate(-90 142.22 346.40)">Fetal B Cells</text>
<text x="154.67" y="346.40" font-size="6.47" text-anchor="end" textLength="83.57" lengthAdjust="spacingAndGlyphs" transform="rotate(-90 154.67 346.40)">Fetal Memory CD4+ T Cells</text>
<text x="167.12" y="346.40" font-size="6.47" text-anchor="end" textLength="93.13" lengthAdjust="spacingAndGlyphs" transform="rotate(-90 167.12 346.40)">Fetal Mesenchymal Stem Cells</text>
<text x="179.57" y="346.40" font-size="6.47" text-anchor="end" textLength="67.37" lengthAdjust="spacingAndGlyphs" transform="rotate(-90 179.57 346.40)">Fetal Endothelial Cells</text>
<text x="192.02" y="346.40" font-size="6.47" text-anchor="end" textLength="44.72" lengthAdjust="spacingAndGlyphs" transform="rotate(-90 192.02 346.40)">Hofbauer Cells</text>
<text x="204.47" y="346.40" font-size="6.47" text-anchor="end" textLength="73.34" lengthAdjust="spacingAndGlyphs" transform="rotate(-90 204.47 346.40)">Fetal CD14+ Monocytes</text>
<text x="216.92" y="346.40" font-size="6.47" text-anchor="end" textLength="88.22" lengthAdjust="spacingAndGlyphs" transform="rotate(-90 216.92 346.40)">Maternal Naive CD8+ T Cells</text>
<text x="229.37" y="346.40" font-size="6.47" text-anchor="end" textLength="60.97" lengthAdjust="spacingAndGlyphs" transform="rotate(-90 229.37 346.40)">Syncytiotrophoblast</text>
<text x="241.82" y="346.40" font-size="6.47" text-anchor="end" textLength="85.09" lengthAdjust="spacingAndGlyphs" transform="rotate(-90 241.82 346.40)">Maternal Natural Killer Cells</text>
<text x="254.27" y="346.40" font-size="6.47" text-anchor="end" textLength="67.27" lengthAdjust="spacingAndGlyphs" transform="rotate(-90 254.27 346.40)">Maternal Plasma Cells</text>
<text x="266.72" y="346.40" font-size="6.47" text-anchor="end" textLength="99.73" lengthAdjust="spacingAndGlyphs" transform="rotate(-90 266.72 346.40)">Maternal CD8+ Activated T Cells</text>
<text x="279.18" y="346.40" font-size="6.47" text-anchor="end" textLength="76.12" lengthAdjust="spacingAndGlyphs" transform="rotate(-90 279.18 346.40)">Fetal Naive CD4+ T Cells</text>
<text x="291.62" y="346.40" font-size="6.47" text-anchor="end" textLength="78.66" lengthAdjust="spacingAndGlyphs" transform="rotate(-90 291.62 346.40)">Fetal Natural Killer T Cells</text>
<text x="304.07" y="346.40" font-size="6.47" text-anchor="end" textLength="49.48" lengthAdjust="spacingAndGlyphs" transform="rotate(-90 304.07 346.40)">Fetal Fibroblasts</text>
<text x="316.52" y="346.40" font-size="6.47" text-anchor="end" textLength="81.69" lengthAdjust="spacingAndGlyphs" transform="rotate(-90 316.52 346.40)">Fetal GZMK+ Natural Killer</text>
<text x="328.97" y="346.40" font-size="6.47" text-anchor="end" textLength="88.22" lengthAdjust="spacingAndGlyphs" transform="rotate(-90 328.97 346.40)">Maternal Naive CD4+ T Cells</text>
<text x="341.43" y="346.40" font-size="6.47" text-anchor="end" textLength="85.43" lengthAdjust="spacingAndGlyphs" transform="rotate(-90 341.43 346.40)">Maternal CD14+ Monocytes</text>
<text x="353.88" y="346.40" font-size="6.47" text-anchor="end" textLength="49.49" lengthAdjust="spacingAndGlyphs" transform="rotate(-90 353.88 346.40)">Maternal B Cells</text></g>
<clipPath id="cpA"><rect x="0" y="0" width="370" height="447.7"/></clipPath>
<text x="3.40" y="479.10" font-size="33.30" fill="#111" font-weight="bold">B</text>
<line x1="115.40" y1="462.50" x2="134.20" y2="462.50" stroke="#000" stroke-width="1.4375"/>
<line x1="115.40" y1="460.21" x2="115.40" y2="464.79" stroke="#000" stroke-width="1.4375"/>
<line x1="160.80" y1="462.50" x2="188.20" y2="462.50" stroke="#000" stroke-width="1.4375"/>
<line x1="188.20" y1="460.21" x2="188.20" y2="464.79" stroke="#000" stroke-width="1.4375"/>
<rect x="134.20" y="459.45" width="26.60" height="6.10" fill="#000" stroke="#000" stroke-width="1.25"/>
<circle cx="200.30" cy="462.50" r="1.3" fill="#fff" stroke="#000" stroke-width="1.15"/>
<circle cx="209.40" cy="462.50" r="1.3" fill="#fff" stroke="#000" stroke-width="1.15"/>
<circle cx="211.50" cy="462.50" r="1.3" fill="#fff" stroke="#000" stroke-width="1.15"/>
<line x1="143.40" y1="468.90" x2="162.60" y2="468.90" stroke="#000" stroke-width="1.4375"/>
<line x1="143.40" y1="466.61" x2="143.40" y2="471.19" stroke="#000" stroke-width="1.4375"/>
<line x1="240.40" y1="468.90" x2="286.20" y2="468.90" stroke="#000" stroke-width="1.4375"/>
<line x1="286.20" y1="466.61" x2="286.20" y2="471.19" stroke="#000" stroke-width="1.4375"/>
<rect x="162.60" y="465.85" width="77.80" height="6.10" fill="#b962c8" stroke="#000" stroke-width="1.25"/>
<line x1="197.20" y1="465.85" x2="197.20" y2="471.95" stroke="#000" stroke-width="1.4375"/>
<path d="M291.73,463.35L292.40,465.17L294.34,465.25L292.82,466.46L293.34,468.32L291.73,467.25L290.11,468.32L290.63,466.46L289.11,465.25L291.05,465.17ZM296.98,463.35L297.65,465.17L299.59,465.25L298.07,466.46L298.59,468.32L296.98,467.25L295.36,468.32L295.88,466.46L294.36,465.25L296.30,465.17ZM302.23,463.35L302.90,465.17L304.84,465.25L303.32,466.46L303.84,468.32L302.23,467.25L300.61,468.32L301.13,466.46L299.61,465.25L301.55,465.17ZM307.48,463.35L308.15,465.17L310.09,465.25L308.57,466.46L309.09,468.32L307.48,467.25L305.86,468.32L306.38,466.46L304.86,465.25L306.80,465.17Z" fill="#e0301e"/>
<line x1="97.90" y1="465.70" x2="99.90" y2="465.70" stroke="#000" stroke-width="0.6"/>
<text x="96.90" y="466.90" font-size="4.13" text-anchor="end" stroke="#000" stroke-width="0.05" textLength="48.57" lengthAdjust="spacingAndGlyphs">Extravillous Trophoblasts</text>
<line x1="111.30" y1="477.80" x2="125.10" y2="477.80" stroke="#000" stroke-width="1.4375"/>
<line x1="111.30" y1="475.51" x2="111.30" y2="480.09" stroke="#000" stroke-width="1.4375"/>
<line x1="147.90" y1="477.80" x2="178.80" y2="477.80" stroke="#000" stroke-width="1.4375"/>
<line x1="178.80" y1="475.51" x2="178.80" y2="480.09" stroke="#000" stroke-width="1.4375"/>
<rect x="125.10" y="474.75" width="22.80" height="6.10" fill="#000" stroke="#000" stroke-width="1.25"/>
<circle cx="181.80" cy="477.80" r="1.3" fill="#fff" stroke="#000" stroke-width="1.15"/>
<line x1="131.50" y1="484.20" x2="155.50" y2="484.20" stroke="#000" stroke-width="1.4375"/>
<line x1="155.50" y1="481.91" x2="155.50" y2="486.49" stroke="#000" stroke-width="1.4375"/>
<rect x="111.30" y="481.15" width="20.20" height="6.10" fill="#b962c8" stroke="#000" stroke-width="1.25"/>
<line x1="117.00" y1="481.15" x2="117.00" y2="487.25" stroke="#000" stroke-width="1.4375"/>
<path d="M291.73,478.65L292.40,480.47L294.34,480.55L292.82,481.76L293.34,483.62L291.73,482.55L290.11,483.62L290.63,481.76L289.11,480.55L291.05,480.47ZM296.98,478.65L297.65,480.47L299.59,480.55L298.07,481.76L298.59,483.62L296.98,482.55L295.36,483.62L295.88,481.76L294.36,480.55L296.30,480.47ZM302.23,478.65L302.90,480.47L304.84,480.55L303.32,481.76L303.84,483.62L302.23,482.55L300.61,483.62L301.13,481.76L299.61,480.55L301.55,480.47ZM307.48,478.65L308.15,480.47L310.09,480.55L308.57,481.76L309.09,483.62L307.48,482.55L305.86,483.62L306.38,481.76L304.86,480.55L306.80,480.47Z" fill="#e0301e"/>
<line x1="97.90" y1="481.00" x2="99.90" y2="481.00" stroke="#000" stroke-width="0.6"/>
<text x="96.90" y="482.20" font-size="4.13" text-anchor="end" stroke="#000" stroke-width="0.05" textLength="56.40" lengthAdjust="spacingAndGlyphs">Maternal Naive CD8+ T Cells</text>
<line x1="111.30" y1="493.10" x2="114.60" y2="493.10" stroke="#000" stroke-width="1.4375"/>
<line x1="111.30" y1="490.81" x2="111.30" y2="495.39" stroke="#000" stroke-width="1.4375"/>
<line x1="117.50" y1="493.10" x2="119.50" y2="493.10" stroke="#000" stroke-width="1.4375"/>
<line x1="119.50" y1="490.81" x2="119.50" y2="495.39" stroke="#000" stroke-width="1.4375"/>
<rect x="114.60" y="490.05" width="2.90" height="6.10" fill="#000" stroke="#000" stroke-width="1.25"/>
<circle cx="122.30" cy="493.10" r="1.3" fill="#fff" stroke="#000" stroke-width="1.15"/>
<circle cx="123.80" cy="493.10" r="1.3" fill="#fff" stroke="#000" stroke-width="1.15"/>
<line x1="111.30" y1="499.50" x2="112.80" y2="499.50" stroke="#000" stroke-width="1.4375"/>
<line x1="111.30" y1="497.21" x2="111.30" y2="501.79" stroke="#000" stroke-width="1.4375"/>
<line x1="115.80" y1="499.50" x2="117.50" y2="499.50" stroke="#000" stroke-width="1.4375"/>
<line x1="117.50" y1="497.21" x2="117.50" y2="501.79" stroke="#000" stroke-width="1.4375"/>
<rect x="112.80" y="496.45" width="3.00" height="6.10" fill="#b962c8" stroke="#000" stroke-width="1.25"/>
<line x1="114.20" y1="496.45" x2="114.20" y2="502.55" stroke="#000" stroke-width="1.4375"/>
<circle cx="119.00" cy="499.50" r="1.3" fill="#fff" stroke="#000" stroke-width="1.15"/>
<circle cx="120.60" cy="499.50" r="1.3" fill="#fff" stroke="#000" stroke-width="1.15"/>
<path d="M299.60,493.95L300.28,495.77L302.22,495.85L300.70,497.06L301.22,498.92L299.60,497.85L297.98,498.92L298.50,497.06L296.98,495.85L298.92,495.77Z" fill="#e0301e"/>
<line x1="97.90" y1="496.30" x2="99.90" y2="496.30" stroke="#000" stroke-width="0.6"/>
<text x="96.90" y="497.50" font-size="4.13" text-anchor="end" stroke="#000" stroke-width="0.05" textLength="43.01" lengthAdjust="spacingAndGlyphs">Maternal Plasma Cells</text>
<line x1="111.30" y1="508.40" x2="123.60" y2="508.40" stroke="#000" stroke-width="1.4375"/>
<line x1="123.60" y1="506.11" x2="123.60" y2="510.69" stroke="#000" stroke-width="1.4375"/>
<rect x="111.30" y="505.35" width="0.01" height="6.10" fill="#000" stroke="#000" stroke-width="1.25"/>
<circle cx="127.30" cy="508.40" r="1.3" fill="#fff" stroke="#000" stroke-width="1.15"/>
<circle cx="140.20" cy="508.40" r="1.3" fill="#fff" stroke="#000" stroke-width="1.15"/>
<line x1="111.50" y1="514.80" x2="112.00" y2="514.80" stroke="#000" stroke-width="1.4375"/>
<line x1="111.50" y1="512.51" x2="111.50" y2="517.09" stroke="#000" stroke-width="1.4375"/>
<line x1="129.00" y1="514.80" x2="142.00" y2="514.80" stroke="#000" stroke-width="1.4375"/>
<line x1="142.00" y1="512.51" x2="142.00" y2="517.09" stroke="#000" stroke-width="1.4375"/>
<rect x="112.00" y="511.75" width="17.00" height="6.10" fill="#b962c8" stroke="#000" stroke-width="1.25"/>
<line x1="121.50" y1="511.75" x2="121.50" y2="517.85" stroke="#000" stroke-width="1.4375"/>
<path d="M291.73,509.25L292.40,511.07L294.34,511.15L292.82,512.36L293.34,514.22L291.73,513.15L290.11,514.22L290.63,512.36L289.11,511.15L291.05,511.07ZM296.98,509.25L297.65,511.07L299.59,511.15L298.07,512.36L298.59,514.22L296.98,513.15L295.36,514.22L295.88,512.36L294.36,511.15L296.30,511.07ZM302.23,509.25L302.90,511.07L304.84,511.15L303.32,512.36L303.84,514.22L302.23,513.15L300.61,514.22L301.13,512.36L299.61,511.15L301.55,511.07ZM307.48,509.25L308.15,511.07L310.09,511.15L308.57,512.36L309.09,514.22L307.48,513.15L305.86,514.22L306.38,512.36L304.86,511.15L306.80,511.07Z" fill="#e0301e"/>
<line x1="97.90" y1="511.60" x2="99.90" y2="511.60" stroke="#000" stroke-width="0.6"/>
<text x="96.90" y="512.80" font-size="4.13" text-anchor="end" stroke="#000" stroke-width="0.05" textLength="31.64" lengthAdjust="spacingAndGlyphs">Maternal B Cells</text>
<line x1="121.00" y1="523.70" x2="133.00" y2="523.70" stroke="#000" stroke-width="1.4375"/>
<line x1="133.00" y1="521.41" x2="133.00" y2="525.99" stroke="#000" stroke-width="1.4375"/>
<rect x="111.30" y="520.65" width="9.70" height="6.10" fill="#000" stroke="#000" stroke-width="1.25"/>
<circle cx="139.00" cy="523.70" r="1.3" fill="#fff" stroke="#000" stroke-width="1.15"/>
<line x1="129.40" y1="530.10" x2="146.70" y2="530.10" stroke="#000" stroke-width="1.4375"/>
<line x1="146.70" y1="527.81" x2="146.70" y2="532.39" stroke="#000" stroke-width="1.4375"/>
<rect x="111.30" y="527.05" width="18.10" height="6.10" fill="#b962c8" stroke="#000" stroke-width="1.25"/>
<line x1="124.00" y1="527.05" x2="124.00" y2="533.15" stroke="#000" stroke-width="1.4375"/>
<circle cx="161.90" cy="530.10" r="1.3" fill="#fff" stroke="#000" stroke-width="1.15"/>
<path d="M296.98,524.55L297.65,526.37L299.59,526.45L298.07,527.66L298.59,529.52L296.98,528.45L295.36,529.52L295.88,527.66L294.36,526.45L296.30,526.37ZM302.23,524.55L302.90,526.37L304.84,526.45L303.32,527.66L303.84,529.52L302.23,528.45L300.61,529.52L301.13,527.66L299.61,526.45L301.55,526.37Z" fill="#e0301e"/>
<line x1="97.90" y1="526.90" x2="99.90" y2="526.90" stroke="#000" stroke-width="0.6"/>
<text x="96.90" y="528.10" font-size="4.13" text-anchor="end" stroke="#000" stroke-width="0.05" textLength="54.62" lengthAdjust="spacingAndGlyphs">Maternal CD14+ Monocytes</text>
<rect x="111.30" y="535.95" width="1.90" height="6.10" fill="#000" stroke="#000" stroke-width="1.25"/>
<circle cx="112.50" cy="539.00" r="1.3" fill="#fff" stroke="#000" stroke-width="1.15"/>
<rect x="111.70" y="542.35" width="0.01" height="6.10" fill="#b962c8" stroke="#000" stroke-width="1.25"/>
<path d="M294.35,539.85L295.03,541.67L296.97,541.75L295.45,542.96L295.97,544.82L294.35,543.75L292.73,544.82L293.25,542.96L291.73,541.75L293.67,541.67ZM299.60,539.85L300.28,541.67L302.22,541.75L300.70,542.96L301.22,544.82L299.60,543.75L297.98,544.82L298.50,542.96L296.98,541.75L298.92,541.67ZM304.85,539.85L305.53,541.67L307.47,541.75L305.95,542.96L306.47,544.82L304.85,543.75L303.23,544.82L303.75,542.96L302.23,541.75L304.17,541.67Z" fill="#e0301e"/>
<line x1="97.90" y1="542.20" x2="99.90" y2="542.20" stroke="#000" stroke-width="0.6"/>
<text x="96.90" y="543.40" font-size="4.13" text-anchor="end" stroke="#000" stroke-width="0.05" textLength="61.94" lengthAdjust="spacingAndGlyphs">Fetal Nucleated Red Blood Cells</text>
<line x1="269.00" y1="554.30" x2="283.40" y2="554.30" stroke="#000" stroke-width="1.4375"/>
<line x1="269.00" y1="552.01" x2="269.00" y2="556.59" stroke="#000" stroke-width="1.4375"/>
<line x1="303.20" y1="554.30" x2="326.70" y2="554.30" stroke="#000" stroke-width="1.4375"/>
<line x1="326.70" y1="552.01" x2="326.70" y2="556.59" stroke="#000" stroke-width="1.4375"/>
<rect x="283.40" y="551.25" width="19.80" height="6.10" fill="#000" stroke="#000" stroke-width="1.25"/>
<circle cx="235.30" cy="554.30" r="1.3" fill="#fff" stroke="#000" stroke-width="1.15"/>
<circle cx="248.60" cy="554.30" r="1.3" fill="#fff" stroke="#000" stroke-width="1.15"/>
<circle cx="250.70" cy="554.30" r="1.3" fill="#fff" stroke="#000" stroke-width="1.15"/>
<circle cx="336.50" cy="554.30" r="1.3" fill="#fff" stroke="#000" stroke-width="1.15"/>
<circle cx="344.70" cy="554.30" r="1.3" fill="#fff" stroke="#000" stroke-width="1.15"/>
<line x1="223.50" y1="560.70" x2="256.40" y2="560.70" stroke="#000" stroke-width="1.4375"/>
<line x1="223.50" y1="558.41" x2="223.50" y2="562.99" stroke="#000" stroke-width="1.4375"/>
<line x1="284.40" y1="560.70" x2="316.00" y2="560.70" stroke="#000" stroke-width="1.4375"/>
<line x1="316.00" y1="558.41" x2="316.00" y2="562.99" stroke="#000" stroke-width="1.4375"/>
<rect x="256.40" y="557.65" width="28.00" height="6.10" fill="#b962c8" stroke="#000" stroke-width="1.25"/>
<line x1="268.40" y1="557.65" x2="268.40" y2="563.75" stroke="#000" stroke-width="1.4375"/>
<circle cx="157.80" cy="560.70" r="1.3" fill="#fff" stroke="#000" stroke-width="1.15"/>
<circle cx="339.10" cy="560.70" r="1.3" fill="#fff" stroke="#000" stroke-width="1.15"/>
<path d="M332.93,555.15L333.60,556.97L335.54,557.05L334.02,558.26L334.54,560.12L332.93,559.05L331.31,560.12L331.83,558.26L330.31,557.05L332.25,556.97ZM338.18,555.15L338.85,556.97L340.79,557.05L339.27,558.26L339.79,560.12L338.18,559.05L336.56,560.12L337.08,558.26L335.56,557.05L337.50,556.97ZM343.43,555.15L344.10,556.97L346.04,557.05L344.52,558.26L345.04,560.12L343.43,559.05L341.81,560.12L342.33,558.26L340.81,557.05L342.75,556.97ZM348.68,555.15L349.35,556.97L351.29,557.05L349.77,558.26L350.29,560.12L348.68,559.05L347.06,560.12L347.58,558.26L346.06,557.05L348.00,556.97Z" fill="#e0301e"/>
<line x1="97.90" y1="557.50" x2="99.90" y2="557.50" stroke="#000" stroke-width="0.6"/>
<text x="96.90" y="558.70" font-size="4.13" text-anchor="end" stroke="#000" stroke-width="0.05" textLength="33.25" lengthAdjust="spacingAndGlyphs">Cytotrophoblasts</text>
<line x1="113.40" y1="569.60" x2="122.80" y2="569.60" stroke="#000" stroke-width="1.4375"/>
<line x1="113.40" y1="567.31" x2="113.40" y2="571.89" stroke="#000" stroke-width="1.4375"/>
<line x1="130.60" y1="569.60" x2="137.10" y2="569.60" stroke="#000" stroke-width="1.4375"/>
<line x1="137.10" y1="567.31" x2="137.10" y2="571.89" stroke="#000" stroke-width="1.4375"/>
<rect x="122.80" y="566.55" width="7.80" height="6.10" fill="#000" stroke="#000" stroke-width="1.25"/>
<circle cx="142.00" cy="569.60" r="1.3" fill="#fff" stroke="#000" stroke-width="1.15"/>
<circle cx="147.00" cy="569.60" r="1.3" fill="#fff" stroke="#000" stroke-width="1.15"/>
<circle cx="149.50" cy="569.60" r="1.3" fill="#fff" stroke="#000" stroke-width="1.15"/>
<circle cx="152.50" cy="569.60" r="1.3" fill="#fff" stroke="#000" stroke-width="1.15"/>
<line x1="119.60" y1="576.00" x2="126.00" y2="576.00" stroke="#000" stroke-width="1.4375"/>
<line x1="126.00" y1="573.71" x2="126.00" y2="578.29" stroke="#000" stroke-width="1.4375"/>
<rect x="111.30" y="572.95" width="8.30" height="6.10" fill="#b962c8" stroke="#000" stroke-width="1.25"/>
<line x1="112.00" y1="572.95" x2="112.00" y2="579.05" stroke="#000" stroke-width="1.4375"/>
<circle cx="133.00" cy="576.00" r="1.3" fill="#fff" stroke="#000" stroke-width="1.15"/>
<path d="M291.73,570.45L292.40,572.27L294.34,572.35L292.82,573.56L293.34,575.42L291.73,574.35L290.11,575.42L290.63,573.56L289.11,572.35L291.05,572.27ZM296.98,570.45L297.65,572.27L299.59,572.35L298.07,573.56L298.59,575.42L296.98,574.35L295.36,575.42L295.88,573.56L294.36,572.35L296.30,572.27ZM302.23,570.45L302.90,572.27L304.84,572.35L303.32,573.56L303.84,575.42L302.23,574.35L300.61,575.42L301.13,573.56L299.61,572.35L301.55,572.27ZM307.48,570.45L308.15,572.27L310.09,572.35L308.57,573.56L309.09,575.42L307.48,574.35L305.86,575.42L306.38,573.56L304.86,572.35L306.80,572.27Z" fill="#e0301e"/>
<line x1="97.90" y1="572.80" x2="99.90" y2="572.80" stroke="#000" stroke-width="0.6"/>
<text x="96.90" y="574.00" font-size="4.13" text-anchor="end" stroke="#000" stroke-width="0.05" textLength="38.98" lengthAdjust="spacingAndGlyphs">Syncytiotrophoblast</text>
<line x1="122.80" y1="584.90" x2="132.10" y2="584.90" stroke="#000" stroke-width="1.4375"/>
<line x1="122.80" y1="582.61" x2="122.80" y2="587.19" stroke="#000" stroke-width="1.4375"/>
<line x1="141.80" y1="584.90" x2="151.40" y2="584.90" stroke="#000" stroke-width="1.4375"/>
<line x1="151.40" y1="582.61" x2="151.40" y2="587.19" stroke="#000" stroke-width="1.4375"/>
<rect x="132.10" y="581.85" width="9.70" height="6.10" fill="#000" stroke="#000" stroke-width="1.25"/>
<circle cx="111.50" cy="584.90" r="1.3" fill="#fff" stroke="#000" stroke-width="1.15"/>
<circle cx="118.00" cy="584.90" r="1.3" fill="#fff" stroke="#000" stroke-width="1.15"/>
<circle cx="154.50" cy="584.90" r="1.3" fill="#fff" stroke="#000" stroke-width="1.15"/>
<circle cx="156.00" cy="584.90" r="1.3" fill="#fff" stroke="#000" stroke-width="1.15"/>
<circle cx="157.50" cy="584.90" r="1.3" fill="#fff" stroke="#000" stroke-width="1.15"/>
<circle cx="162.00" cy="584.90" r="1.3" fill="#fff" stroke="#000" stroke-width="1.15"/>
<line x1="122.80" y1="591.30" x2="138.30" y2="591.30" stroke="#000" stroke-width="1.4375"/>
<line x1="122.80" y1="589.01" x2="122.80" y2="593.59" stroke="#000" stroke-width="1.4375"/>
<line x1="153.50" y1="591.30" x2="167.50" y2="591.30" stroke="#000" stroke-width="1.4375"/>
<line x1="167.50" y1="589.01" x2="167.50" y2="593.59" stroke="#000" stroke-width="1.4375"/>
<rect x="138.30" y="588.25" width="15.20" height="6.10" fill="#b962c8" stroke="#000" stroke-width="1.25"/>
<line x1="149.00" y1="588.25" x2="149.00" y2="594.35" stroke="#000" stroke-width="1.4375"/>
<circle cx="111.50" cy="591.30" r="1.3" fill="#fff" stroke="#000" stroke-width="1.15"/>
<circle cx="182.60" cy="591.30" r="1.3" fill="#fff" stroke="#000" stroke-width="1.15"/>
<path d="M294.35,585.75L295.03,587.57L296.97,587.65L295.45,588.86L295.97,590.72L294.35,589.65L292.73,590.72L293.25,588.86L291.73,587.65L293.67,587.57ZM299.60,585.75L300.28,587.57L302.22,587.65L300.70,588.86L301.22,590.72L299.60,589.65L297.98,590.72L298.50,588.86L296.98,587.65L298.92,587.57ZM304.85,585.75L305.53,587.57L307.47,587.65L305.95,588.86L306.47,590.72L304.85,589.65L303.23,590.72L303.75,588.86L302.23,587.65L304.17,587.57Z" fill="#e0301e"/>
<line x1="97.90" y1="588.10" x2="99.90" y2="588.10" stroke="#000" stroke-width="0.6"/>
<text x="96.90" y="589.30" font-size="4.13" text-anchor="end" stroke="#000" stroke-width="0.05" textLength="66.24" lengthAdjust="spacingAndGlyphs">Fetal Plasmacytoid Dendritic Cells</text>
<line x1="111.30" y1="600.20" x2="115.20" y2="600.20" stroke="#000" stroke-width="1.4375"/>
<line x1="111.30" y1="597.91" x2="111.30" y2="602.49" stroke="#000" stroke-width="1.4375"/>
<line x1="122.20" y1="600.20" x2="127.80" y2="600.20" stroke="#000" stroke-width="1.4375"/>
<line x1="127.80" y1="597.91" x2="127.80" y2="602.49" stroke="#000" stroke-width="1.4375"/>
<rect x="115.20" y="597.15" width="7.00" height="6.10" fill="#000" stroke="#000" stroke-width="1.25"/>
<circle cx="134.00" cy="600.20" r="1.3" fill="#fff" stroke="#000" stroke-width="1.15"/>
<circle cx="136.50" cy="600.20" r="1.3" fill="#fff" stroke="#000" stroke-width="1.15"/>
<circle cx="145.00" cy="600.20" r="1.3" fill="#fff" stroke="#000" stroke-width="1.15"/>
<line x1="111.30" y1="606.60" x2="111.50" y2="606.60" stroke="#000" stroke-width="1.4375"/>
<line x1="111.30" y1="604.31" x2="111.30" y2="608.89" stroke="#000" stroke-width="1.4375"/>
<line x1="118.50" y1="606.60" x2="123.50" y2="606.60" stroke="#000" stroke-width="1.4375"/>
<line x1="123.50" y1="604.31" x2="123.50" y2="608.89" stroke="#000" stroke-width="1.4375"/>
<rect x="111.50" y="603.55" width="7.00" height="6.10" fill="#b962c8" stroke="#000" stroke-width="1.25"/>
<line x1="114.00" y1="603.55" x2="114.00" y2="609.65" stroke="#000" stroke-width="1.4375"/>
<circle cx="154.00" cy="606.60" r="1.3" fill="#fff" stroke="#000" stroke-width="1.15"/>
<path d="M296.98,601.05L297.65,602.87L299.59,602.95L298.07,604.16L298.59,606.02L296.98,604.95L295.36,606.02L295.88,604.16L294.36,602.95L296.30,602.87ZM302.23,601.05L302.90,602.87L304.84,602.95L303.32,604.16L303.84,606.02L302.23,604.95L300.61,606.02L301.13,604.16L299.61,602.95L301.55,602.87Z" fill="#e0301e"/>
<line x1="97.90" y1="603.40" x2="99.90" y2="603.40" stroke="#000" stroke-width="0.6"/>
<text x="96.90" y="604.60" font-size="4.13" text-anchor="end" stroke="#000" stroke-width="0.05" textLength="28.59" lengthAdjust="spacingAndGlyphs">Hofbauer Cells</text>
<line x1="126.30" y1="615.50" x2="136.20" y2="615.50" stroke="#000" stroke-width="1.4375"/>
<line x1="126.30" y1="613.21" x2="126.30" y2="617.79" stroke="#000" stroke-width="1.4375"/>
<line x1="145.00" y1="615.50" x2="155.80" y2="615.50" stroke="#000" stroke-width="1.4375"/>
<line x1="155.80" y1="613.21" x2="155.80" y2="617.79" stroke="#000" stroke-width="1.4375"/>
<rect x="136.20" y="612.45" width="8.80" height="6.10" fill="#000" stroke="#000" stroke-width="1.25"/>
<circle cx="115.20" cy="615.50" r="1.3" fill="#fff" stroke="#000" stroke-width="1.15"/>
<circle cx="165.30" cy="615.50" r="1.3" fill="#fff" stroke="#000" stroke-width="1.15"/>
<line x1="115.00" y1="621.90" x2="128.00" y2="621.90" stroke="#000" stroke-width="1.4375"/>
<line x1="115.00" y1="619.61" x2="115.00" y2="624.19" stroke="#000" stroke-width="1.4375"/>
<line x1="137.60" y1="621.90" x2="147.70" y2="621.90" stroke="#000" stroke-width="1.4375"/>
<line x1="147.70" y1="619.61" x2="147.70" y2="624.19" stroke="#000" stroke-width="1.4375"/>
<rect x="128.00" y="618.85" width="9.60" height="6.10" fill="#b962c8" stroke="#000" stroke-width="1.25"/>
<line x1="134.80" y1="618.85" x2="134.80" y2="624.95" stroke="#000" stroke-width="1.4375"/>
<path d="M291.73,616.35L292.40,618.17L294.34,618.25L292.82,619.46L293.34,621.32L291.73,620.25L290.11,621.32L290.63,619.46L289.11,618.25L291.05,618.17ZM296.98,616.35L297.65,618.17L299.59,618.25L298.07,619.46L298.59,621.32L296.98,620.25L295.36,621.32L295.88,619.46L294.36,618.25L296.30,618.17ZM302.23,616.35L302.90,618.17L304.84,618.25L303.32,619.46L303.84,621.32L302.23,620.25L300.61,621.32L301.13,619.46L299.61,618.25L301.55,618.17ZM307.48,616.35L308.15,618.17L310.09,618.25L308.57,619.46L309.09,621.32L307.48,620.25L305.86,621.32L306.38,619.46L304.86,618.25L306.80,618.17Z" fill="#e0301e"/>
<line x1="97.90" y1="618.70" x2="99.90" y2="618.70" stroke="#000" stroke-width="0.6"/>
<text x="96.90" y="619.90" font-size="4.13" text-anchor="end" stroke="#000" stroke-width="0.05" textLength="23.91" lengthAdjust="spacingAndGlyphs">Fetal B Cells</text>
<line x1="115.20" y1="630.80" x2="134.10" y2="630.80" stroke="#000" stroke-width="1.4375"/>
<line x1="115.20" y1="628.51" x2="115.20" y2="633.09" stroke="#000" stroke-width="1.4375"/>
<line x1="147.70" y1="630.80" x2="166.40" y2="630.80" stroke="#000" stroke-width="1.4375"/>
<line x1="166.40" y1="628.51" x2="166.40" y2="633.09" stroke="#000" stroke-width="1.4375"/>
<rect x="134.10" y="627.75" width="13.60" height="6.10" fill="#000" stroke="#000" stroke-width="1.25"/>
<circle cx="111.50" cy="630.80" r="1.3" fill="#fff" stroke="#000" stroke-width="1.15"/>
<circle cx="173.30" cy="630.80" r="1.3" fill="#fff" stroke="#000" stroke-width="1.15"/>
<line x1="126.60" y1="637.20" x2="140.30" y2="637.20" stroke="#000" stroke-width="1.4375"/>
<line x1="126.60" y1="634.91" x2="126.60" y2="639.49" stroke="#000" stroke-width="1.4375"/>
<line x1="155.50" y1="637.20" x2="172.70" y2="637.20" stroke="#000" stroke-width="1.4375"/>
<line x1="172.70" y1="634.91" x2="172.70" y2="639.49" stroke="#000" stroke-width="1.4375"/>
<rect x="140.30" y="634.15" width="15.20" height="6.10" fill="#b962c8" stroke="#000" stroke-width="1.25"/>
<line x1="150.20" y1="634.15" x2="150.20" y2="640.25" stroke="#000" stroke-width="1.4375"/>
<path d="M296.98,631.65L297.65,633.47L299.59,633.55L298.07,634.76L298.59,636.62L296.98,635.55L295.36,636.62L295.88,634.76L294.36,633.55L296.30,633.47ZM302.23,631.65L302.90,633.47L304.84,633.55L303.32,634.76L303.84,636.62L302.23,635.55L300.61,636.62L301.13,634.76L299.61,633.55L301.55,633.47Z" fill="#e0301e"/>
<line x1="97.90" y1="634.00" x2="99.90" y2="634.00" stroke="#000" stroke-width="0.6"/>
<text x="96.90" y="635.20" font-size="4.13" text-anchor="end" stroke="#000" stroke-width="0.05" textLength="56.03" lengthAdjust="spacingAndGlyphs">Fetal CD8+ Activated T Cells</text>
<line x1="111.50" y1="646.10" x2="120.10" y2="646.10" stroke="#000" stroke-width="1.4375"/>
<line x1="111.50" y1="643.81" x2="111.50" y2="648.39" stroke="#000" stroke-width="1.4375"/>
<line x1="138.80" y1="646.10" x2="155.10" y2="646.10" stroke="#000" stroke-width="1.4375"/>
<line x1="155.10" y1="643.81" x2="155.10" y2="648.39" stroke="#000" stroke-width="1.4375"/>
<rect x="120.10" y="643.05" width="18.70" height="6.10" fill="#000" stroke="#000" stroke-width="1.25"/>
<line x1="128.40" y1="652.50" x2="143.20" y2="652.50" stroke="#000" stroke-width="1.4375"/>
<line x1="143.20" y1="650.21" x2="143.20" y2="654.79" stroke="#000" stroke-width="1.4375"/>
<rect x="111.50" y="649.45" width="16.90" height="6.10" fill="#b962c8" stroke="#000" stroke-width="1.25"/>
<line x1="124.00" y1="649.45" x2="124.00" y2="655.55" stroke="#000" stroke-width="1.4375"/>
<path d="M299.60,646.95L300.28,648.77L302.22,648.85L300.70,650.06L301.22,651.92L299.60,650.85L297.98,651.92L298.50,650.06L296.98,648.85L298.92,648.77Z" fill="#e0301e"/>
<line x1="97.90" y1="649.30" x2="99.90" y2="649.30" stroke="#000" stroke-width="0.6"/>
<text x="96.90" y="650.50" font-size="4.13" text-anchor="end" stroke="#000" stroke-width="0.05" textLength="46.89" lengthAdjust="spacingAndGlyphs">Fetal CD14+ Monocytes</text>
<rect x="111.30" y="507.10" width="12.30" height="3.40" fill="#000"/>
<rect x="99.90" y="458.00" width="256.60" height="199.20" fill="none" stroke="#444" stroke-width="1.7"/>
<line x1="111.50" y1="657.20" x2="111.50" y2="659.20" stroke="#000" stroke-width="0.6"/>
<text x="111.50" y="663.80" font-size="4.13" text-anchor="middle" stroke="#000" stroke-width="0.05" textLength="6.20" lengthAdjust="spacingAndGlyphs">0.0</text>
<line x1="164.90" y1="657.20" x2="164.90" y2="659.20" stroke="#000" stroke-width="0.6"/>
<text x="164.90" y="663.80" font-size="4.13" text-anchor="middle" stroke="#000" stroke-width="0.05" textLength="6.20" lengthAdjust="spacingAndGlyphs">0.1</text>
<line x1="218.30" y1="657.20" x2="218.30" y2="659.20" stroke="#000" stroke-width="0.6"/>
<text x="218.30" y="663.80" font-size="4.13" text-anchor="middle" stroke="#000" stroke-width="0.05" textLength="6.20" lengthAdjust="spacingAndGlyphs">0.2</text>
<line x1="271.70" y1="657.20" x2="271.70" y2="659.20" stroke="#000" stroke-width="0.6"/>
<text x="271.70" y="663.80" font-size="4.13" text-anchor="middle" stroke="#000" stroke-width="0.05" textLength="6.20" lengthAdjust="spacingAndGlyphs">0.3</text>
<line x1="325.10" y1="657.20" x2="325.10" y2="659.20" stroke="#000" stroke-width="0.6"/>
<text x="325.10" y="663.80" font-size="4.13" text-anchor="middle" stroke="#000" stroke-width="0.05" textLength="6.20" lengthAdjust="spacingAndGlyphs">0.4</text>
<text x="228.00" y="668.40" font-size="4.13" text-anchor="middle" stroke="#000" stroke-width="0.05" textLength="60.29" lengthAdjust="spacingAndGlyphs">Percentage of Cells in Placenta</text>
<text x="28.30" y="557.70" font-size="4.13" text-anchor="middle" stroke="#000" stroke-width="0.05" textLength="17.49" lengthAdjust="spacingAndGlyphs" transform="rotate(-90 28.30 557.70)">Cell Type</text>
<rect x="320.3" y="460.3" width="33.3" height="18.0" fill="#fff" fill-opacity="0.8" stroke="#ccc" stroke-width="0.5" rx="1"/>
<text x="337.00" y="464.60" font-size="4.13" text-anchor="middle" stroke="#000" stroke-width="0.05" textLength="18.61" lengthAdjust="spacingAndGlyphs">Condition</text>
<rect x="321.20" y="467.20" width="8.80" height="3.40" fill="#b962c8" stroke="#000" stroke-width="0.9"/>
<rect x="321.20" y="473.00" width="8.80" height="3.40" fill="#000" stroke="#000" stroke-width="0.9"/>
<text x="333.20" y="470.30" font-size="4.13" stroke="#000" stroke-width="0.05" textLength="19.53" lengthAdjust="spacingAndGlyphs">FGR+HDP</text>
<text x="333.20" y="476.10" font-size="4.13" stroke="#000" stroke-width="0.05" textLength="14.10" lengthAdjust="spacingAndGlyphs">Control</text>
<text x="3.20" y="700.10" font-size="33.30" fill="#111" font-weight="bold">C</text>
<line x1="104.90" y1="684.85" x2="111.00" y2="684.85" stroke="#000" stroke-width="1.265"/>
<line x1="111.00" y1="681.06" x2="111.00" y2="688.64" stroke="#000" stroke-width="1.265"/>
<rect x="100.40" y="678.20" width="4.50" height="13.30" fill="#000" stroke="#000" stroke-width="1.1"/>
<circle cx="115.00" cy="684.85" r="1.45" fill="#444" stroke="#000" stroke-width="1.1"/>
<circle cx="117.00" cy="684.85" r="1.45" fill="#444" stroke="#000" stroke-width="1.1"/>
<circle cx="119.00" cy="684.85" r="1.45" fill="#444" stroke="#000" stroke-width="1.1"/>
<circle cx="121.00" cy="684.85" r="1.45" fill="#444" stroke="#000" stroke-width="1.1"/>
<circle cx="123.00" cy="684.85" r="1.45" fill="#444" stroke="#000" stroke-width="1.1"/>
<circle cx="128.00" cy="684.85" r="1.45" fill="#444" stroke="#000" stroke-width="1.1"/>
<circle cx="130.00" cy="684.85" r="1.45" fill="#444" stroke="#000" stroke-width="1.1"/>
<circle cx="134.50" cy="684.85" r="1.45" fill="#444" stroke="#000" stroke-width="1.1"/>
<circle cx="137.00" cy="684.85" r="1.45" fill="#444" stroke="#000" stroke-width="1.1"/>
<circle cx="139.50" cy="684.85" r="1.45" fill="#444" stroke="#000" stroke-width="1.1"/>
<circle cx="143.00" cy="684.85" r="1.45" fill="#444" stroke="#000" stroke-width="1.1"/>
<circle cx="149.50" cy="684.85" r="1.45" fill="#444" stroke="#000" stroke-width="1.1"/>
<circle cx="170.00" cy="684.85" r="1.45" fill="#444" stroke="#000" stroke-width="1.1"/>
<circle cx="228.00" cy="684.85" r="1.45" fill="#444" stroke="#000" stroke-width="1.1"/>
<line x1="130.40" y1="698.35" x2="169.20" y2="698.35" stroke="#000" stroke-width="1.265"/>
<line x1="169.20" y1="694.56" x2="169.20" y2="702.14" stroke="#000" stroke-width="1.265"/>
<rect x="100.40" y="691.70" width="30.00" height="13.30" fill="#ffd3dd" stroke="#000" stroke-width="1.1"/>
<line x1="103.20" y1="691.70" x2="103.20" y2="705.00" stroke="#000" stroke-width="1.265"/>
<circle cx="176.00" cy="698.35" r="1.45" fill="#444" stroke="#000" stroke-width="1.1"/>
<circle cx="178.00" cy="698.35" r="1.45" fill="#444" stroke="#000" stroke-width="1.1"/>
<path d="M316.30,687.85L316.98,689.67L318.92,689.75L317.40,690.96L317.92,692.82L316.30,691.75L314.68,692.82L315.20,690.96L313.68,689.75L315.62,689.67Z" fill="#e0301e"/>
<line x1="86.40" y1="691.60" x2="88.40" y2="691.60" stroke="#000" stroke-width="0.6"/>
<text x="85.10" y="693.50" font-size="4.13" text-anchor="end" stroke="#000" stroke-width="0.05" textLength="31.64" lengthAdjust="spacingAndGlyphs">Maternal B Cells</text>
<line x1="142.10" y1="718.09" x2="196.50" y2="718.09" stroke="#000" stroke-width="1.265"/>
<line x1="196.50" y1="714.30" x2="196.50" y2="721.88" stroke="#000" stroke-width="1.265"/>
<rect x="100.40" y="711.44" width="41.70" height="13.30" fill="#000" stroke="#000" stroke-width="1.1"/>
<circle cx="225.10" cy="718.09" r="1.45" fill="#444" stroke="#000" stroke-width="1.1"/>
<line x1="100.40" y1="731.59" x2="104.50" y2="731.59" stroke="#000" stroke-width="1.265"/>
<line x1="100.40" y1="727.80" x2="100.40" y2="735.38" stroke="#000" stroke-width="1.265"/>
<line x1="145.40" y1="731.59" x2="199.80" y2="731.59" stroke="#000" stroke-width="1.265"/>
<line x1="199.80" y1="727.80" x2="199.80" y2="735.38" stroke="#000" stroke-width="1.265"/>
<rect x="104.50" y="724.94" width="40.90" height="13.30" fill="#ffd3dd" stroke="#000" stroke-width="1.1"/>
<line x1="131.90" y1="724.94" x2="131.90" y2="738.24" stroke="#000" stroke-width="1.265"/>
<circle cx="214.90" cy="731.59" r="1.45" fill="#444" stroke="#000" stroke-width="1.1"/>
<circle cx="235.80" cy="731.59" r="1.45" fill="#444" stroke="#000" stroke-width="1.1"/>
<path d="M316.30,722.05L316.98,723.87L318.92,723.95L317.40,725.16L317.92,727.02L316.30,725.95L314.68,727.02L315.20,725.16L313.68,723.95L315.62,723.87Z" fill="#e0301e"/>
<line x1="86.40" y1="724.84" x2="88.40" y2="724.84" stroke="#000" stroke-width="0.6"/>
<text x="85.10" y="726.74" font-size="4.13" text-anchor="end" stroke="#000" stroke-width="0.05" textLength="54.62" lengthAdjust="spacingAndGlyphs">Maternal CD14+ Monocytes</text>
<line x1="108.60" y1="751.33" x2="152.80" y2="751.33" stroke="#000" stroke-width="1.265"/>
<line x1="108.60" y1="747.54" x2="108.60" y2="755.12" stroke="#000" stroke-width="1.265"/>
<line x1="183.40" y1="751.33" x2="214.90" y2="751.33" stroke="#000" stroke-width="1.265"/>
<line x1="214.90" y1="747.54" x2="214.90" y2="755.12" stroke="#000" stroke-width="1.265"/>
<rect x="152.80" y="744.68" width="30.60" height="13.30" fill="#000" stroke="#000" stroke-width="1.1"/>
<circle cx="238.20" cy="751.33" r="1.45" fill="#444" stroke="#000" stroke-width="1.1"/>
<circle cx="240.70" cy="751.33" r="1.45" fill="#444" stroke="#000" stroke-width="1.1"/>
<circle cx="264.80" cy="751.33" r="1.45" fill="#444" stroke="#000" stroke-width="1.1"/>
<circle cx="275.00" cy="751.33" r="1.45" fill="#444" stroke="#000" stroke-width="1.1"/>
<circle cx="289.30" cy="751.33" r="1.45" fill="#444" stroke="#000" stroke-width="1.1"/>
<line x1="100.40" y1="764.83" x2="127.00" y2="764.83" stroke="#000" stroke-width="1.265"/>
<line x1="100.40" y1="761.04" x2="100.40" y2="768.62" stroke="#000" stroke-width="1.265"/>
<line x1="170.40" y1="764.83" x2="219.80" y2="764.83" stroke="#000" stroke-width="1.265"/>
<line x1="219.80" y1="761.04" x2="219.80" y2="768.62" stroke="#000" stroke-width="1.265"/>
<rect x="127.00" y="758.18" width="43.40" height="13.30" fill="#ffd3dd" stroke="#000" stroke-width="1.1"/>
<line x1="150.30" y1="758.18" x2="150.30" y2="771.48" stroke="#000" stroke-width="1.265"/>
<circle cx="295.00" cy="764.83" r="1.45" fill="#444" stroke="#000" stroke-width="1.1"/>
<path d="M313.82,755.65L314.50,757.47L316.44,757.55L314.92,758.76L315.44,760.62L313.82,759.55L312.21,760.62L312.73,758.76L311.21,757.55L313.15,757.47ZM318.77,755.65L319.45,757.47L321.39,757.55L319.87,758.76L320.39,760.62L318.77,759.55L317.16,760.62L317.68,758.76L316.16,757.55L318.10,757.47Z" fill="#e0301e"/>
<line x1="86.40" y1="758.08" x2="88.40" y2="758.08" stroke="#000" stroke-width="0.6"/>
<text x="85.10" y="759.98" font-size="4.13" text-anchor="end" stroke="#000" stroke-width="0.05" textLength="38.98" lengthAdjust="spacingAndGlyphs">Syncytiotrophoblast</text>
<line x1="100.40" y1="784.57" x2="118.00" y2="784.57" stroke="#000" stroke-width="1.265"/>
<line x1="100.40" y1="780.78" x2="100.40" y2="788.36" stroke="#000" stroke-width="1.265"/>
<line x1="147.90" y1="784.57" x2="174.40" y2="784.57" stroke="#000" stroke-width="1.265"/>
<line x1="174.40" y1="780.78" x2="174.40" y2="788.36" stroke="#000" stroke-width="1.265"/>
<rect x="118.00" y="777.92" width="29.90" height="13.30" fill="#000" stroke="#000" stroke-width="1.1"/>
<circle cx="201.40" cy="784.57" r="1.45" fill="#444" stroke="#000" stroke-width="1.1"/>
<circle cx="217.40" cy="784.57" r="1.45" fill="#444" stroke="#000" stroke-width="1.1"/>
<circle cx="221.00" cy="784.57" r="1.45" fill="#444" stroke="#000" stroke-width="1.1"/>
<circle cx="223.10" cy="784.57" r="1.45" fill="#444" stroke="#000" stroke-width="1.1"/>
<circle cx="252.90" cy="784.57" r="1.45" fill="#444" stroke="#000" stroke-width="1.1"/>
<line x1="100.40" y1="798.07" x2="104.50" y2="798.07" stroke="#000" stroke-width="1.265"/>
<line x1="100.40" y1="794.28" x2="100.40" y2="801.86" stroke="#000" stroke-width="1.265"/>
<line x1="140.90" y1="798.07" x2="163.80" y2="798.07" stroke="#000" stroke-width="1.265"/>
<line x1="163.80" y1="794.28" x2="163.80" y2="801.86" stroke="#000" stroke-width="1.265"/>
<rect x="104.50" y="791.42" width="36.40" height="13.30" fill="#ffd3dd" stroke="#000" stroke-width="1.1"/>
<line x1="118.80" y1="791.42" x2="118.80" y2="804.72" stroke="#000" stroke-width="1.265"/>
<circle cx="198.60" cy="798.07" r="1.45" fill="#444" stroke="#000" stroke-width="1.1"/>
<circle cx="216.50" cy="798.07" r="1.45" fill="#444" stroke="#000" stroke-width="1.1"/>
<circle cx="229.20" cy="798.07" r="1.45" fill="#444" stroke="#000" stroke-width="1.1"/>
<path d="M316.30,789.55L316.98,791.37L318.92,791.45L317.40,792.66L317.92,794.52L316.30,793.45L314.68,794.52L315.20,792.66L313.68,791.45L315.62,791.37Z" fill="#e0301e"/>
<line x1="86.40" y1="791.32" x2="88.40" y2="791.32" stroke="#000" stroke-width="0.6"/>
<text x="85.10" y="793.22" font-size="4.13" text-anchor="end" stroke="#000" stroke-width="0.05" textLength="28.59" lengthAdjust="spacingAndGlyphs">Hofbauer Cells</text>
<line x1="167.10" y1="817.81" x2="212.30" y2="817.81" stroke="#000" stroke-width="1.265"/>
<line x1="167.10" y1="814.02" x2="167.10" y2="821.60" stroke="#000" stroke-width="1.265"/>
<line x1="250.90" y1="817.81" x2="301.20" y2="817.81" stroke="#000" stroke-width="1.265"/>
<line x1="301.20" y1="814.02" x2="301.20" y2="821.60" stroke="#000" stroke-width="1.265"/>
<rect x="212.30" y="811.16" width="38.60" height="13.30" fill="#000" stroke="#000" stroke-width="1.1"/>
<circle cx="118.00" cy="817.81" r="1.45" fill="#444" stroke="#000" stroke-width="1.1"/>
<circle cx="343.70" cy="817.81" r="1.45" fill="#444" stroke="#000" stroke-width="1.1"/>
<line x1="146.20" y1="831.31" x2="193.40" y2="831.31" stroke="#000" stroke-width="1.265"/>
<line x1="146.20" y1="827.52" x2="146.20" y2="835.10" stroke="#000" stroke-width="1.265"/>
<line x1="236.80" y1="831.31" x2="289.30" y2="831.31" stroke="#000" stroke-width="1.265"/>
<line x1="289.30" y1="827.52" x2="289.30" y2="835.10" stroke="#000" stroke-width="1.265"/>
<rect x="193.40" y="824.66" width="43.40" height="13.30" fill="#ffd3dd" stroke="#000" stroke-width="1.1"/>
<line x1="215.30" y1="824.66" x2="215.30" y2="837.96" stroke="#000" stroke-width="1.265"/>
<circle cx="100.40" cy="831.31" r="1.45" fill="#444" stroke="#000" stroke-width="1.1"/>
<path d="M313.82,823.35L314.50,825.17L316.44,825.25L314.92,826.46L315.44,828.32L313.82,827.25L312.21,828.32L312.73,826.46L311.21,825.25L313.15,825.17ZM318.77,823.35L319.45,825.17L321.39,825.25L319.87,826.46L320.39,828.32L318.77,827.25L317.16,828.32L317.68,826.46L316.16,825.25L318.10,825.17Z" fill="#e0301e"/>
<line x1="86.40" y1="824.56" x2="88.40" y2="824.56" stroke="#000" stroke-width="0.6"/>
<text x="85.10" y="826.46" font-size="4.13" text-anchor="end" stroke="#000" stroke-width="0.05" textLength="23.91" lengthAdjust="spacingAndGlyphs">Fetal B Cells</text>
<line x1="100.40" y1="851.05" x2="140.50" y2="851.05" stroke="#000" stroke-width="1.265"/>
<line x1="100.40" y1="847.26" x2="100.40" y2="854.84" stroke="#000" stroke-width="1.265"/>
<line x1="223.10" y1="851.05" x2="297.90" y2="851.05" stroke="#000" stroke-width="1.265"/>
<line x1="297.90" y1="847.26" x2="297.90" y2="854.84" stroke="#000" stroke-width="1.265"/>
<rect x="140.50" y="844.40" width="82.60" height="13.30" fill="#000" stroke="#000" stroke-width="1.1"/>
<line x1="100.40" y1="864.55" x2="135.20" y2="864.55" stroke="#000" stroke-width="1.265"/>
<line x1="100.40" y1="860.76" x2="100.40" y2="868.34" stroke="#000" stroke-width="1.265"/>
<line x1="193.20" y1="864.55" x2="248.80" y2="864.55" stroke="#000" stroke-width="1.265"/>
<line x1="248.80" y1="860.76" x2="248.80" y2="868.34" stroke="#000" stroke-width="1.265"/>
<rect x="135.20" y="857.90" width="58.00" height="13.30" fill="#ffd3dd" stroke="#000" stroke-width="1.1"/>
<line x1="155.60" y1="857.90" x2="155.60" y2="871.20" stroke="#000" stroke-width="1.265"/>
<path d="M316.30,857.35L316.98,859.17L318.92,859.25L317.40,860.46L317.92,862.32L316.30,861.25L314.68,862.32L315.20,860.46L313.68,859.25L315.62,859.17Z" fill="#e0301e"/>
<line x1="86.40" y1="857.80" x2="88.40" y2="857.80" stroke="#000" stroke-width="0.6"/>
<text x="85.10" y="859.70" font-size="4.13" text-anchor="end" stroke="#000" stroke-width="0.05" textLength="46.89" lengthAdjust="spacingAndGlyphs">Fetal CD14+ Monocytes</text>
<rect x="88.40" y="674.90" width="268.80" height="197.80" fill="none" stroke="#222" stroke-width="1.3"/>
<line x1="100.40" y1="872.70" x2="100.40" y2="874.70" stroke="#000" stroke-width="0.6"/>
<text x="100.40" y="880.70" font-size="4.13" text-anchor="middle" stroke="#000" stroke-width="0.05" textLength="8.68" lengthAdjust="spacingAndGlyphs">0.00</text>
<line x1="149.14" y1="872.70" x2="149.14" y2="874.70" stroke="#000" stroke-width="0.6"/>
<text x="149.14" y="880.70" font-size="4.13" text-anchor="middle" stroke="#000" stroke-width="0.05" textLength="8.68" lengthAdjust="spacingAndGlyphs">0.02</text>
<line x1="197.88" y1="872.70" x2="197.88" y2="874.70" stroke="#000" stroke-width="0.6"/>
<text x="197.88" y="880.70" font-size="4.13" text-anchor="middle" stroke="#000" stroke-width="0.05" textLength="8.68" lengthAdjust="spacingAndGlyphs">0.04</text>
<line x1="246.62" y1="872.70" x2="246.62" y2="874.70" stroke="#000" stroke-width="0.6"/>
<text x="246.62" y="880.70" font-size="4.13" text-anchor="middle" stroke="#000" stroke-width="0.05" textLength="8.68" lengthAdjust="spacingAndGlyphs">0.06</text>
<line x1="295.36" y1="872.70" x2="295.36" y2="874.70" stroke="#000" stroke-width="0.6"/>
<text x="295.36" y="880.70" font-size="4.13" text-anchor="middle" stroke="#000" stroke-width="0.05" textLength="8.68" lengthAdjust="spacingAndGlyphs">0.08</text>
<line x1="344.10" y1="872.70" x2="344.10" y2="874.70" stroke="#000" stroke-width="0.6"/>
<text x="344.10" y="880.70" font-size="4.13" text-anchor="middle" stroke="#000" stroke-width="0.05" textLength="8.68" lengthAdjust="spacingAndGlyphs">0.10</text>
<text x="217.80" y="886.00" font-size="4.13" text-anchor="middle" stroke="#000" stroke-width="0.05" textLength="60.29" lengthAdjust="spacingAndGlyphs">Percentage of Cells in Placenta</text>
<text x="28.30" y="774.20" font-size="4.13" text-anchor="middle" stroke="#000" stroke-width="0.05" textLength="17.49" lengthAdjust="spacingAndGlyphs" transform="rotate(-90 28.30 774.20)">Cell Type</text>
<rect x="325.3" y="676.1" width="27.8" height="18.4" fill="#fff" fill-opacity="0.8" stroke="#ccc" stroke-width="0.5" rx="1"/>
<text x="339.20" y="680.60" font-size="4.13" text-anchor="middle" stroke="#000" stroke-width="0.05" textLength="18.61" lengthAdjust="spacingAndGlyphs">Condition</text>
<rect x="326.20" y="683.40" width="8.80" height="3.40" fill="#ffd3dd" stroke="#000" stroke-width="0.9"/>
<rect x="326.20" y="689.40" width="8.80" height="3.40" fill="#000" stroke="#000" stroke-width="0.9"/>
<text x="338.20" y="686.40" font-size="4.13" stroke="#000" stroke-width="0.05" textLength="4.82" lengthAdjust="spacingAndGlyphs">PE</text>
<text x="338.20" y="692.40" font-size="4.13" stroke="#000" stroke-width="0.05" textLength="14.10" lengthAdjust="spacingAndGlyphs">Control</text>
<circle cx="520.6" cy="150.6" r="108.15" fill="#ffdde4" stroke="#1f2d55" stroke-width="1.3"/>
<circle cx="623.9" cy="150.7" r="60.1" fill="rgb(97,124,191)" fill-opacity="0.55" stroke="#1f2d55" stroke-width="1.3"/>
<text x="394.50" y="23.60" font-size="33.30" fill="#111" font-weight="bold">D</text>
<text x="499.4" y="158.7" font-size="24.8" text-anchor="middle" fill="#111">422</text>
<text x="598.3" y="158.7" font-size="24.8" text-anchor="middle" fill="#111">136</text>
<text x="660.7" y="158.7" font-size="24.8" text-anchor="middle" fill="#111">174</text>
<text x="427" y="277.6" font-size="24.5" text-anchor="middle" fill="#f2aec0">Female</text>
<text x="427" y="306.4" font-size="24.5" text-anchor="middle" fill="#f2aec0">Fetus</text>
<text x="649.5" y="277.8" font-size="24.5" text-anchor="middle" fill="#5070bf">Male</text>
<text x="649.5" y="306.8" font-size="24.5" text-anchor="middle" fill="#5070bf">Fetus</text>
<text x="378.60" y="378.70" font-size="33.30" fill="#111" font-weight="bold">E</text>
<text x="493.00" y="376.40" font-size="24.50" fill="#f4b6c8">Female Fetus</text>
<rect x="534.60" y="390.35" width="100.47" height="13.50" fill="#ffc0cb"/>
<line x1="532.40" y1="397.10" x2="534.60" y2="397.10" stroke="#000" stroke-width="0.8"/>
<text x="531.30" y="400.50" font-size="7.95" text-anchor="end" stroke="#000" stroke-width="0.22" textLength="49.21" lengthAdjust="spacingAndGlyphs">Phagocytosis</text>
<rect x="534.60" y="412.75" width="85.19" height="13.50" fill="#ffc0cb"/>
<line x1="532.40" y1="419.50" x2="534.60" y2="419.50" stroke="#000" stroke-width="0.8"/>
<text x="531.30" y="418.70" font-size="7.95" text-anchor="end" stroke="#000" stroke-width="0.22" textLength="82.27" lengthAdjust="spacingAndGlyphs">Positive Regulation Of</text>
<text x="531.30" y="427.10" font-size="7.95" text-anchor="end" stroke="#000" stroke-width="0.22" textLength="51.76" lengthAdjust="spacingAndGlyphs">Cell Migration</text>
<rect x="534.60" y="435.15" width="85.19" height="13.50" fill="#ffc0cb"/>
<line x1="532.40" y1="441.90" x2="534.60" y2="441.90" stroke="#000" stroke-width="0.8"/>
<text x="531.30" y="441.10" font-size="7.95" text-anchor="end" stroke="#000" stroke-width="0.22" textLength="82.27" lengthAdjust="spacingAndGlyphs">Positive Regulation Of</text>
<text x="531.30" y="449.50" font-size="7.95" text-anchor="end" stroke="#000" stroke-width="0.22" textLength="73.81" lengthAdjust="spacingAndGlyphs">MAP Kinase Activity</text>
<rect x="534.60" y="457.55" width="85.19" height="13.50" fill="#ffc0cb"/>
<line x1="532.40" y1="464.30" x2="534.60" y2="464.30" stroke="#000" stroke-width="0.8"/>
<text x="531.30" y="463.50" font-size="7.95" text-anchor="end" stroke="#000" stroke-width="0.22" textLength="110.95" lengthAdjust="spacingAndGlyphs">Positive Regulation Of Protein</text>
<text x="531.30" y="471.90" font-size="7.95" text-anchor="end" stroke="#000" stroke-width="0.22" textLength="121.79" lengthAdjust="spacingAndGlyphs">Serine/Threonine Kinase Activity</text>
<rect x="534.60" y="479.85" width="85.19" height="13.50" fill="#ffc0cb"/>
<line x1="532.40" y1="486.60" x2="534.60" y2="486.60" stroke="#000" stroke-width="0.8"/>
<text x="531.30" y="485.80" font-size="7.95" text-anchor="end" stroke="#000" stroke-width="0.22" textLength="125.51" lengthAdjust="spacingAndGlyphs">Transmembrane Receptor Protein</text>
<text x="531.30" y="494.20" font-size="7.95" text-anchor="end" stroke="#000" stroke-width="0.22" textLength="129.02" lengthAdjust="spacingAndGlyphs">Tyrosine Kinase Signaling Pathway</text>
<line x1="534.60" y1="385.00" x2="534.60" y2="498.20" stroke="#000" stroke-width="1.25"/>
<line x1="534.00" y1="497.60" x2="673.50" y2="497.60" stroke="#000" stroke-width="1.25"/>
<line x1="534.60" y1="497.60" x2="534.60" y2="500.00" stroke="#000" stroke-width="0.8"/>
<text x="534.60" y="506.40" font-size="7.95" text-anchor="middle" stroke="#000" stroke-width="0.22" textLength="11.93" lengthAdjust="spacingAndGlyphs">0.0</text>
<line x1="557.75" y1="497.60" x2="557.75" y2="500.00" stroke="#000" stroke-width="0.8"/>
<text x="557.75" y="506.40" font-size="7.95" text-anchor="middle" stroke="#000" stroke-width="0.22" textLength="11.93" lengthAdjust="spacingAndGlyphs">0.5</text>
<line x1="580.90" y1="497.60" x2="580.90" y2="500.00" stroke="#000" stroke-width="0.8"/>
<text x="580.90" y="506.40" font-size="7.95" text-anchor="middle" stroke="#000" stroke-width="0.22" textLength="11.93" lengthAdjust="spacingAndGlyphs">1.0</text>
<line x1="604.05" y1="497.60" x2="604.05" y2="500.00" stroke="#000" stroke-width="0.8"/>
<text x="604.05" y="506.40" font-size="7.95" text-anchor="middle" stroke="#000" stroke-width="0.22" textLength="11.93" lengthAdjust="spacingAndGlyphs">1.5</text>
<line x1="627.20" y1="497.60" x2="627.20" y2="500.00" stroke="#000" stroke-width="0.8"/>
<text x="627.20" y="506.40" font-size="7.95" text-anchor="middle" stroke="#000" stroke-width="0.22" textLength="11.93" lengthAdjust="spacingAndGlyphs">2.0</text>
<line x1="650.35" y1="497.60" x2="650.35" y2="500.00" stroke="#000" stroke-width="0.8"/>
<text x="650.35" y="506.40" font-size="7.95" text-anchor="middle" stroke="#000" stroke-width="0.22" textLength="11.93" lengthAdjust="spacingAndGlyphs">2.5</text>
<line x1="673.50" y1="497.60" x2="673.50" y2="500.00" stroke="#000" stroke-width="0.8"/>
<text x="673.50" y="506.40" font-size="7.95" text-anchor="middle" stroke="#000" stroke-width="0.22" textLength="11.93" lengthAdjust="spacingAndGlyphs">3.0</text>
<text x="604.05" y="514.80" font-size="7.95" text-anchor="middle" stroke="#000" stroke-width="0.22" textLength="53.82" lengthAdjust="spacingAndGlyphs">-log10 p-value</text>
<text x="484.60" y="554.80" font-size="24.50" fill="#b45cc4">Both Fetal Sexes</text>
<rect x="487.60" y="569.00" width="81.18" height="17.20" fill="#b058c0"/>
<line x1="485.40" y1="577.60" x2="487.60" y2="577.60" stroke="#000" stroke-width="0.8"/>
<text x="484.30" y="576.80" font-size="7.95" text-anchor="end" stroke="#000" stroke-width="0.22" textLength="57.53" lengthAdjust="spacingAndGlyphs">B Cell Receptor</text>
<text x="484.30" y="585.20" font-size="7.95" text-anchor="end" stroke="#000" stroke-width="0.22" textLength="68.66" lengthAdjust="spacingAndGlyphs">Signaling Pathway</text>
<rect x="487.60" y="597.40" width="81.18" height="17.20" fill="#b058c0"/>
<line x1="485.40" y1="606.00" x2="487.60" y2="606.00" stroke="#000" stroke-width="0.8"/>
<text x="484.30" y="605.20" font-size="7.95" text-anchor="end" stroke="#000" stroke-width="0.22" textLength="82.27" lengthAdjust="spacingAndGlyphs">Positive Regulation Of</text>
<text x="484.30" y="613.60" font-size="7.95" text-anchor="end" stroke="#000" stroke-width="0.22" textLength="67.10" lengthAdjust="spacingAndGlyphs">Metabolic Process</text>
<rect x="487.60" y="625.80" width="81.18" height="17.20" fill="#b058c0"/>
<line x1="485.40" y1="634.40" x2="487.60" y2="634.40" stroke="#000" stroke-width="0.8"/>
<text x="484.30" y="633.60" font-size="7.95" text-anchor="end" stroke="#000" stroke-width="0.22" textLength="82.27" lengthAdjust="spacingAndGlyphs">Positive Regulation Of</text>
<text x="484.30" y="642.00" font-size="7.95" text-anchor="end" stroke="#000" stroke-width="0.22" textLength="69.57" lengthAdjust="spacingAndGlyphs">p38MAPK Cascade</text>
<rect x="487.60" y="654.20" width="81.18" height="17.20" fill="#b058c0"/>
<line x1="485.40" y1="662.80" x2="487.60" y2="662.80" stroke="#000" stroke-width="0.8"/>
<text x="484.30" y="662.00" font-size="7.95" text-anchor="end" stroke="#000" stroke-width="0.22" textLength="76.78" lengthAdjust="spacingAndGlyphs">Venous Blood Vessel</text>
<text x="484.30" y="670.40" font-size="7.95" text-anchor="end" stroke="#000" stroke-width="0.22" textLength="56.89" lengthAdjust="spacingAndGlyphs">Morphogenesis</text>
<line x1="487.60" y1="563.60" x2="487.60" y2="676.90" stroke="#000" stroke-width="1.25"/>
<line x1="487.00" y1="676.30" x2="673.50" y2="676.30" stroke="#000" stroke-width="1.25"/>
<line x1="487.60" y1="676.30" x2="487.60" y2="678.70" stroke="#000" stroke-width="0.8"/>
<text x="487.60" y="685.10" font-size="7.95" text-anchor="middle" stroke="#000" stroke-width="0.22" textLength="11.93" lengthAdjust="spacingAndGlyphs">0.0</text>
<line x1="518.58" y1="676.30" x2="518.58" y2="678.70" stroke="#000" stroke-width="0.8"/>
<text x="518.58" y="685.10" font-size="7.95" text-anchor="middle" stroke="#000" stroke-width="0.22" textLength="11.93" lengthAdjust="spacingAndGlyphs">0.5</text>
<line x1="549.57" y1="676.30" x2="549.57" y2="678.70" stroke="#000" stroke-width="0.8"/>
<text x="549.57" y="685.10" font-size="7.95" text-anchor="middle" stroke="#000" stroke-width="0.22" textLength="11.93" lengthAdjust="spacingAndGlyphs">1.0</text>
<line x1="580.55" y1="676.30" x2="580.55" y2="678.70" stroke="#000" stroke-width="0.8"/>
<text x="580.55" y="685.10" font-size="7.95" text-anchor="middle" stroke="#000" stroke-width="0.22" textLength="11.93" lengthAdjust="spacingAndGlyphs">1.5</text>
<line x1="611.53" y1="676.30" x2="611.53" y2="678.70" stroke="#000" stroke-width="0.8"/>
<text x="611.53" y="685.10" font-size="7.95" text-anchor="middle" stroke="#000" stroke-width="0.22" textLength="11.93" lengthAdjust="spacingAndGlyphs">2.0</text>
<line x1="642.52" y1="676.30" x2="642.52" y2="678.70" stroke="#000" stroke-width="0.8"/>
<text x="642.52" y="685.10" font-size="7.95" text-anchor="middle" stroke="#000" stroke-width="0.22" textLength="11.93" lengthAdjust="spacingAndGlyphs">2.5</text>
<line x1="673.50" y1="676.30" x2="673.50" y2="678.70" stroke="#000" stroke-width="0.8"/>
<text x="673.50" y="685.10" font-size="7.95" text-anchor="middle" stroke="#000" stroke-width="0.22" textLength="11.93" lengthAdjust="spacingAndGlyphs">3.0</text>
<text x="580.55" y="693.40" font-size="7.95" text-anchor="middle" stroke="#000" stroke-width="0.22" textLength="53.82" lengthAdjust="spacingAndGlyphs">-log10 p-value</text>
<text x="517.70" y="733.90" font-size="24.50" fill="#7f9dd6">Male Fetus</text>
<rect x="530.30" y="747.20" width="25.06" height="16.80" fill="#7b97d3"/>
<line x1="528.10" y1="755.60" x2="530.30" y2="755.60" stroke="#000" stroke-width="0.8"/>
<text x="527.00" y="754.80" font-size="7.95" text-anchor="end" stroke="#000" stroke-width="0.22" textLength="82.27" lengthAdjust="spacingAndGlyphs">Positive Regulation Of</text>
<text x="527.00" y="763.20" font-size="7.95" text-anchor="end" stroke="#000" stroke-width="0.22" textLength="124.77" lengthAdjust="spacingAndGlyphs">Hemoglobin Biosynthetic Process</text>
<text x="556.96" y="759.80" font-size="15.80">ns</text>
<rect x="530.30" y="775.80" width="25.06" height="16.80" fill="#7b97d3"/>
<line x1="528.10" y1="784.20" x2="530.30" y2="784.20" stroke="#000" stroke-width="0.8"/>
<text x="527.00" y="783.40" font-size="7.95" text-anchor="end" stroke="#000" stroke-width="0.22" textLength="82.27" lengthAdjust="spacingAndGlyphs">Positive Regulation Of</text>
<text x="527.00" y="791.80" font-size="7.95" text-anchor="end" stroke="#000" stroke-width="0.22" textLength="99.37" lengthAdjust="spacingAndGlyphs">Tau-Protein Kinase Activity</text>
<text x="556.96" y="788.40" font-size="15.80">ns</text>
<rect x="530.30" y="804.40" width="25.06" height="16.80" fill="#7b97d3"/>
<line x1="528.10" y1="812.80" x2="530.30" y2="812.80" stroke="#000" stroke-width="0.8"/>
<text x="527.00" y="812.00" font-size="7.95" text-anchor="end" stroke="#000" stroke-width="0.22" textLength="86.83" lengthAdjust="spacingAndGlyphs">Intracellular Phosphate</text>
<text x="527.00" y="820.40" font-size="7.95" text-anchor="end" stroke="#000" stroke-width="0.22" textLength="62.02" lengthAdjust="spacingAndGlyphs">Ion Homeostasis</text>
<text x="556.96" y="817.00" font-size="15.80">ns</text>
<rect x="530.30" y="833.10" width="25.06" height="16.80" fill="#7b97d3"/>
<line x1="528.10" y1="841.50" x2="530.30" y2="841.50" stroke="#000" stroke-width="0.8"/>
<text x="527.00" y="844.90" font-size="7.95" text-anchor="end" stroke="#000" stroke-width="0.22" textLength="84.84" lengthAdjust="spacingAndGlyphs">Kidney Morphogenesis</text>
<text x="556.96" y="845.70" font-size="15.80">ns</text>
<line x1="530.30" y1="741.40" x2="530.30" y2="855.00" stroke="#000" stroke-width="1.25"/>
<line x1="529.70" y1="854.40" x2="673.50" y2="854.40" stroke="#000" stroke-width="1.25"/>
<line x1="530.30" y1="854.40" x2="530.30" y2="856.80" stroke="#000" stroke-width="0.8"/>
<text x="530.30" y="863.20" font-size="7.95" text-anchor="middle" stroke="#000" stroke-width="0.22" textLength="11.93" lengthAdjust="spacingAndGlyphs">0.0</text>
<line x1="554.17" y1="854.40" x2="554.17" y2="856.80" stroke="#000" stroke-width="0.8"/>
<text x="554.17" y="863.20" font-size="7.95" text-anchor="middle" stroke="#000" stroke-width="0.22" textLength="11.93" lengthAdjust="spacingAndGlyphs">0.5</text>
<line x1="578.03" y1="854.40" x2="578.03" y2="856.80" stroke="#000" stroke-width="0.8"/>
<text x="578.03" y="863.20" font-size="7.95" text-anchor="middle" stroke="#000" stroke-width="0.22" textLength="11.93" lengthAdjust="spacingAndGlyphs">1.0</text>
<line x1="601.90" y1="854.40" x2="601.90" y2="856.80" stroke="#000" stroke-width="0.8"/>
<text x="601.90" y="863.20" font-size="7.95" text-anchor="middle" stroke="#000" stroke-width="0.22" textLength="11.93" lengthAdjust="spacingAndGlyphs">1.5</text>
<line x1="625.77" y1="854.40" x2="625.77" y2="856.80" stroke="#000" stroke-width="0.8"/>
<text x="625.77" y="863.20" font-size="7.95" text-anchor="middle" stroke="#000" stroke-width="0.22" textLength="11.93" lengthAdjust="spacingAndGlyphs">2.0</text>
<line x1="649.63" y1="854.40" x2="649.63" y2="856.80" stroke="#000" stroke-width="0.8"/>
<text x="649.63" y="863.20" font-size="7.95" text-anchor="middle" stroke="#000" stroke-width="0.22" textLength="11.93" lengthAdjust="spacingAndGlyphs">2.5</text>
<line x1="673.50" y1="854.40" x2="673.50" y2="856.80" stroke="#000" stroke-width="0.8"/>
<text x="673.50" y="863.20" font-size="7.95" text-anchor="middle" stroke="#000" stroke-width="0.22" textLength="11.93" lengthAdjust="spacingAndGlyphs">3.0</text>
<text x="601.90" y="871.40" font-size="7.95" text-anchor="middle" stroke="#000" stroke-width="0.22" textLength="53.82" lengthAdjust="spacingAndGlyphs">-log10 p-value</text>
</svg>
</body></html>
